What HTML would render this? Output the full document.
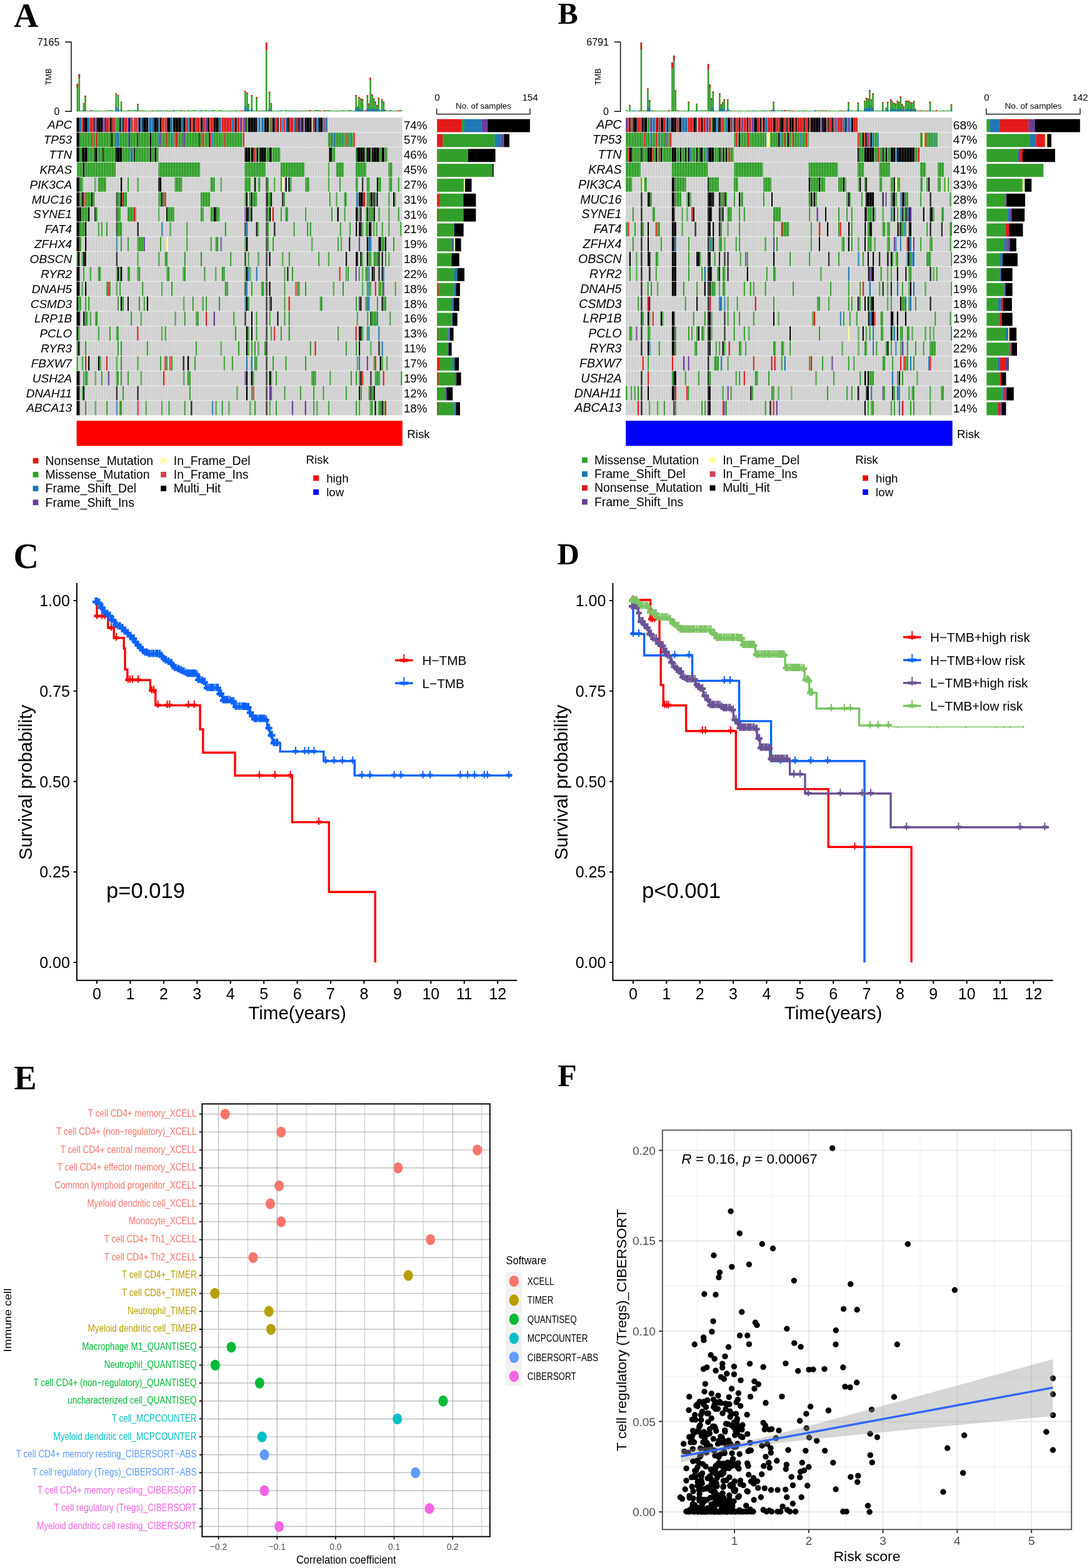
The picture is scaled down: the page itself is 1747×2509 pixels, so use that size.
<!DOCTYPE html>
<html lang="en"><head><meta charset="utf-8"><title>Figure: TMB, survival and immune correlation</title>
<style>
html,body{margin:0;padding:0;background:#fff}
body{width:1747px;height:2509px;overflow:hidden}
svg{display:block;font-family:"Liberation Sans", Arial, Helvetica, sans-serif}
</style></head><body>
<svg width="1747" height="2509" viewBox="0 0 1747 2509">
<rect width="1747" height="2509" fill="#fff"/>
<text x="22" y="43.1" font-size="54.5" font-family='"Liberation Serif", "Times New Roman", serif' font-weight="bold">A</text>
<text x="892.6" y="37.7" font-size="48.2" font-family='"Liberation Serif", "Times New Roman", serif' font-weight="bold">B</text>
<text x="21.6" y="908.8" font-size="56" font-family='"Liberation Serif", "Times New Roman", serif' font-weight="bold">C</text>
<text x="891.6" y="903.3" font-size="48.9" font-family='"Liberation Serif", "Times New Roman", serif' font-weight="bold">D</text>
<text x="22.4" y="1742.8" font-size="54" font-family='"Liberation Serif", "Times New Roman", serif' font-weight="bold">E</text>
<text x="892.2" y="1738.2" font-size="49.8" font-family='"Liberation Serif", "Times New Roman", serif' font-weight="bold">F</text>
<path d="M104 67.3H114V178.2H104" stroke="#000" stroke-width="1.4" fill="none"/>
<text x="95.3" y="73.4" font-size="16" text-anchor="end">7165</text>
<text x="95.3" y="184.1" font-size="16" text-anchor="end">0</text>
<text x="0" y="0" font-size="12.6" text-anchor="middle" transform="translate(82 123) rotate(-90)">TMB</text>
<g shape-rendering="auto">
<rect x="122.6" y="177" width="2.6" height="1.2" fill="#1F78B4"/>
<rect x="125.2" y="176.1" width="2.6" height="2.1" fill="#33A02C"/>
<rect x="127.81" y="176.8" width="2.6" height="1.4" fill="#33A02C"/>
<rect x="130.41" y="176.5" width="2.6" height="1.7" fill="#33A02C"/>
<rect x="133.01" y="176.5" width="2.6" height="1.7" fill="#E31A1C"/>
<rect x="135.62" y="176.1" width="2.6" height="2.1" fill="#33A02C"/>
<rect x="138.22" y="177.2" width="2.6" height="1" fill="#33A02C"/>
<rect x="140.82" y="177.2" width="2.6" height="1" fill="#E31A1C"/>
<rect x="143.43" y="176.5" width="2.6" height="1.7" fill="#1F78B4"/>
<rect x="146.03" y="176.1" width="2.6" height="2.1" fill="#33A02C"/>
<rect x="148.63" y="177.1" width="2.6" height="1.1" fill="#33A02C"/>
<rect x="151.24" y="176.8" width="2.6" height="1.4" fill="#33A02C"/>
<rect x="153.84" y="176.9" width="2.6" height="1.3" fill="#33A02C"/>
<rect x="156.45" y="176.8" width="2.6" height="1.4" fill="#33A02C"/>
<rect x="159.05" y="177.2" width="2.6" height="1" fill="#33A02C"/>
<rect x="161.65" y="177.1" width="2.6" height="1.1" fill="#33A02C"/>
<rect x="164.26" y="177.2" width="2.6" height="1" fill="#E31A1C"/>
<rect x="166.86" y="177.1" width="2.6" height="1.1" fill="#33A02C"/>
<rect x="169.46" y="176.5" width="2.6" height="1.7" fill="#33A02C"/>
<rect x="172.07" y="176.9" width="2.6" height="1.3" fill="#33A02C"/>
<rect x="174.67" y="176.1" width="2.6" height="2.1" fill="#33A02C"/>
<rect x="177.27" y="176.5" width="2.6" height="1.7" fill="#33A02C"/>
<rect x="179.88" y="177" width="2.6" height="1.2" fill="#33A02C"/>
<rect x="182.48" y="177" width="2.6" height="1.2" fill="#33A02C"/>
<rect x="185.08" y="176.1" width="2.6" height="2.1" fill="#33A02C"/>
<rect x="187.69" y="176.8" width="2.6" height="1.4" fill="#33A02C"/>
<rect x="190.29" y="176.5" width="2.6" height="1.7" fill="#33A02C"/>
<rect x="192.89" y="177.1" width="2.6" height="1.1" fill="#33A02C"/>
<rect x="195.5" y="177" width="2.6" height="1.2" fill="#33A02C"/>
<rect x="198.1" y="177.2" width="2.6" height="1" fill="#33A02C"/>
<rect x="200.7" y="177.1" width="2.6" height="1.1" fill="#33A02C"/>
<rect x="203.31" y="176.5" width="2.6" height="1.7" fill="#33A02C"/>
<rect x="205.91" y="176.1" width="2.6" height="2.1" fill="#33A02C"/>
<rect x="208.52" y="176.8" width="2.6" height="1.4" fill="#33A02C"/>
<rect x="211.12" y="176.9" width="2.6" height="1.3" fill="#33A02C"/>
<rect x="213.72" y="176.1" width="2.6" height="2.1" fill="#33A02C"/>
<rect x="216.33" y="176.5" width="2.6" height="1.7" fill="#1F78B4"/>
<rect x="218.93" y="176.1" width="2.6" height="2.1" fill="#33A02C"/>
<rect x="221.53" y="176.5" width="2.6" height="1.7" fill="#33A02C"/>
<rect x="224.14" y="177.1" width="2.6" height="1.1" fill="#E31A1C"/>
<rect x="226.74" y="176.5" width="2.6" height="1.7" fill="#33A02C"/>
<rect x="229.34" y="176.8" width="2.6" height="1.4" fill="#33A02C"/>
<rect x="231.95" y="177.1" width="2.6" height="1.1" fill="#33A02C"/>
<rect x="234.55" y="177.2" width="2.6" height="1" fill="#33A02C"/>
<rect x="237.15" y="177.1" width="2.6" height="1.1" fill="#33A02C"/>
<rect x="239.76" y="177.2" width="2.6" height="1" fill="#33A02C"/>
<rect x="242.36" y="176.9" width="2.6" height="1.3" fill="#E31A1C"/>
<rect x="244.96" y="176.8" width="2.6" height="1.4" fill="#33A02C"/>
<rect x="247.57" y="177.1" width="2.6" height="1.1" fill="#33A02C"/>
<rect x="250.17" y="176.5" width="2.6" height="1.7" fill="#33A02C"/>
<rect x="252.77" y="176.8" width="2.6" height="1.4" fill="#1F78B4"/>
<rect x="255.38" y="176.9" width="2.6" height="1.3" fill="#1F78B4"/>
<rect x="257.98" y="176.5" width="2.6" height="1.7" fill="#33A02C"/>
<rect x="260.59" y="177" width="2.6" height="1.2" fill="#33A02C"/>
<rect x="263.19" y="177" width="2.6" height="1.2" fill="#33A02C"/>
<rect x="265.79" y="176.1" width="2.6" height="2.1" fill="#33A02C"/>
<rect x="268.4" y="176.9" width="2.6" height="1.3" fill="#33A02C"/>
<rect x="271" y="177" width="2.6" height="1.2" fill="#E31A1C"/>
<rect x="273.6" y="176.9" width="2.6" height="1.3" fill="#33A02C"/>
<rect x="276.21" y="176.1" width="2.6" height="2.1" fill="#1F78B4"/>
<rect x="278.81" y="176.8" width="2.6" height="1.4" fill="#33A02C"/>
<rect x="281.41" y="176.8" width="2.6" height="1.4" fill="#33A02C"/>
<rect x="284.02" y="176.9" width="2.6" height="1.3" fill="#33A02C"/>
<rect x="286.62" y="176.5" width="2.6" height="1.7" fill="#33A02C"/>
<rect x="289.22" y="176.1" width="2.6" height="2.1" fill="#33A02C"/>
<rect x="291.83" y="176.9" width="2.6" height="1.3" fill="#33A02C"/>
<rect x="294.43" y="177" width="2.6" height="1.2" fill="#E31A1C"/>
<rect x="297.03" y="177.2" width="2.6" height="1" fill="#33A02C"/>
<rect x="299.64" y="176.1" width="2.6" height="2.1" fill="#33A02C"/>
<rect x="302.24" y="176.9" width="2.6" height="1.3" fill="#33A02C"/>
<rect x="304.84" y="177" width="2.6" height="1.2" fill="#33A02C"/>
<rect x="307.45" y="176.5" width="2.6" height="1.7" fill="#33A02C"/>
<rect x="310.05" y="176.1" width="2.6" height="2.1" fill="#33A02C"/>
<rect x="312.66" y="176.5" width="2.6" height="1.7" fill="#33A02C"/>
<rect x="315.26" y="177.2" width="2.6" height="1" fill="#33A02C"/>
<rect x="317.86" y="176.9" width="2.6" height="1.3" fill="#1F78B4"/>
<rect x="320.47" y="176.1" width="2.6" height="2.1" fill="#1F78B4"/>
<rect x="323.07" y="176.8" width="2.6" height="1.4" fill="#33A02C"/>
<rect x="325.67" y="176.9" width="2.6" height="1.3" fill="#33A02C"/>
<rect x="328.28" y="176.1" width="2.6" height="2.1" fill="#33A02C"/>
<rect x="330.88" y="177.1" width="2.6" height="1.1" fill="#33A02C"/>
<rect x="333.48" y="176.9" width="2.6" height="1.3" fill="#1F78B4"/>
<rect x="336.09" y="177" width="2.6" height="1.2" fill="#33A02C"/>
<rect x="338.69" y="176.1" width="2.6" height="2.1" fill="#33A02C"/>
<rect x="341.29" y="176.1" width="2.6" height="2.1" fill="#33A02C"/>
<rect x="343.9" y="177.2" width="2.6" height="1" fill="#33A02C"/>
<rect x="346.5" y="177.2" width="2.6" height="1" fill="#33A02C"/>
<rect x="349.1" y="176.5" width="2.6" height="1.7" fill="#33A02C"/>
<rect x="351.71" y="176.1" width="2.6" height="2.1" fill="#33A02C"/>
<rect x="354.31" y="177" width="2.6" height="1.2" fill="#33A02C"/>
<rect x="356.91" y="177.2" width="2.6" height="1" fill="#1F78B4"/>
<rect x="359.52" y="177" width="2.6" height="1.2" fill="#33A02C"/>
<rect x="362.12" y="176.8" width="2.6" height="1.4" fill="#33A02C"/>
<rect x="364.73" y="177" width="2.6" height="1.2" fill="#33A02C"/>
<rect x="367.33" y="176.8" width="2.6" height="1.4" fill="#33A02C"/>
<rect x="369.93" y="177" width="2.6" height="1.2" fill="#33A02C"/>
<rect x="372.54" y="177.1" width="2.6" height="1.1" fill="#33A02C"/>
<rect x="375.14" y="176.5" width="2.6" height="1.7" fill="#33A02C"/>
<rect x="377.74" y="176.5" width="2.6" height="1.7" fill="#33A02C"/>
<rect x="380.35" y="177.2" width="2.6" height="1" fill="#33A02C"/>
<rect x="382.95" y="176.8" width="2.6" height="1.4" fill="#E31A1C"/>
<rect x="385.55" y="176.8" width="2.6" height="1.4" fill="#E31A1C"/>
<rect x="388.16" y="176.1" width="2.6" height="2.1" fill="#33A02C"/>
<rect x="390.76" y="176.8" width="2.6" height="1.4" fill="#33A02C"/>
<rect x="393.36" y="176.8" width="2.6" height="1.4" fill="#33A02C"/>
<rect x="395.97" y="177" width="2.6" height="1.2" fill="#1F78B4"/>
<rect x="398.57" y="176.5" width="2.6" height="1.7" fill="#33A02C"/>
<rect x="401.17" y="177" width="2.6" height="1.2" fill="#33A02C"/>
<rect x="403.78" y="176.5" width="2.6" height="1.7" fill="#33A02C"/>
<rect x="406.38" y="177.2" width="2.6" height="1" fill="#33A02C"/>
<rect x="408.98" y="176.5" width="2.6" height="1.7" fill="#33A02C"/>
<rect x="411.59" y="177.1" width="2.6" height="1.1" fill="#E31A1C"/>
<rect x="414.19" y="176.9" width="2.6" height="1.3" fill="#33A02C"/>
<rect x="416.8" y="177.1" width="2.6" height="1.1" fill="#33A02C"/>
<rect x="419.4" y="176.5" width="2.6" height="1.7" fill="#33A02C"/>
<rect x="422" y="176.9" width="2.6" height="1.3" fill="#33A02C"/>
<rect x="424.61" y="176.5" width="2.6" height="1.7" fill="#1F78B4"/>
<rect x="427.21" y="176.1" width="2.6" height="2.1" fill="#33A02C"/>
<rect x="429.81" y="177.1" width="2.6" height="1.1" fill="#E31A1C"/>
<rect x="432.42" y="177.2" width="2.6" height="1" fill="#33A02C"/>
<rect x="435.02" y="177" width="2.6" height="1.2" fill="#33A02C"/>
<rect x="437.62" y="177.2" width="2.6" height="1" fill="#33A02C"/>
<rect x="440.23" y="177.2" width="2.6" height="1" fill="#33A02C"/>
<rect x="442.83" y="176.8" width="2.6" height="1.4" fill="#33A02C"/>
<rect x="445.43" y="177.1" width="2.6" height="1.1" fill="#33A02C"/>
<rect x="448.04" y="176.5" width="2.6" height="1.7" fill="#1F78B4"/>
<rect x="450.64" y="176.8" width="2.6" height="1.4" fill="#33A02C"/>
<rect x="453.24" y="177.2" width="2.6" height="1" fill="#33A02C"/>
<rect x="455.85" y="176.1" width="2.6" height="2.1" fill="#33A02C"/>
<rect x="458.45" y="176.9" width="2.6" height="1.3" fill="#33A02C"/>
<rect x="461.05" y="176.9" width="2.6" height="1.3" fill="#33A02C"/>
<rect x="463.66" y="177" width="2.6" height="1.2" fill="#1F78B4"/>
<rect x="466.26" y="176.9" width="2.6" height="1.3" fill="#33A02C"/>
<rect x="468.87" y="176.5" width="2.6" height="1.7" fill="#33A02C"/>
<rect x="471.47" y="176.8" width="2.6" height="1.4" fill="#33A02C"/>
<rect x="474.07" y="177" width="2.6" height="1.2" fill="#1F78B4"/>
<rect x="476.68" y="177.1" width="2.6" height="1.1" fill="#E31A1C"/>
<rect x="479.28" y="176.9" width="2.6" height="1.3" fill="#33A02C"/>
<rect x="481.88" y="176.5" width="2.6" height="1.7" fill="#33A02C"/>
<rect x="484.49" y="177.1" width="2.6" height="1.1" fill="#E31A1C"/>
<rect x="487.09" y="176.8" width="2.6" height="1.4" fill="#33A02C"/>
<rect x="489.69" y="176.5" width="2.6" height="1.7" fill="#33A02C"/>
<rect x="492.3" y="176.8" width="2.6" height="1.4" fill="#1F78B4"/>
<rect x="494.9" y="176.1" width="2.6" height="2.1" fill="#E31A1C"/>
<rect x="497.5" y="176.8" width="2.6" height="1.4" fill="#33A02C"/>
<rect x="500.11" y="177" width="2.6" height="1.2" fill="#33A02C"/>
<rect x="502.71" y="176.1" width="2.6" height="2.1" fill="#33A02C"/>
<rect x="505.31" y="176.1" width="2.6" height="2.1" fill="#1F78B4"/>
<rect x="507.92" y="176.1" width="2.6" height="2.1" fill="#33A02C"/>
<rect x="510.52" y="176.8" width="2.6" height="1.4" fill="#E31A1C"/>
<rect x="513.12" y="177" width="2.6" height="1.2" fill="#33A02C"/>
<rect x="515.73" y="177.1" width="2.6" height="1.1" fill="#33A02C"/>
<rect x="518.33" y="176.1" width="2.6" height="2.1" fill="#E31A1C"/>
<rect x="520.94" y="176.9" width="2.6" height="1.3" fill="#33A02C"/>
<rect x="523.54" y="176.1" width="2.6" height="2.1" fill="#33A02C"/>
<rect x="526.14" y="176.5" width="2.6" height="1.7" fill="#33A02C"/>
<rect x="528.75" y="177" width="2.6" height="1.2" fill="#33A02C"/>
<rect x="531.35" y="177.1" width="2.6" height="1.1" fill="#33A02C"/>
<rect x="533.95" y="177.2" width="2.6" height="1" fill="#33A02C"/>
<rect x="536.56" y="177" width="2.6" height="1.2" fill="#33A02C"/>
<rect x="539.16" y="176.9" width="2.6" height="1.3" fill="#33A02C"/>
<rect x="541.76" y="176.8" width="2.6" height="1.4" fill="#33A02C"/>
<rect x="544.37" y="176.9" width="2.6" height="1.3" fill="#33A02C"/>
<rect x="546.97" y="176.1" width="2.6" height="2.1" fill="#33A02C"/>
<rect x="549.57" y="176.8" width="2.6" height="1.4" fill="#33A02C"/>
<rect x="552.18" y="176.8" width="2.6" height="1.4" fill="#33A02C"/>
<rect x="554.78" y="176.8" width="2.6" height="1.4" fill="#33A02C"/>
<rect x="557.38" y="176.1" width="2.6" height="2.1" fill="#1F78B4"/>
<rect x="559.99" y="176.1" width="2.6" height="2.1" fill="#33A02C"/>
<rect x="562.59" y="177" width="2.6" height="1.2" fill="#1F78B4"/>
<rect x="565.2" y="176.9" width="2.6" height="1.3" fill="#33A02C"/>
<rect x="567.8" y="176.8" width="2.6" height="1.4" fill="#33A02C"/>
<rect x="570.4" y="176.5" width="2.6" height="1.7" fill="#33A02C"/>
<rect x="573.01" y="176.5" width="2.6" height="1.7" fill="#33A02C"/>
<rect x="575.61" y="176.1" width="2.6" height="2.1" fill="#33A02C"/>
<rect x="578.21" y="176.8" width="2.6" height="1.4" fill="#33A02C"/>
<rect x="580.82" y="176.9" width="2.6" height="1.3" fill="#1F78B4"/>
<rect x="583.42" y="176.1" width="2.6" height="2.1" fill="#E31A1C"/>
<rect x="586.02" y="177.2" width="2.6" height="1" fill="#1F78B4"/>
<rect x="588.63" y="176.9" width="2.6" height="1.3" fill="#33A02C"/>
<rect x="591.23" y="176.9" width="2.6" height="1.3" fill="#33A02C"/>
<rect x="593.83" y="176.8" width="2.6" height="1.4" fill="#33A02C"/>
<rect x="596.44" y="176.8" width="2.6" height="1.4" fill="#1F78B4"/>
<rect x="599.04" y="176.9" width="2.6" height="1.3" fill="#33A02C"/>
<rect x="601.64" y="176.5" width="2.6" height="1.7" fill="#33A02C"/>
<rect x="604.25" y="177.2" width="2.6" height="1" fill="#33A02C"/>
<rect x="606.85" y="176.1" width="2.6" height="2.1" fill="#33A02C"/>
<rect x="609.45" y="177.2" width="2.6" height="1" fill="#1F78B4"/>
<rect x="612.06" y="177.1" width="2.6" height="1.1" fill="#33A02C"/>
<rect x="614.66" y="177.2" width="2.6" height="1" fill="#E31A1C"/>
<rect x="617.27" y="177.2" width="2.6" height="1" fill="#33A02C"/>
<rect x="619.87" y="177" width="2.6" height="1.2" fill="#33A02C"/>
<rect x="622.47" y="176.1" width="2.6" height="2.1" fill="#1F78B4"/>
<rect x="625.08" y="176.5" width="2.6" height="1.7" fill="#33A02C"/>
<rect x="627.68" y="177.2" width="2.6" height="1" fill="#33A02C"/>
<rect x="630.28" y="177" width="2.6" height="1.2" fill="#33A02C"/>
<rect x="632.89" y="177" width="2.6" height="1.2" fill="#33A02C"/>
<rect x="635.49" y="176.5" width="2.6" height="1.7" fill="#E31A1C"/>
<rect x="638.09" y="176.1" width="2.6" height="2.1" fill="#33A02C"/>
<rect x="640.7" y="176.1" width="2.6" height="2.1" fill="#33A02C"/>
<rect x="122.6" y="133.8" width="2.6" height="44.4" fill="#33A02C"/>
<rect x="122.6" y="133.8" width="2.6" height="6" fill="#E31A1C"/>
<rect x="125.5" y="118.8" width="2.6" height="59.4" fill="#33A02C"/>
<rect x="125.5" y="118.8" width="2.6" height="6" fill="#E31A1C"/>
<rect x="132.7" y="165" width="2.6" height="13.2" fill="#33A02C"/>
<rect x="132.7" y="165" width="2.6" height="1" fill="#E31A1C"/>
<rect x="132.7" y="177.2" width="2.6" height="1" fill="#1F78B4"/>
<rect x="135.2" y="153" width="2.6" height="25.2" fill="#33A02C"/>
<rect x="135.2" y="153" width="2.6" height="2" fill="#E31A1C"/>
<rect x="135.2" y="177.2" width="2.6" height="1" fill="#1F78B4"/>
<rect x="184.5" y="149.3" width="2.6" height="28.9" fill="#33A02C"/>
<rect x="184.5" y="149.3" width="2.6" height="2" fill="#E31A1C"/>
<rect x="184.5" y="171.2" width="2.6" height="7" fill="#1F78B4"/>
<rect x="187.7" y="151.8" width="2.6" height="26.4" fill="#33A02C"/>
<rect x="187.7" y="151.8" width="2.6" height="2" fill="#E31A1C"/>
<rect x="187.7" y="173.2" width="2.6" height="5" fill="#1F78B4"/>
<rect x="192.7" y="162.5" width="2.6" height="15.7" fill="#33A02C"/>
<rect x="192.7" y="162.5" width="2.6" height="1" fill="#E31A1C"/>
<rect x="192.7" y="176.2" width="2.6" height="2" fill="#1F78B4"/>
<rect x="219.2" y="166.3" width="2.6" height="11.9" fill="#33A02C"/>
<rect x="219.2" y="166.3" width="2.6" height="2" fill="#E31A1C"/>
<rect x="391" y="145.4" width="2.6" height="32.8" fill="#33A02C"/>
<rect x="391" y="145.4" width="2.6" height="2" fill="#E31A1C"/>
<rect x="391" y="170.2" width="2.6" height="8" fill="#1F78B4"/>
<rect x="394.1" y="148.1" width="2.6" height="30.1" fill="#33A02C"/>
<rect x="394.1" y="148.1" width="2.6" height="2" fill="#E31A1C"/>
<rect x="394.1" y="172.2" width="2.6" height="6" fill="#1F78B4"/>
<rect x="396.2" y="166.4" width="2.6" height="11.8" fill="#33A02C"/>
<rect x="396.2" y="166.4" width="2.6" height="1" fill="#E31A1C"/>
<rect x="396.2" y="175.2" width="2.6" height="3" fill="#1F78B4"/>
<rect x="401.5" y="152.1" width="2.6" height="26.1" fill="#33A02C"/>
<rect x="401.5" y="152.1" width="2.6" height="2" fill="#E31A1C"/>
<rect x="401.5" y="173.2" width="2.6" height="5" fill="#1F78B4"/>
<rect x="409.2" y="155.4" width="2.6" height="22.8" fill="#33A02C"/>
<rect x="409.2" y="155.4" width="2.6" height="2" fill="#E31A1C"/>
<rect x="424.9" y="68" width="2.6" height="110.2" fill="#33A02C"/>
<rect x="424.9" y="68" width="2.6" height="12" fill="#E31A1C"/>
<rect x="429.8" y="146.7" width="2.6" height="31.5" fill="#33A02C"/>
<rect x="429.8" y="146.7" width="2.6" height="2" fill="#E31A1C"/>
<rect x="429.8" y="172.2" width="2.6" height="6" fill="#1F78B4"/>
<rect x="432.6" y="165" width="2.6" height="13.2" fill="#33A02C"/>
<rect x="432.6" y="165" width="2.6" height="1" fill="#E31A1C"/>
<rect x="432.6" y="176.2" width="2.6" height="2" fill="#1F78B4"/>
<rect x="568.3" y="152.1" width="2.6" height="26.1" fill="#33A02C"/>
<rect x="568.3" y="152.1" width="2.6" height="2" fill="#E31A1C"/>
<rect x="568.3" y="173.2" width="2.6" height="5" fill="#1F78B4"/>
<rect x="570.8" y="170" width="2.6" height="8.2" fill="#33A02C"/>
<rect x="570.8" y="175.2" width="2.6" height="3" fill="#1F78B4"/>
<rect x="573.1" y="155" width="2.6" height="23.2" fill="#33A02C"/>
<rect x="573.1" y="155" width="2.6" height="2" fill="#E31A1C"/>
<rect x="573.1" y="173.2" width="2.6" height="5" fill="#1F78B4"/>
<rect x="576.2" y="157.7" width="2.6" height="20.5" fill="#33A02C"/>
<rect x="576.2" y="157.7" width="2.6" height="2" fill="#E31A1C"/>
<rect x="576.2" y="175.2" width="2.6" height="3" fill="#1F78B4"/>
<rect x="578.7" y="158.6" width="2.6" height="19.6" fill="#33A02C"/>
<rect x="578.7" y="158.6" width="2.6" height="2" fill="#E31A1C"/>
<rect x="578.7" y="176.2" width="2.6" height="2" fill="#1F78B4"/>
<rect x="586.5" y="152.4" width="2.6" height="25.8" fill="#33A02C"/>
<rect x="586.5" y="152.4" width="2.6" height="2" fill="#E31A1C"/>
<rect x="586.5" y="173.2" width="2.6" height="5" fill="#1F78B4"/>
<rect x="588.8" y="165.6" width="2.6" height="12.6" fill="#33A02C"/>
<rect x="588.8" y="165.6" width="2.6" height="2" fill="#E31A1C"/>
<rect x="588.8" y="174.2" width="2.6" height="4" fill="#1F78B4"/>
<rect x="591.3" y="124.4" width="2.6" height="53.8" fill="#33A02C"/>
<rect x="591.3" y="124.4" width="2.6" height="4" fill="#E31A1C"/>
<rect x="591.3" y="175.2" width="2.6" height="3" fill="#1F78B4"/>
<rect x="594.2" y="151" width="2.6" height="27.2" fill="#33A02C"/>
<rect x="594.2" y="151" width="2.6" height="2" fill="#E31A1C"/>
<rect x="594.2" y="173.2" width="2.6" height="5" fill="#1F78B4"/>
<rect x="596.7" y="157.2" width="2.6" height="21" fill="#33A02C"/>
<rect x="596.7" y="157.2" width="2.6" height="2" fill="#E31A1C"/>
<rect x="596.7" y="174.2" width="2.6" height="4" fill="#1F78B4"/>
<rect x="599.3" y="162.6" width="2.6" height="15.6" fill="#33A02C"/>
<rect x="599.3" y="162.6" width="2.6" height="2" fill="#E31A1C"/>
<rect x="599.3" y="175.2" width="2.6" height="3" fill="#1F78B4"/>
<rect x="602.1" y="168.2" width="2.6" height="10" fill="#33A02C"/>
<rect x="602.1" y="168.2" width="2.6" height="2" fill="#E31A1C"/>
<rect x="602.1" y="175.2" width="2.6" height="3" fill="#1F78B4"/>
<rect x="604.4" y="156.3" width="2.6" height="21.9" fill="#33A02C"/>
<rect x="604.4" y="156.3" width="2.6" height="2" fill="#E31A1C"/>
<rect x="604.4" y="175.2" width="2.6" height="3" fill="#1F78B4"/>
<rect x="609.8" y="158.6" width="2.6" height="19.6" fill="#33A02C"/>
<rect x="609.8" y="158.6" width="2.6" height="2" fill="#E31A1C"/>
<rect x="609.8" y="174.2" width="2.6" height="4" fill="#1F78B4"/>
<rect x="612.5" y="162.6" width="2.6" height="15.6" fill="#33A02C"/>
<rect x="612.5" y="162.6" width="2.6" height="2" fill="#E31A1C"/>
<rect x="612.5" y="175.2" width="2.6" height="3" fill="#1F78B4"/>
<rect x="615.1" y="175.7" width="2.6" height="2.5" fill="#33A02C"/>
<rect x="615.1" y="175.7" width="2.6" height="1" fill="#E31A1C"/>
</g>
<g>
<rect x="122.6" y="188" width="520.7" height="476.56" fill="#e9e9e9"/>
<rect x="122.6" y="188.35" width="520.7" height="23.1" fill="#d0d0d0"/>
<rect x="122.6" y="212.19" width="520.7" height="23.1" fill="#d0d0d0"/>
<rect x="122.6" y="236.03" width="520.7" height="23.1" fill="#d0d0d0"/>
<rect x="122.6" y="259.87" width="520.7" height="23.1" fill="#d0d0d0"/>
<rect x="122.6" y="283.71" width="520.7" height="23.1" fill="#d0d0d0"/>
<rect x="122.6" y="307.55" width="520.7" height="23.1" fill="#d0d0d0"/>
<rect x="122.6" y="331.39" width="520.7" height="23.1" fill="#d0d0d0"/>
<rect x="122.6" y="355.23" width="520.7" height="23.1" fill="#d0d0d0"/>
<rect x="122.6" y="379.07" width="520.7" height="23.1" fill="#d0d0d0"/>
<rect x="122.6" y="402.91" width="520.7" height="23.1" fill="#d0d0d0"/>
<rect x="122.6" y="426.75" width="520.7" height="23.1" fill="#d0d0d0"/>
<rect x="122.6" y="450.59" width="520.7" height="23.1" fill="#d0d0d0"/>
<rect x="122.6" y="474.43" width="520.7" height="23.1" fill="#d0d0d0"/>
<rect x="122.6" y="498.27" width="520.7" height="23.1" fill="#d0d0d0"/>
<rect x="122.6" y="522.11" width="520.7" height="23.1" fill="#d0d0d0"/>
<rect x="122.6" y="545.95" width="520.7" height="23.1" fill="#d0d0d0"/>
<rect x="122.6" y="569.79" width="520.7" height="23.1" fill="#d0d0d0"/>
<rect x="122.6" y="593.63" width="520.7" height="23.1" fill="#d0d0d0"/>
<rect x="122.6" y="617.47" width="520.7" height="23.1" fill="#d0d0d0"/>
<rect x="122.6" y="641.31" width="520.7" height="23.1" fill="#d0d0d0"/>
<rect x="122.6" y="188.35" width="5" height="23.1" fill="#000000"/>
<rect x="127.6" y="188.35" width="2.53" height="23.1" fill="#1F78B4"/>
<rect x="130.47" y="188.35" width="3.04" height="23.1" fill="#E31A1C"/>
<rect x="133.51" y="188.35" width="6.75" height="23.1" fill="#000000"/>
<rect x="140.26" y="188.35" width="3.38" height="23.1" fill="#1F78B4"/>
<rect x="143.64" y="188.35" width="5.4" height="23.1" fill="#E31A1C"/>
<rect x="149.55" y="188.35" width="1.69" height="23.1" fill="#000000"/>
<rect x="151.24" y="188.35" width="2.87" height="23.1" fill="#6A3D9A"/>
<rect x="154.62" y="188.35" width="9.62" height="23.1" fill="#000000"/>
<rect x="164.24" y="188.35" width="3.38" height="23.1" fill="#6A3D9A"/>
<rect x="168.12" y="188.35" width="1.69" height="23.1" fill="#000000"/>
<rect x="169.81" y="188.35" width="5.4" height="23.1" fill="#E31A1C"/>
<rect x="175.72" y="188.35" width="3.71" height="23.1" fill="#000000"/>
<rect x="179.94" y="188.35" width="4.56" height="23.1" fill="#E31A1C"/>
<rect x="185.01" y="188.35" width="5.91" height="23.1" fill="#33A02C"/>
<rect x="190.92" y="188.35" width="2.03" height="23.1" fill="#000000"/>
<rect x="192.95" y="188.35" width="2.7" height="23.1" fill="#1F78B4"/>
<rect x="195.98" y="188.35" width="1.69" height="23.1" fill="#000000"/>
<rect x="197.67" y="188.35" width="5.4" height="23.1" fill="#E31A1C"/>
<rect x="203.58" y="188.35" width="2.53" height="23.1" fill="#6A3D9A"/>
<rect x="206.12" y="188.35" width="2.53" height="23.1" fill="#000000"/>
<rect x="208.65" y="188.35" width="2.53" height="23.1" fill="#1F78B4"/>
<rect x="211.18" y="188.35" width="2.03" height="23.1" fill="#E31A1C"/>
<rect x="214.56" y="188.35" width="4.56" height="23.1" fill="#E31A1C"/>
<rect x="219.62" y="188.35" width="2.53" height="23.1" fill="#6A3D9A"/>
<rect x="222.16" y="188.35" width="2.53" height="23.1" fill="#000000"/>
<rect x="224.69" y="188.35" width="3.38" height="23.1" fill="#1F78B4"/>
<rect x="228.07" y="188.35" width="8.78" height="23.1" fill="#000000"/>
<rect x="237.35" y="188.35" width="8.44" height="23.1" fill="#1F78B4"/>
<rect x="245.8" y="188.35" width="7.6" height="23.1" fill="#000000"/>
<rect x="253.4" y="188.35" width="2.53" height="23.1" fill="#1F78B4"/>
<rect x="255.93" y="188.35" width="2.53" height="23.1" fill="#000000"/>
<rect x="258.46" y="188.35" width="3.71" height="23.1" fill="#E31A1C"/>
<rect x="262.68" y="188.35" width="3.71" height="23.1" fill="#E31A1C"/>
<rect x="266.9" y="188.35" width="5.91" height="23.1" fill="#000000"/>
<rect x="272.81" y="188.35" width="3.71" height="23.1" fill="#1F78B4"/>
<rect x="277.04" y="188.35" width="13.51" height="23.1" fill="#000000"/>
<rect x="290.54" y="188.35" width="2.53" height="23.1" fill="#1F78B4"/>
<rect x="293.08" y="188.35" width="3.38" height="23.1" fill="#000000"/>
<rect x="296.45" y="188.35" width="3.38" height="23.1" fill="#E31A1C"/>
<rect x="299.83" y="188.35" width="2.87" height="23.1" fill="#1F78B4"/>
<rect x="303.21" y="188.35" width="1.69" height="23.1" fill="#000000"/>
<rect x="304.9" y="188.35" width="3.71" height="23.1" fill="#E31A1C"/>
<rect x="309.12" y="188.35" width="2.87" height="23.1" fill="#000000"/>
<rect x="312.5" y="188.35" width="7.94" height="23.1" fill="#E31A1C"/>
<rect x="320.94" y="188.35" width="3.71" height="23.1" fill="#000000"/>
<rect x="325.16" y="188.35" width="3.38" height="23.1" fill="#E31A1C"/>
<rect x="328.54" y="188.35" width="3.38" height="23.1" fill="#6A3D9A"/>
<rect x="331.91" y="188.35" width="2.87" height="23.1" fill="#000000"/>
<rect x="335.29" y="188.35" width="6.75" height="23.1" fill="#E31A1C"/>
<rect x="342.05" y="188.35" width="8.44" height="23.1" fill="#000000"/>
<rect x="350.49" y="188.35" width="3.71" height="23.1" fill="#1F78B4"/>
<rect x="354.71" y="188.35" width="15.2" height="23.1" fill="#E31A1C"/>
<rect x="369.91" y="188.35" width="3.38" height="23.1" fill="#1F78B4"/>
<rect x="373.28" y="188.35" width="2.53" height="23.1" fill="#E31A1C"/>
<rect x="375.82" y="188.35" width="2.87" height="23.1" fill="#000000"/>
<rect x="379.19" y="188.35" width="3.71" height="23.1" fill="#E31A1C"/>
<rect x="383.41" y="188.35" width="2.53" height="23.1" fill="#6A3D9A"/>
<rect x="385.95" y="188.35" width="1.52" height="23.1" fill="#E31A1C"/>
<rect x="387.53" y="188.35" width="0.84" height="23.1" fill="#E31A1C"/>
<rect x="389.22" y="188.35" width="2.87" height="23.1" fill="#6A3D9A"/>
<rect x="392.6" y="188.35" width="1.69" height="23.1" fill="#000000"/>
<rect x="394.29" y="188.35" width="2.53" height="23.1" fill="#33A02C"/>
<rect x="396.82" y="188.35" width="14.69" height="23.1" fill="#000000"/>
<rect x="412.86" y="188.35" width="3.71" height="23.1" fill="#1F78B4"/>
<rect x="417.93" y="188.35" width="4.56" height="23.1" fill="#1F78B4"/>
<rect x="422.99" y="188.35" width="7.09" height="23.1" fill="#000000"/>
<rect x="430.59" y="188.35" width="2.2" height="23.1" fill="#33A02C"/>
<rect x="433.12" y="188.35" width="2.2" height="23.1" fill="#E31A1C"/>
<rect x="435.66" y="188.35" width="4.56" height="23.1" fill="#000000"/>
<rect x="440.72" y="188.35" width="3.38" height="23.1" fill="#E31A1C"/>
<rect x="444.1" y="188.35" width="1.69" height="23.1" fill="#000000"/>
<rect x="447.48" y="188.35" width="2.87" height="23.1" fill="#E31A1C"/>
<rect x="450.85" y="188.35" width="2.87" height="23.1" fill="#1F78B4"/>
<rect x="454.23" y="188.35" width="2.03" height="23.1" fill="#E31A1C"/>
<rect x="456.76" y="188.35" width="2.53" height="23.1" fill="#1F78B4"/>
<rect x="459.3" y="188.35" width="3.38" height="23.1" fill="#000000"/>
<rect x="462.67" y="188.35" width="7.09" height="23.1" fill="#E31A1C"/>
<rect x="470.27" y="188.35" width="2.53" height="23.1" fill="#1F78B4"/>
<rect x="472.8" y="188.35" width="1.69" height="23.1" fill="#000000"/>
<rect x="474.49" y="188.35" width="2.53" height="23.1" fill="#E31A1C"/>
<rect x="477.03" y="188.35" width="2.53" height="23.1" fill="#000000"/>
<rect x="479.56" y="188.35" width="2.53" height="23.1" fill="#6A3D9A"/>
<rect x="482.09" y="188.35" width="2.53" height="23.1" fill="#000000"/>
<rect x="484.62" y="188.35" width="2.87" height="23.1" fill="#6A3D9A"/>
<rect x="488" y="188.35" width="10.47" height="23.1" fill="#000000"/>
<rect x="500.67" y="188.35" width="2.53" height="23.1" fill="#E31A1C"/>
<rect x="503.2" y="188.35" width="2.53" height="23.1" fill="#000000"/>
<rect x="505.73" y="188.35" width="4.22" height="23.1" fill="#1F78B4"/>
<rect x="509.95" y="188.35" width="6.25" height="23.1" fill="#000000"/>
<rect x="516.37" y="188.35" width="2.36" height="23.1" fill="#1F78B4"/>
<rect x="519.24" y="188.35" width="2.2" height="23.1" fill="#E31A1C"/>
<rect x="521.44" y="188.35" width="2.36" height="23.1" fill="#1F78B4"/>
<rect x="122.6" y="212.19" width="5" height="23.1" fill="#000000"/>
<rect x="127.6" y="212.19" width="18.57" height="23.1" fill="#33A02C"/>
<rect x="146.17" y="212.19" width="2.53" height="23.1" fill="#E31A1C"/>
<rect x="148.71" y="212.19" width="5.07" height="23.1" fill="#33A02C"/>
<rect x="153.77" y="212.19" width="2.53" height="23.1" fill="#E31A1C"/>
<rect x="156.3" y="212.19" width="21.11" height="23.1" fill="#33A02C"/>
<rect x="177.41" y="212.19" width="2.53" height="23.1" fill="#000000"/>
<rect x="179.94" y="212.19" width="5.07" height="23.1" fill="#33A02C"/>
<rect x="185.01" y="212.19" width="5.07" height="23.1" fill="#1F78B4"/>
<rect x="190.08" y="212.19" width="15.2" height="23.1" fill="#33A02C"/>
<rect x="205.27" y="212.19" width="1.18" height="23.1" fill="#1F78B4"/>
<rect x="206.45" y="212.19" width="1.35" height="23.1" fill="#000000"/>
<rect x="207.8" y="212.19" width="11.82" height="23.1" fill="#33A02C"/>
<rect x="219.62" y="212.19" width="1.69" height="23.1" fill="#000000"/>
<rect x="221.31" y="212.19" width="18.57" height="23.1" fill="#33A02C"/>
<rect x="239.89" y="212.19" width="2.53" height="23.1" fill="#000000"/>
<rect x="242.42" y="212.19" width="10.98" height="23.1" fill="#33A02C"/>
<rect x="253.4" y="212.19" width="1.69" height="23.1" fill="#1F78B4"/>
<rect x="255.08" y="212.19" width="2.53" height="23.1" fill="#6A3D9A"/>
<rect x="257.62" y="212.19" width="8.44" height="23.1" fill="#33A02C"/>
<rect x="266.06" y="212.19" width="2.53" height="23.1" fill="#E31A1C"/>
<rect x="268.59" y="212.19" width="5.07" height="23.1" fill="#33A02C"/>
<rect x="273.66" y="212.19" width="2.53" height="23.1" fill="#1F78B4"/>
<rect x="276.19" y="212.19" width="2.87" height="23.1" fill="#33A02C"/>
<rect x="279.57" y="212.19" width="5.07" height="23.1" fill="#E31A1C"/>
<rect x="284.63" y="212.19" width="7.6" height="23.1" fill="#33A02C"/>
<rect x="292.23" y="212.19" width="4.22" height="23.1" fill="#6A3D9A"/>
<rect x="296.45" y="212.19" width="21.95" height="23.1" fill="#33A02C"/>
<rect x="318.41" y="212.19" width="1.69" height="23.1" fill="#000000"/>
<rect x="320.09" y="212.19" width="3.38" height="23.1" fill="#33A02C"/>
<rect x="323.47" y="212.19" width="2.87" height="23.1" fill="#E31A1C"/>
<rect x="326.85" y="212.19" width="7.26" height="23.1" fill="#33A02C"/>
<rect x="334.45" y="212.19" width="1.69" height="23.1" fill="#000000"/>
<rect x="336.14" y="212.19" width="2.03" height="23.1" fill="#E31A1C"/>
<rect x="338.67" y="212.19" width="2.53" height="23.1" fill="#1F78B4"/>
<rect x="341.2" y="212.19" width="15.53" height="23.1" fill="#33A02C"/>
<rect x="357.24" y="212.19" width="2.53" height="23.1" fill="#E31A1C"/>
<rect x="359.77" y="212.19" width="27.69" height="23.1" fill="#33A02C"/>
<rect x="387.53" y="212.19" width="0.51" height="23.1" fill="#33A02C"/>
<rect x="388.71" y="212.19" width="2.2" height="23.1" fill="#E31A1C"/>
<rect x="524.81" y="212.19" width="4.56" height="23.1" fill="#33A02C"/>
<rect x="529.37" y="212.19" width="2.2" height="23.1" fill="#6A3D9A"/>
<rect x="531.57" y="212.19" width="2.03" height="23.1" fill="#33A02C"/>
<rect x="533.59" y="212.19" width="2.53" height="23.1" fill="#1F78B4"/>
<rect x="536.13" y="212.19" width="11.82" height="23.1" fill="#33A02C"/>
<rect x="547.95" y="212.19" width="1.69" height="23.1" fill="#1F78B4"/>
<rect x="549.63" y="212.19" width="2.53" height="23.1" fill="#33A02C"/>
<rect x="552.67" y="212.19" width="2.03" height="23.1" fill="#E31A1C"/>
<rect x="554.7" y="212.19" width="5.91" height="23.1" fill="#33A02C"/>
<rect x="560.61" y="212.19" width="2.53" height="23.1" fill="#1F78B4"/>
<rect x="563.14" y="212.19" width="2.2" height="23.1" fill="#33A02C"/>
<rect x="565.68" y="212.19" width="2.2" height="23.1" fill="#E31A1C"/>
<rect x="122.6" y="236.03" width="5" height="23.1" fill="#000000"/>
<rect x="127.6" y="236.03" width="3.38" height="23.1" fill="#33A02C"/>
<rect x="130.98" y="236.03" width="9.29" height="23.1" fill="#000000"/>
<rect x="140.26" y="236.03" width="10.98" height="23.1" fill="#33A02C"/>
<rect x="151.24" y="236.03" width="4.22" height="23.1" fill="#000000"/>
<rect x="155.46" y="236.03" width="8.78" height="23.1" fill="#33A02C"/>
<rect x="164.24" y="236.03" width="2.2" height="23.1" fill="#000000"/>
<rect x="166.44" y="236.03" width="18.57" height="23.1" fill="#33A02C"/>
<rect x="185.01" y="236.03" width="10.13" height="23.1" fill="#000000"/>
<rect x="195.14" y="236.03" width="13.51" height="23.1" fill="#33A02C"/>
<rect x="208.65" y="236.03" width="3.38" height="23.1" fill="#1F78B4"/>
<rect x="212.03" y="236.03" width="2.53" height="23.1" fill="#33A02C"/>
<rect x="214.56" y="236.03" width="1.69" height="23.1" fill="#000000"/>
<rect x="216.25" y="236.03" width="23.64" height="23.1" fill="#33A02C"/>
<rect x="239.89" y="236.03" width="2.53" height="23.1" fill="#000000"/>
<rect x="242.42" y="236.03" width="5.07" height="23.1" fill="#33A02C"/>
<rect x="247.49" y="236.03" width="2.53" height="23.1" fill="#000000"/>
<rect x="250.02" y="236.03" width="3.38" height="23.1" fill="#33A02C"/>
<rect x="391.42" y="236.03" width="8.78" height="23.1" fill="#000000"/>
<rect x="400.2" y="236.03" width="1.69" height="23.1" fill="#33A02C"/>
<rect x="401.89" y="236.03" width="4.22" height="23.1" fill="#000000"/>
<rect x="406.61" y="236.03" width="2.87" height="23.1" fill="#E31A1C"/>
<rect x="410.33" y="236.03" width="2.53" height="23.1" fill="#000000"/>
<rect x="412.86" y="236.03" width="2.53" height="23.1" fill="#33A02C"/>
<rect x="415.39" y="236.03" width="10.13" height="23.1" fill="#000000"/>
<rect x="425.53" y="236.03" width="5.07" height="23.1" fill="#33A02C"/>
<rect x="430.59" y="236.03" width="4.22" height="23.1" fill="#000000"/>
<rect x="435.66" y="236.03" width="12.66" height="23.1" fill="#33A02C"/>
<rect x="526.5" y="236.03" width="4.56" height="23.1" fill="#000000"/>
<rect x="531.57" y="236.03" width="4.56" height="23.1" fill="#33A02C"/>
<rect x="569.05" y="236.03" width="1.69" height="23.1" fill="#33A02C"/>
<rect x="570.74" y="236.03" width="12.66" height="23.1" fill="#000000"/>
<rect x="584.25" y="236.03" width="2.53" height="23.1" fill="#33A02C"/>
<rect x="586.78" y="236.03" width="5.91" height="23.1" fill="#000000"/>
<rect x="593.03" y="236.03" width="2.2" height="23.1" fill="#33A02C"/>
<rect x="595.23" y="236.03" width="11.82" height="23.1" fill="#000000"/>
<rect x="607.55" y="236.03" width="2.87" height="23.1" fill="#33A02C"/>
<rect x="610.42" y="236.03" width="4.56" height="23.1" fill="#000000"/>
<rect x="615.49" y="236.03" width="4.22" height="23.1" fill="#33A02C"/>
<rect x="123.38" y="259.87" width="9.29" height="23.1" fill="#33A02C"/>
<rect x="132.66" y="259.87" width="2.53" height="23.1" fill="#000000"/>
<rect x="135.2" y="259.87" width="49.81" height="23.1" fill="#33A02C"/>
<rect x="253.4" y="259.87" width="66.7" height="23.1" fill="#33A02C"/>
<rect x="391.42" y="259.87" width="33.26" height="23.1" fill="#33A02C"/>
<rect x="448.83" y="259.87" width="38.33" height="23.1" fill="#33A02C"/>
<rect x="524.81" y="259.87" width="2.03" height="23.1" fill="#33A02C"/>
<rect x="537.81" y="259.87" width="11.82" height="23.1" fill="#33A02C"/>
<rect x="569.05" y="259.87" width="16.89" height="23.1" fill="#33A02C"/>
<rect x="621.4" y="259.87" width="6.25" height="23.1" fill="#33A02C"/>
<rect x="122.6" y="283.71" width="5" height="23.1" fill="#000000"/>
<rect x="127.6" y="283.71" width="5.07" height="23.1" fill="#33A02C"/>
<rect x="151.24" y="283.71" width="2.2" height="23.1" fill="#33A02C"/>
<rect x="156.81" y="283.71" width="13" height="23.1" fill="#33A02C"/>
<rect x="192.95" y="283.71" width="2.53" height="23.1" fill="#000000"/>
<rect x="203.92" y="283.71" width="2.2" height="23.1" fill="#33A02C"/>
<rect x="219.62" y="283.71" width="2.2" height="23.1" fill="#33A02C"/>
<rect x="253.4" y="283.71" width="4.73" height="23.1" fill="#000000"/>
<rect x="279.57" y="283.71" width="11.82" height="23.1" fill="#33A02C"/>
<rect x="336.64" y="283.71" width="7.09" height="23.1" fill="#33A02C"/>
<rect x="352.68" y="283.71" width="2.03" height="23.1" fill="#33A02C"/>
<rect x="391.42" y="283.71" width="9.62" height="23.1" fill="#33A02C"/>
<rect x="406.11" y="283.71" width="1.18" height="23.1" fill="#33A02C"/>
<rect x="407.29" y="283.71" width="2.2" height="23.1" fill="#000000"/>
<rect x="412.86" y="283.71" width="3.38" height="23.1" fill="#33A02C"/>
<rect x="425.53" y="283.71" width="2.03" height="23.1" fill="#000000"/>
<rect x="427.55" y="283.71" width="2.2" height="23.1" fill="#33A02C"/>
<rect x="438.19" y="283.71" width="2.03" height="23.1" fill="#33A02C"/>
<rect x="448.83" y="283.71" width="2.36" height="23.1" fill="#33A02C"/>
<rect x="451.19" y="283.71" width="2.7" height="23.1" fill="#FFFF99"/>
<rect x="456.26" y="283.71" width="2.53" height="23.1" fill="#000000"/>
<rect x="461.32" y="283.71" width="2.2" height="23.1" fill="#000000"/>
<rect x="463.52" y="283.71" width="2.87" height="23.1" fill="#33A02C"/>
<rect x="488.34" y="283.71" width="6.42" height="23.1" fill="#33A02C"/>
<rect x="524.81" y="283.71" width="2.03" height="23.1" fill="#33A02C"/>
<rect x="542.88" y="283.71" width="2.03" height="23.1" fill="#33A02C"/>
<rect x="569.05" y="283.71" width="3.71" height="23.1" fill="#33A02C"/>
<rect x="579.18" y="283.71" width="2.03" height="23.1" fill="#000000"/>
<rect x="586.78" y="283.71" width="4.56" height="23.1" fill="#33A02C"/>
<rect x="602.82" y="283.71" width="2.03" height="23.1" fill="#000000"/>
<rect x="604.85" y="283.71" width="4.73" height="23.1" fill="#33A02C"/>
<rect x="622.24" y="283.71" width="5.07" height="23.1" fill="#33A02C"/>
<rect x="636.59" y="283.71" width="2.03" height="23.1" fill="#33A02C"/>
<rect x="122.6" y="307.55" width="5" height="23.1" fill="#000000"/>
<rect x="128.44" y="307.55" width="2.53" height="23.1" fill="#33A02C"/>
<rect x="130.98" y="307.55" width="2.2" height="23.1" fill="#000000"/>
<rect x="133.17" y="307.55" width="2.36" height="23.1" fill="#E31A1C"/>
<rect x="136.04" y="307.55" width="10.13" height="23.1" fill="#33A02C"/>
<rect x="146.17" y="307.55" width="2.2" height="23.1" fill="#000000"/>
<rect x="148.37" y="307.55" width="2.87" height="23.1" fill="#33A02C"/>
<rect x="185.85" y="307.55" width="1.69" height="23.1" fill="#000000"/>
<rect x="187.54" y="307.55" width="5.4" height="23.1" fill="#33A02C"/>
<rect x="192.95" y="307.55" width="2.53" height="23.1" fill="#000000"/>
<rect x="195.48" y="307.55" width="2.53" height="23.1" fill="#E31A1C"/>
<rect x="198.01" y="307.55" width="5.07" height="23.1" fill="#33A02C"/>
<rect x="253.4" y="307.55" width="4.73" height="23.1" fill="#33A02C"/>
<rect x="258.12" y="307.55" width="2.36" height="23.1" fill="#000000"/>
<rect x="260.99" y="307.55" width="2.2" height="23.1" fill="#33A02C"/>
<rect x="263.19" y="307.55" width="2.53" height="23.1" fill="#E31A1C"/>
<rect x="320.94" y="307.55" width="15.2" height="23.1" fill="#33A02C"/>
<rect x="391.42" y="307.55" width="2.36" height="23.1" fill="#33A02C"/>
<rect x="393.78" y="307.55" width="2.2" height="23.1" fill="#000000"/>
<rect x="398.51" y="307.55" width="2.87" height="23.1" fill="#33A02C"/>
<rect x="401.38" y="307.55" width="2.2" height="23.1" fill="#000000"/>
<rect x="403.91" y="307.55" width="7.26" height="23.1" fill="#33A02C"/>
<rect x="425.53" y="307.55" width="2.53" height="23.1" fill="#000000"/>
<rect x="428.06" y="307.55" width="5.07" height="23.1" fill="#33A02C"/>
<rect x="433.12" y="307.55" width="2.03" height="23.1" fill="#000000"/>
<rect x="451.19" y="307.55" width="2.2" height="23.1" fill="#000000"/>
<rect x="453.39" y="307.55" width="2.53" height="23.1" fill="#33A02C"/>
<rect x="526.84" y="307.55" width="2.03" height="23.1" fill="#33A02C"/>
<rect x="537.48" y="307.55" width="2.03" height="23.1" fill="#33A02C"/>
<rect x="550.48" y="307.55" width="4.22" height="23.1" fill="#33A02C"/>
<rect x="569.9" y="307.55" width="3.38" height="23.1" fill="#1F78B4"/>
<rect x="574.12" y="307.55" width="6.75" height="23.1" fill="#000000"/>
<rect x="580.87" y="307.55" width="3.38" height="23.1" fill="#E31A1C"/>
<rect x="586.78" y="307.55" width="5.07" height="23.1" fill="#33A02C"/>
<rect x="592.35" y="307.55" width="3.71" height="23.1" fill="#000000"/>
<rect x="596.91" y="307.55" width="2.53" height="23.1" fill="#000000"/>
<rect x="599.45" y="307.55" width="2.53" height="23.1" fill="#33A02C"/>
<rect x="602.49" y="307.55" width="2.03" height="23.1" fill="#000000"/>
<rect x="621.4" y="307.55" width="2.03" height="23.1" fill="#33A02C"/>
<rect x="629" y="307.55" width="2.2" height="23.1" fill="#000000"/>
<rect x="631.19" y="307.55" width="2.03" height="23.1" fill="#33A02C"/>
<rect x="122.6" y="331.39" width="7.19" height="23.1" fill="#000000"/>
<rect x="129.79" y="331.39" width="11.31" height="23.1" fill="#33A02C"/>
<rect x="141.11" y="331.39" width="2.2" height="23.1" fill="#000000"/>
<rect x="151.24" y="331.39" width="2.2" height="23.1" fill="#000000"/>
<rect x="153.43" y="331.39" width="2.36" height="23.1" fill="#33A02C"/>
<rect x="185.85" y="331.39" width="1.69" height="23.1" fill="#000000"/>
<rect x="187.54" y="331.39" width="5.4" height="23.1" fill="#33A02C"/>
<rect x="203.92" y="331.39" width="9.79" height="23.1" fill="#33A02C"/>
<rect x="213.71" y="331.39" width="2.53" height="23.1" fill="#E31A1C"/>
<rect x="216.25" y="331.39" width="1.69" height="23.1" fill="#33A02C"/>
<rect x="253.4" y="331.39" width="1.69" height="23.1" fill="#33A02C"/>
<rect x="266.06" y="331.39" width="2.2" height="23.1" fill="#000000"/>
<rect x="268.26" y="331.39" width="10.47" height="23.1" fill="#33A02C"/>
<rect x="320.94" y="331.39" width="4.73" height="23.1" fill="#33A02C"/>
<rect x="336.64" y="331.39" width="5.4" height="23.1" fill="#33A02C"/>
<rect x="342.05" y="331.39" width="4.22" height="23.1" fill="#000000"/>
<rect x="346.27" y="331.39" width="5.07" height="23.1" fill="#33A02C"/>
<rect x="391.42" y="331.39" width="2.03" height="23.1" fill="#6A3D9A"/>
<rect x="393.78" y="331.39" width="4.39" height="23.1" fill="#000000"/>
<rect x="398.85" y="331.39" width="2.53" height="23.1" fill="#33A02C"/>
<rect x="401.38" y="331.39" width="2.2" height="23.1" fill="#000000"/>
<rect x="425.53" y="331.39" width="2.03" height="23.1" fill="#000000"/>
<rect x="428.06" y="331.39" width="2.53" height="23.1" fill="#33A02C"/>
<rect x="430.93" y="331.39" width="2.2" height="23.1" fill="#000000"/>
<rect x="435.66" y="331.39" width="2.53" height="23.1" fill="#E31A1C"/>
<rect x="448.83" y="331.39" width="2.03" height="23.1" fill="#33A02C"/>
<rect x="456.26" y="331.39" width="4.73" height="23.1" fill="#33A02C"/>
<rect x="488.34" y="331.39" width="1.69" height="23.1" fill="#33A02C"/>
<rect x="529.88" y="331.39" width="2.03" height="23.1" fill="#33A02C"/>
<rect x="539.5" y="331.39" width="2.53" height="23.1" fill="#000000"/>
<rect x="550.48" y="331.39" width="2.03" height="23.1" fill="#33A02C"/>
<rect x="569.05" y="331.39" width="3.71" height="23.1" fill="#000000"/>
<rect x="573.78" y="331.39" width="2.03" height="23.1" fill="#33A02C"/>
<rect x="576.14" y="331.39" width="2.2" height="23.1" fill="#000000"/>
<rect x="585.09" y="331.39" width="2.2" height="23.1" fill="#33A02C"/>
<rect x="587.29" y="331.39" width="2.03" height="23.1" fill="#000000"/>
<rect x="590.16" y="331.39" width="6.75" height="23.1" fill="#33A02C"/>
<rect x="597.42" y="331.39" width="2.36" height="23.1" fill="#000000"/>
<rect x="605.36" y="331.39" width="2.2" height="23.1" fill="#33A02C"/>
<rect x="621.4" y="331.39" width="2.03" height="23.1" fill="#33A02C"/>
<rect x="636.59" y="331.39" width="2.03" height="23.1" fill="#33A02C"/>
<rect x="122.6" y="355.23" width="5" height="23.1" fill="#000000"/>
<rect x="127.6" y="355.23" width="8.44" height="23.1" fill="#33A02C"/>
<rect x="136.04" y="355.23" width="2.2" height="23.1" fill="#000000"/>
<rect x="156.81" y="355.23" width="2.03" height="23.1" fill="#33A02C"/>
<rect x="161.88" y="355.23" width="2.03" height="23.1" fill="#33A02C"/>
<rect x="169.81" y="355.23" width="2.2" height="23.1" fill="#33A02C"/>
<rect x="185.85" y="355.23" width="1.69" height="23.1" fill="#000000"/>
<rect x="187.54" y="355.23" width="7.6" height="23.1" fill="#33A02C"/>
<rect x="219.62" y="355.23" width="2.2" height="23.1" fill="#000000"/>
<rect x="258.12" y="355.23" width="2.36" height="23.1" fill="#1F78B4"/>
<rect x="271.46" y="355.23" width="2.2" height="23.1" fill="#33A02C"/>
<rect x="298.14" y="355.23" width="2.03" height="23.1" fill="#33A02C"/>
<rect x="359.77" y="355.23" width="2.2" height="23.1" fill="#33A02C"/>
<rect x="391.42" y="355.23" width="1.69" height="23.1" fill="#000000"/>
<rect x="393.44" y="355.23" width="3.04" height="23.1" fill="#1F78B4"/>
<rect x="409.48" y="355.23" width="2.03" height="23.1" fill="#000000"/>
<rect x="412.02" y="355.23" width="2.03" height="23.1" fill="#33A02C"/>
<rect x="425.53" y="355.23" width="2.03" height="23.1" fill="#000000"/>
<rect x="428.06" y="355.23" width="2.03" height="23.1" fill="#33A02C"/>
<rect x="438.19" y="355.23" width="2.2" height="23.1" fill="#000000"/>
<rect x="469.43" y="355.23" width="2.03" height="23.1" fill="#33A02C"/>
<rect x="491.04" y="355.23" width="2.03" height="23.1" fill="#33A02C"/>
<rect x="495.6" y="355.23" width="2.2" height="23.1" fill="#33A02C"/>
<rect x="543.72" y="355.23" width="2.03" height="23.1" fill="#33A02C"/>
<rect x="558.92" y="355.23" width="2.03" height="23.1" fill="#33A02C"/>
<rect x="569.05" y="355.23" width="2.2" height="23.1" fill="#000000"/>
<rect x="574.12" y="355.23" width="4.22" height="23.1" fill="#000000"/>
<rect x="579.18" y="355.23" width="2.03" height="23.1" fill="#33A02C"/>
<rect x="585.09" y="355.23" width="4.22" height="23.1" fill="#33A02C"/>
<rect x="590.16" y="355.23" width="4.22" height="23.1" fill="#000000"/>
<rect x="596.91" y="355.23" width="2.2" height="23.1" fill="#33A02C"/>
<rect x="601.47" y="355.23" width="2.2" height="23.1" fill="#33A02C"/>
<rect x="610.42" y="355.23" width="2.2" height="23.1" fill="#33A02C"/>
<rect x="621.4" y="355.23" width="2.03" height="23.1" fill="#33A02C"/>
<rect x="639.97" y="355.23" width="2.03" height="23.1" fill="#33A02C"/>
<rect x="122.6" y="379.07" width="5" height="23.1" fill="#000000"/>
<rect x="127.6" y="379.07" width="2.53" height="23.1" fill="#33A02C"/>
<rect x="136.04" y="379.07" width="2.2" height="23.1" fill="#000000"/>
<rect x="185.85" y="379.07" width="2.03" height="23.1" fill="#1F78B4"/>
<rect x="192.95" y="379.07" width="2.2" height="23.1" fill="#33A02C"/>
<rect x="203.92" y="379.07" width="2.03" height="23.1" fill="#33A02C"/>
<rect x="219.62" y="379.07" width="10.13" height="23.1" fill="#33A02C"/>
<rect x="229.76" y="379.07" width="2.03" height="23.1" fill="#6A3D9A"/>
<rect x="255.93" y="379.07" width="2.03" height="23.1" fill="#33A02C"/>
<rect x="266.06" y="379.07" width="2.53" height="23.1" fill="#FFFF99"/>
<rect x="298.14" y="379.07" width="2.03" height="23.1" fill="#33A02C"/>
<rect x="336.64" y="379.07" width="2.03" height="23.1" fill="#33A02C"/>
<rect x="344.58" y="379.07" width="4.73" height="23.1" fill="#33A02C"/>
<rect x="352.68" y="379.07" width="2.03" height="23.1" fill="#6A3D9A"/>
<rect x="391.42" y="379.07" width="2.36" height="23.1" fill="#33A02C"/>
<rect x="393.78" y="379.07" width="2.7" height="23.1" fill="#000000"/>
<rect x="425.53" y="379.07" width="2.03" height="23.1" fill="#000000"/>
<rect x="427.55" y="379.07" width="2.53" height="23.1" fill="#33A02C"/>
<rect x="435.99" y="379.07" width="2.03" height="23.1" fill="#33A02C"/>
<rect x="498.13" y="379.07" width="2.2" height="23.1" fill="#33A02C"/>
<rect x="540.01" y="379.07" width="2.03" height="23.1" fill="#33A02C"/>
<rect x="545.08" y="379.07" width="2.03" height="23.1" fill="#33A02C"/>
<rect x="558.08" y="379.07" width="2.2" height="23.1" fill="#000000"/>
<rect x="573.78" y="379.07" width="2.36" height="23.1" fill="#6A3D9A"/>
<rect x="586.78" y="379.07" width="2.53" height="23.1" fill="#000000"/>
<rect x="589.32" y="379.07" width="5.07" height="23.1" fill="#1F78B4"/>
<rect x="605.36" y="379.07" width="4.22" height="23.1" fill="#000000"/>
<rect x="609.92" y="379.07" width="5.57" height="23.1" fill="#33A02C"/>
<rect x="615.83" y="379.07" width="2.2" height="23.1" fill="#000000"/>
<rect x="629" y="379.07" width="2.03" height="23.1" fill="#33A02C"/>
<rect x="122.6" y="402.91" width="1.62" height="23.1" fill="#33A02C"/>
<rect x="124.22" y="402.91" width="3.38" height="23.1" fill="#000000"/>
<rect x="130.47" y="402.91" width="2.2" height="23.1" fill="#33A02C"/>
<rect x="133.17" y="402.91" width="4.56" height="23.1" fill="#000000"/>
<rect x="185.85" y="402.91" width="2.03" height="23.1" fill="#000000"/>
<rect x="219.62" y="402.91" width="2.03" height="23.1" fill="#33A02C"/>
<rect x="253.4" y="402.91" width="2.03" height="23.1" fill="#33A02C"/>
<rect x="263.53" y="402.91" width="4.73" height="23.1" fill="#33A02C"/>
<rect x="294.77" y="402.91" width="2.2" height="23.1" fill="#33A02C"/>
<rect x="320.94" y="402.91" width="2.2" height="23.1" fill="#33A02C"/>
<rect x="368.22" y="402.91" width="2.03" height="23.1" fill="#33A02C"/>
<rect x="391.42" y="402.91" width="2.03" height="23.1" fill="#000000"/>
<rect x="396.48" y="402.91" width="2.03" height="23.1" fill="#33A02C"/>
<rect x="412.35" y="402.91" width="2.2" height="23.1" fill="#33A02C"/>
<rect x="425.53" y="402.91" width="2.03" height="23.1" fill="#000000"/>
<rect x="430.25" y="402.91" width="2.36" height="23.1" fill="#000000"/>
<rect x="451.19" y="402.91" width="2.03" height="23.1" fill="#33A02C"/>
<rect x="461.83" y="402.91" width="2.03" height="23.1" fill="#33A02C"/>
<rect x="509.11" y="402.91" width="2.03" height="23.1" fill="#33A02C"/>
<rect x="524.81" y="402.91" width="2.03" height="23.1" fill="#33A02C"/>
<rect x="553.01" y="402.91" width="2.2" height="23.1" fill="#000000"/>
<rect x="569.05" y="402.91" width="3.71" height="23.1" fill="#000000"/>
<rect x="576.14" y="402.91" width="2.2" height="23.1" fill="#000000"/>
<rect x="578.85" y="402.91" width="2.03" height="23.1" fill="#33A02C"/>
<rect x="586.78" y="402.91" width="2.53" height="23.1" fill="#000000"/>
<rect x="589.65" y="402.91" width="4.73" height="23.1" fill="#33A02C"/>
<rect x="597.42" y="402.91" width="7.94" height="23.1" fill="#33A02C"/>
<rect x="605.36" y="402.91" width="2.2" height="23.1" fill="#000000"/>
<rect x="610.42" y="402.91" width="2.2" height="23.1" fill="#000000"/>
<rect x="615.99" y="402.91" width="2.03" height="23.1" fill="#33A02C"/>
<rect x="621.4" y="402.91" width="2.03" height="23.1" fill="#33A02C"/>
<rect x="122.6" y="426.75" width="5" height="23.1" fill="#000000"/>
<rect x="133.17" y="426.75" width="2.03" height="23.1" fill="#33A02C"/>
<rect x="143.64" y="426.75" width="2.2" height="23.1" fill="#33A02C"/>
<rect x="156.81" y="426.75" width="4.56" height="23.1" fill="#33A02C"/>
<rect x="185.85" y="426.75" width="1.69" height="23.1" fill="#33A02C"/>
<rect x="187.88" y="426.75" width="2.2" height="23.1" fill="#000000"/>
<rect x="190.58" y="426.75" width="2.03" height="23.1" fill="#33A02C"/>
<rect x="192.95" y="426.75" width="2.53" height="23.1" fill="#000000"/>
<rect x="203.92" y="426.75" width="4.22" height="23.1" fill="#33A02C"/>
<rect x="219.62" y="426.75" width="4.56" height="23.1" fill="#33A02C"/>
<rect x="266.57" y="426.75" width="4.56" height="23.1" fill="#33A02C"/>
<rect x="292.57" y="426.75" width="4.39" height="23.1" fill="#33A02C"/>
<rect x="326.34" y="426.75" width="2.2" height="23.1" fill="#33A02C"/>
<rect x="344.24" y="426.75" width="2.03" height="23.1" fill="#33A02C"/>
<rect x="354.71" y="426.75" width="5.07" height="23.1" fill="#33A02C"/>
<rect x="391.42" y="426.75" width="2.36" height="23.1" fill="#33A02C"/>
<rect x="393.78" y="426.75" width="2.2" height="23.1" fill="#000000"/>
<rect x="395.98" y="426.75" width="2.53" height="23.1" fill="#1F78B4"/>
<rect x="399.35" y="426.75" width="2.03" height="23.1" fill="#33A02C"/>
<rect x="409.48" y="426.75" width="2.2" height="23.1" fill="#1F78B4"/>
<rect x="425.53" y="426.75" width="2.03" height="23.1" fill="#000000"/>
<rect x="454.57" y="426.75" width="2.03" height="23.1" fill="#33A02C"/>
<rect x="459.3" y="426.75" width="2.2" height="23.1" fill="#000000"/>
<rect x="466.89" y="426.75" width="2.2" height="23.1" fill="#33A02C"/>
<rect x="542.54" y="426.75" width="2.03" height="23.1" fill="#E31A1C"/>
<rect x="553.01" y="426.75" width="2.03" height="23.1" fill="#33A02C"/>
<rect x="555.88" y="426.75" width="2.2" height="23.1" fill="#33A02C"/>
<rect x="568.55" y="426.75" width="2.2" height="23.1" fill="#6A3D9A"/>
<rect x="573.78" y="426.75" width="2.03" height="23.1" fill="#33A02C"/>
<rect x="579.18" y="426.75" width="2.03" height="23.1" fill="#33A02C"/>
<rect x="584.25" y="426.75" width="5.07" height="23.1" fill="#33A02C"/>
<rect x="589.32" y="426.75" width="2.03" height="23.1" fill="#1F78B4"/>
<rect x="594.72" y="426.75" width="2.2" height="23.1" fill="#000000"/>
<rect x="597.42" y="426.75" width="2.03" height="23.1" fill="#000000"/>
<rect x="605.36" y="426.75" width="2.2" height="23.1" fill="#000000"/>
<rect x="610.42" y="426.75" width="2.2" height="23.1" fill="#000000"/>
<rect x="612.62" y="426.75" width="2.36" height="23.1" fill="#1F78B4"/>
<rect x="122.6" y="450.59" width="5" height="23.1" fill="#000000"/>
<rect x="130.47" y="450.59" width="2.2" height="23.1" fill="#33A02C"/>
<rect x="136.04" y="450.59" width="2.2" height="23.1" fill="#000000"/>
<rect x="170.15" y="450.59" width="2.2" height="23.1" fill="#33A02C"/>
<rect x="172.35" y="450.59" width="2.53" height="23.1" fill="#E31A1C"/>
<rect x="174.88" y="450.59" width="2.03" height="23.1" fill="#33A02C"/>
<rect x="185.85" y="450.59" width="2.03" height="23.1" fill="#33A02C"/>
<rect x="190.92" y="450.59" width="2.2" height="23.1" fill="#33A02C"/>
<rect x="227.22" y="450.59" width="2.2" height="23.1" fill="#33A02C"/>
<rect x="258.12" y="450.59" width="2.03" height="23.1" fill="#33A02C"/>
<rect x="274" y="450.59" width="2.2" height="23.1" fill="#33A02C"/>
<rect x="359.77" y="450.59" width="5.07" height="23.1" fill="#33A02C"/>
<rect x="391.42" y="450.59" width="1.69" height="23.1" fill="#000000"/>
<rect x="393.44" y="450.59" width="2.53" height="23.1" fill="#1F78B4"/>
<rect x="401.89" y="450.59" width="2.03" height="23.1" fill="#33A02C"/>
<rect x="417.93" y="450.59" width="4.56" height="23.1" fill="#33A02C"/>
<rect x="425.53" y="450.59" width="2.03" height="23.1" fill="#000000"/>
<rect x="430.25" y="450.59" width="2.36" height="23.1" fill="#000000"/>
<rect x="454.57" y="450.59" width="2.03" height="23.1" fill="#33A02C"/>
<rect x="472.47" y="450.59" width="2.03" height="23.1" fill="#E31A1C"/>
<rect x="475.34" y="450.59" width="4.22" height="23.1" fill="#33A02C"/>
<rect x="488" y="450.59" width="2.03" height="23.1" fill="#33A02C"/>
<rect x="532.75" y="450.59" width="2.03" height="23.1" fill="#33A02C"/>
<rect x="547.95" y="450.59" width="2.03" height="23.1" fill="#33A02C"/>
<rect x="579.18" y="450.59" width="2.03" height="23.1" fill="#33A02C"/>
<rect x="586.78" y="450.59" width="2.53" height="23.1" fill="#33A02C"/>
<rect x="589.32" y="450.59" width="2.03" height="23.1" fill="#1F78B4"/>
<rect x="591.85" y="450.59" width="2.2" height="23.1" fill="#33A02C"/>
<rect x="599.78" y="450.59" width="2.2" height="23.1" fill="#E31A1C"/>
<rect x="605.36" y="450.59" width="4.22" height="23.1" fill="#33A02C"/>
<rect x="610.42" y="450.59" width="2.2" height="23.1" fill="#33A02C"/>
<rect x="612.62" y="450.59" width="2.36" height="23.1" fill="#6A3D9A"/>
<rect x="631.53" y="450.59" width="2.03" height="23.1" fill="#33A02C"/>
<rect x="122.6" y="474.43" width="2.47" height="23.1" fill="#000000"/>
<rect x="125.07" y="474.43" width="4.73" height="23.1" fill="#33A02C"/>
<rect x="136.04" y="474.43" width="2.2" height="23.1" fill="#33A02C"/>
<rect x="141.11" y="474.43" width="2.2" height="23.1" fill="#33A02C"/>
<rect x="187.88" y="474.43" width="2.03" height="23.1" fill="#33A02C"/>
<rect x="192.95" y="474.43" width="2.53" height="23.1" fill="#000000"/>
<rect x="195.48" y="474.43" width="2.53" height="23.1" fill="#33A02C"/>
<rect x="203.92" y="474.43" width="2.03" height="23.1" fill="#000000"/>
<rect x="221.82" y="474.43" width="2.2" height="23.1" fill="#33A02C"/>
<rect x="229.76" y="474.43" width="2.03" height="23.1" fill="#33A02C"/>
<rect x="234.82" y="474.43" width="2.2" height="23.1" fill="#000000"/>
<rect x="293.08" y="474.43" width="2.03" height="23.1" fill="#33A02C"/>
<rect x="307.77" y="474.43" width="2.03" height="23.1" fill="#33A02C"/>
<rect x="323.47" y="474.43" width="2.2" height="23.1" fill="#33A02C"/>
<rect x="329.04" y="474.43" width="2.03" height="23.1" fill="#33A02C"/>
<rect x="349.98" y="474.43" width="2.03" height="23.1" fill="#33A02C"/>
<rect x="391.42" y="474.43" width="2.36" height="23.1" fill="#1F78B4"/>
<rect x="393.78" y="474.43" width="2.7" height="23.1" fill="#000000"/>
<rect x="396.48" y="474.43" width="2.36" height="23.1" fill="#33A02C"/>
<rect x="425.53" y="474.43" width="2.03" height="23.1" fill="#000000"/>
<rect x="430.25" y="474.43" width="2.03" height="23.1" fill="#33A02C"/>
<rect x="432.62" y="474.43" width="2.2" height="23.1" fill="#000000"/>
<rect x="454.57" y="474.43" width="2.03" height="23.1" fill="#33A02C"/>
<rect x="461.49" y="474.43" width="2.36" height="23.1" fill="#E31A1C"/>
<rect x="511.64" y="474.43" width="4.22" height="23.1" fill="#33A02C"/>
<rect x="569.05" y="474.43" width="2.03" height="23.1" fill="#33A02C"/>
<rect x="573.78" y="474.43" width="2.36" height="23.1" fill="#6A3D9A"/>
<rect x="576.14" y="474.43" width="2.2" height="23.1" fill="#000000"/>
<rect x="584.25" y="474.43" width="2.2" height="23.1" fill="#33A02C"/>
<rect x="586.78" y="474.43" width="4.56" height="23.1" fill="#1F78B4"/>
<rect x="602.82" y="474.43" width="2.03" height="23.1" fill="#33A02C"/>
<rect x="610.42" y="474.43" width="2.2" height="23.1" fill="#000000"/>
<rect x="612.62" y="474.43" width="5.4" height="23.1" fill="#33A02C"/>
<rect x="122.6" y="498.27" width="5.51" height="23.1" fill="#000000"/>
<rect x="133.17" y="498.27" width="2.36" height="23.1" fill="#000000"/>
<rect x="136.04" y="498.27" width="4.56" height="23.1" fill="#33A02C"/>
<rect x="143.64" y="498.27" width="2.2" height="23.1" fill="#33A02C"/>
<rect x="152.08" y="498.27" width="4.22" height="23.1" fill="#33A02C"/>
<rect x="209.16" y="498.27" width="2.03" height="23.1" fill="#33A02C"/>
<rect x="224.69" y="498.27" width="2.03" height="23.1" fill="#33A02C"/>
<rect x="279.57" y="498.27" width="2.03" height="23.1" fill="#33A02C"/>
<rect x="294.77" y="498.27" width="2.03" height="23.1" fill="#33A02C"/>
<rect x="313.34" y="498.27" width="4.56" height="23.1" fill="#33A02C"/>
<rect x="329.04" y="498.27" width="2.03" height="23.1" fill="#E31A1C"/>
<rect x="341.54" y="498.27" width="2.36" height="23.1" fill="#6A3D9A"/>
<rect x="373.28" y="498.27" width="2.03" height="23.1" fill="#33A02C"/>
<rect x="391.42" y="498.27" width="2.03" height="23.1" fill="#000000"/>
<rect x="401.89" y="498.27" width="2.03" height="23.1" fill="#000000"/>
<rect x="409.48" y="498.27" width="2.03" height="23.1" fill="#33A02C"/>
<rect x="425.53" y="498.27" width="2.03" height="23.1" fill="#000000"/>
<rect x="430.59" y="498.27" width="2.03" height="23.1" fill="#33A02C"/>
<rect x="443.26" y="498.27" width="2.2" height="23.1" fill="#000000"/>
<rect x="454.57" y="498.27" width="2.03" height="23.1" fill="#33A02C"/>
<rect x="461.49" y="498.27" width="2.36" height="23.1" fill="#33A02C"/>
<rect x="570.74" y="498.27" width="2.03" height="23.1" fill="#33A02C"/>
<rect x="587.29" y="498.27" width="2.03" height="23.1" fill="#33A02C"/>
<rect x="592.35" y="498.27" width="2.03" height="23.1" fill="#000000"/>
<rect x="594.72" y="498.27" width="8.11" height="23.1" fill="#33A02C"/>
<rect x="602.82" y="498.27" width="2.03" height="23.1" fill="#1F78B4"/>
<rect x="623.09" y="498.27" width="2.03" height="23.1" fill="#33A02C"/>
<rect x="122.6" y="522.11" width="2.13" height="23.1" fill="#000000"/>
<rect x="124.73" y="522.11" width="2.87" height="23.1" fill="#33A02C"/>
<rect x="156.81" y="522.11" width="2.03" height="23.1" fill="#33A02C"/>
<rect x="174.88" y="522.11" width="2.03" height="23.1" fill="#33A02C"/>
<rect x="185.85" y="522.11" width="4.05" height="23.1" fill="#33A02C"/>
<rect x="219.29" y="522.11" width="2.36" height="23.1" fill="#E31A1C"/>
<rect x="258.12" y="522.11" width="2.03" height="23.1" fill="#33A02C"/>
<rect x="263.53" y="522.11" width="2.2" height="23.1" fill="#33A02C"/>
<rect x="375.82" y="522.11" width="2.2" height="23.1" fill="#33A02C"/>
<rect x="393.78" y="522.11" width="2.7" height="23.1" fill="#000000"/>
<rect x="396.48" y="522.11" width="2.03" height="23.1" fill="#33A02C"/>
<rect x="401.89" y="522.11" width="2.03" height="23.1" fill="#000000"/>
<rect x="409.48" y="522.11" width="2.03" height="23.1" fill="#33A02C"/>
<rect x="425.53" y="522.11" width="2.03" height="23.1" fill="#000000"/>
<rect x="433.12" y="522.11" width="2.03" height="23.1" fill="#33A02C"/>
<rect x="438.02" y="522.11" width="2.2" height="23.1" fill="#E31A1C"/>
<rect x="448.83" y="522.11" width="2.03" height="23.1" fill="#33A02C"/>
<rect x="461.49" y="522.11" width="2.36" height="23.1" fill="#33A02C"/>
<rect x="540.01" y="522.11" width="2.03" height="23.1" fill="#33A02C"/>
<rect x="568.55" y="522.11" width="2.2" height="23.1" fill="#E31A1C"/>
<rect x="574.12" y="522.11" width="4.22" height="23.1" fill="#000000"/>
<rect x="578.85" y="522.11" width="2.36" height="23.1" fill="#33A02C"/>
<rect x="586.78" y="522.11" width="2.53" height="23.1" fill="#33A02C"/>
<rect x="589.32" y="522.11" width="2.03" height="23.1" fill="#1F78B4"/>
<rect x="605.02" y="522.11" width="2.36" height="23.1" fill="#1F78B4"/>
<rect x="122.6" y="545.95" width="2.13" height="23.1" fill="#33A02C"/>
<rect x="124.73" y="545.95" width="2.87" height="23.1" fill="#000000"/>
<rect x="136.04" y="545.95" width="2.03" height="23.1" fill="#33A02C"/>
<rect x="187.88" y="545.95" width="2.03" height="23.1" fill="#33A02C"/>
<rect x="192.95" y="545.95" width="2.2" height="23.1" fill="#33A02C"/>
<rect x="234.82" y="545.95" width="2.03" height="23.1" fill="#33A02C"/>
<rect x="313" y="545.95" width="2.03" height="23.1" fill="#33A02C"/>
<rect x="352.68" y="545.95" width="2.03" height="23.1" fill="#33A02C"/>
<rect x="380.88" y="545.95" width="2.2" height="23.1" fill="#33A02C"/>
<rect x="393.78" y="545.95" width="2.2" height="23.1" fill="#000000"/>
<rect x="396.48" y="545.95" width="2.03" height="23.1" fill="#33A02C"/>
<rect x="401.89" y="545.95" width="2.03" height="23.1" fill="#33A02C"/>
<rect x="406.95" y="545.95" width="2.2" height="23.1" fill="#33A02C"/>
<rect x="412.35" y="545.95" width="2.2" height="23.1" fill="#33A02C"/>
<rect x="422.99" y="545.95" width="2.53" height="23.1" fill="#33A02C"/>
<rect x="425.53" y="545.95" width="2.03" height="23.1" fill="#000000"/>
<rect x="495.6" y="545.95" width="2.2" height="23.1" fill="#33A02C"/>
<rect x="503.2" y="545.95" width="2.36" height="23.1" fill="#E31A1C"/>
<rect x="553.01" y="545.95" width="2.03" height="23.1" fill="#33A02C"/>
<rect x="569.05" y="545.95" width="2.03" height="23.1" fill="#33A02C"/>
<rect x="574.12" y="545.95" width="2.03" height="23.1" fill="#000000"/>
<rect x="592.35" y="545.95" width="2.03" height="23.1" fill="#33A02C"/>
<rect x="605.36" y="545.95" width="2.2" height="23.1" fill="#000000"/>
<rect x="610.42" y="545.95" width="2.2" height="23.1" fill="#1F78B4"/>
<rect x="122.6" y="569.79" width="2.13" height="23.1" fill="#33A02C"/>
<rect x="130.98" y="569.79" width="2.03" height="23.1" fill="#33A02C"/>
<rect x="136.04" y="569.79" width="2.2" height="23.1" fill="#E31A1C"/>
<rect x="141.11" y="569.79" width="2.2" height="23.1" fill="#000000"/>
<rect x="156.81" y="569.79" width="2.36" height="23.1" fill="#000000"/>
<rect x="159.68" y="569.79" width="2.2" height="23.1" fill="#33A02C"/>
<rect x="169.81" y="569.79" width="2.2" height="23.1" fill="#E31A1C"/>
<rect x="185.85" y="569.79" width="2.03" height="23.1" fill="#33A02C"/>
<rect x="192.95" y="569.79" width="2.2" height="23.1" fill="#33A02C"/>
<rect x="219.62" y="569.79" width="2.03" height="23.1" fill="#33A02C"/>
<rect x="255.93" y="569.79" width="2.03" height="23.1" fill="#33A02C"/>
<rect x="263.19" y="569.79" width="2.36" height="23.1" fill="#E31A1C"/>
<rect x="266.06" y="569.79" width="2.03" height="23.1" fill="#33A02C"/>
<rect x="271.13" y="569.79" width="2.2" height="23.1" fill="#E31A1C"/>
<rect x="274" y="569.79" width="2.2" height="23.1" fill="#33A02C"/>
<rect x="292.57" y="569.79" width="2.2" height="23.1" fill="#000000"/>
<rect x="299.83" y="569.79" width="2.53" height="23.1" fill="#000000"/>
<rect x="310.81" y="569.79" width="2.2" height="23.1" fill="#33A02C"/>
<rect x="357.75" y="569.79" width="2.03" height="23.1" fill="#33A02C"/>
<rect x="370.75" y="569.79" width="2.2" height="23.1" fill="#33A02C"/>
<rect x="393.78" y="569.79" width="2.36" height="23.1" fill="#1F78B4"/>
<rect x="401.55" y="569.79" width="2.36" height="23.1" fill="#1F78B4"/>
<rect x="406.95" y="569.79" width="4.56" height="23.1" fill="#33A02C"/>
<rect x="425.53" y="569.79" width="2.03" height="23.1" fill="#000000"/>
<rect x="435.99" y="569.79" width="2.03" height="23.1" fill="#33A02C"/>
<rect x="456.26" y="569.79" width="2.2" height="23.1" fill="#33A02C"/>
<rect x="488" y="569.79" width="2.03" height="23.1" fill="#33A02C"/>
<rect x="570.74" y="569.79" width="2.03" height="23.1" fill="#33A02C"/>
<rect x="573.78" y="569.79" width="2.36" height="23.1" fill="#1F78B4"/>
<rect x="586.78" y="569.79" width="2.2" height="23.1" fill="#6A3D9A"/>
<rect x="597.42" y="569.79" width="2.03" height="23.1" fill="#33A02C"/>
<rect x="599.78" y="569.79" width="2.2" height="23.1" fill="#E31A1C"/>
<rect x="607.55" y="569.79" width="2.36" height="23.1" fill="#000000"/>
<rect x="610.42" y="569.79" width="2.2" height="23.1" fill="#33A02C"/>
<rect x="618.02" y="569.79" width="2.03" height="23.1" fill="#33A02C"/>
<rect x="122.6" y="593.63" width="5" height="23.1" fill="#000000"/>
<rect x="133.17" y="593.63" width="2.03" height="23.1" fill="#33A02C"/>
<rect x="136.04" y="593.63" width="4.56" height="23.1" fill="#33A02C"/>
<rect x="151.74" y="593.63" width="2.03" height="23.1" fill="#33A02C"/>
<rect x="161.88" y="593.63" width="2.03" height="23.1" fill="#33A02C"/>
<rect x="172.68" y="593.63" width="2.36" height="23.1" fill="#6A3D9A"/>
<rect x="185.85" y="593.63" width="4.05" height="23.1" fill="#33A02C"/>
<rect x="192.95" y="593.63" width="2.2" height="23.1" fill="#33A02C"/>
<rect x="203.92" y="593.63" width="2.03" height="23.1" fill="#33A02C"/>
<rect x="224.69" y="593.63" width="2.03" height="23.1" fill="#33A02C"/>
<rect x="260.99" y="593.63" width="2.2" height="23.1" fill="#E31A1C"/>
<rect x="293.08" y="593.63" width="2.03" height="23.1" fill="#33A02C"/>
<rect x="299.83" y="593.63" width="5.07" height="23.1" fill="#33A02C"/>
<rect x="391.42" y="593.63" width="2.03" height="23.1" fill="#6A3D9A"/>
<rect x="393.78" y="593.63" width="2.36" height="23.1" fill="#000000"/>
<rect x="401.55" y="593.63" width="2.36" height="23.1" fill="#000000"/>
<rect x="403.91" y="593.63" width="2.53" height="23.1" fill="#33A02C"/>
<rect x="425.53" y="593.63" width="2.03" height="23.1" fill="#000000"/>
<rect x="430.59" y="593.63" width="2.53" height="23.1" fill="#000000"/>
<rect x="433.12" y="593.63" width="2.03" height="23.1" fill="#33A02C"/>
<rect x="441.06" y="593.63" width="2.03" height="23.1" fill="#33A02C"/>
<rect x="498.13" y="593.63" width="7.43" height="23.1" fill="#33A02C"/>
<rect x="527.35" y="593.63" width="2.03" height="23.1" fill="#33A02C"/>
<rect x="560.95" y="593.63" width="2.03" height="23.1" fill="#33A02C"/>
<rect x="569.05" y="593.63" width="2.03" height="23.1" fill="#33A02C"/>
<rect x="574.12" y="593.63" width="2.03" height="23.1" fill="#33A02C"/>
<rect x="576.14" y="593.63" width="2.2" height="23.1" fill="#000000"/>
<rect x="578.85" y="593.63" width="2.36" height="23.1" fill="#E31A1C"/>
<rect x="592.35" y="593.63" width="2.03" height="23.1" fill="#000000"/>
<rect x="599.78" y="593.63" width="8.11" height="23.1" fill="#33A02C"/>
<rect x="612.62" y="593.63" width="2.36" height="23.1" fill="#E31A1C"/>
<rect x="641.32" y="593.63" width="1.98" height="23.1" fill="#33A02C"/>
<rect x="122.6" y="617.47" width="5" height="23.1" fill="#000000"/>
<rect x="130.98" y="617.47" width="2.2" height="23.1" fill="#33A02C"/>
<rect x="133.17" y="617.47" width="2.03" height="23.1" fill="#000000"/>
<rect x="185.85" y="617.47" width="2.03" height="23.1" fill="#000000"/>
<rect x="195.98" y="617.47" width="2.03" height="23.1" fill="#33A02C"/>
<rect x="219.62" y="617.47" width="2.03" height="23.1" fill="#000000"/>
<rect x="302.87" y="617.47" width="2.03" height="23.1" fill="#33A02C"/>
<rect x="378.35" y="617.47" width="2.03" height="23.1" fill="#33A02C"/>
<rect x="393.78" y="617.47" width="2.36" height="23.1" fill="#000000"/>
<rect x="401.89" y="617.47" width="2.03" height="23.1" fill="#33A02C"/>
<rect x="404.42" y="617.47" width="2.2" height="23.1" fill="#E31A1C"/>
<rect x="425.53" y="617.47" width="2.03" height="23.1" fill="#000000"/>
<rect x="430.59" y="617.47" width="4.56" height="23.1" fill="#6A3D9A"/>
<rect x="454.57" y="617.47" width="2.03" height="23.1" fill="#33A02C"/>
<rect x="479.9" y="617.47" width="2.03" height="23.1" fill="#33A02C"/>
<rect x="501.17" y="617.47" width="2.03" height="23.1" fill="#33A02C"/>
<rect x="516.37" y="617.47" width="2.03" height="23.1" fill="#33A02C"/>
<rect x="553.01" y="617.47" width="2.03" height="23.1" fill="#33A02C"/>
<rect x="574.12" y="617.47" width="2.03" height="23.1" fill="#000000"/>
<rect x="576.65" y="617.47" width="2.2" height="23.1" fill="#33A02C"/>
<rect x="589.65" y="617.47" width="2.2" height="23.1" fill="#33A02C"/>
<rect x="592.35" y="617.47" width="2.03" height="23.1" fill="#000000"/>
<rect x="594.72" y="617.47" width="2.2" height="23.1" fill="#33A02C"/>
<rect x="597.42" y="617.47" width="2.36" height="23.1" fill="#000000"/>
<rect x="122.6" y="641.31" width="5" height="23.1" fill="#000000"/>
<rect x="136.04" y="641.31" width="2.03" height="23.1" fill="#33A02C"/>
<rect x="151.74" y="641.31" width="2.03" height="23.1" fill="#33A02C"/>
<rect x="170.15" y="641.31" width="2.03" height="23.1" fill="#33A02C"/>
<rect x="185.85" y="641.31" width="2.03" height="23.1" fill="#1F78B4"/>
<rect x="190.92" y="641.31" width="4.22" height="23.1" fill="#33A02C"/>
<rect x="219.62" y="641.31" width="2.2" height="23.1" fill="#E31A1C"/>
<rect x="232.8" y="641.31" width="2.03" height="23.1" fill="#33A02C"/>
<rect x="258.12" y="641.31" width="2.03" height="23.1" fill="#33A02C"/>
<rect x="269.44" y="641.31" width="2.03" height="23.1" fill="#33A02C"/>
<rect x="294.77" y="641.31" width="2.03" height="23.1" fill="#33A02C"/>
<rect x="305.23" y="641.31" width="2.2" height="23.1" fill="#000000"/>
<rect x="339.17" y="641.31" width="2.03" height="23.1" fill="#1F78B4"/>
<rect x="344.58" y="641.31" width="2.03" height="23.1" fill="#33A02C"/>
<rect x="354.71" y="641.31" width="2.03" height="23.1" fill="#33A02C"/>
<rect x="365.35" y="641.31" width="2.03" height="23.1" fill="#33A02C"/>
<rect x="399.35" y="641.31" width="2.03" height="23.1" fill="#33A02C"/>
<rect x="406.95" y="641.31" width="2.2" height="23.1" fill="#33A02C"/>
<rect x="425.53" y="641.31" width="2.03" height="23.1" fill="#000000"/>
<rect x="430.59" y="641.31" width="2.03" height="23.1" fill="#33A02C"/>
<rect x="441.06" y="641.31" width="2.03" height="23.1" fill="#33A02C"/>
<rect x="466.89" y="641.31" width="2.2" height="23.1" fill="#6A3D9A"/>
<rect x="487.66" y="641.31" width="2.2" height="23.1" fill="#6A3D9A"/>
<rect x="501.17" y="641.31" width="2.03" height="23.1" fill="#33A02C"/>
<rect x="506.24" y="641.31" width="2.03" height="23.1" fill="#33A02C"/>
<rect x="524.81" y="641.31" width="2.03" height="23.1" fill="#33A02C"/>
<rect x="569.05" y="641.31" width="2.03" height="23.1" fill="#33A02C"/>
<rect x="574.12" y="641.31" width="2.03" height="23.1" fill="#33A02C"/>
<rect x="591.85" y="641.31" width="4.56" height="23.1" fill="#33A02C"/>
<rect x="599.45" y="641.31" width="2.2" height="23.1" fill="#000000"/>
<rect x="605.02" y="641.31" width="5.4" height="23.1" fill="#33A02C"/>
<rect x="610.42" y="641.31" width="2.2" height="23.1" fill="#000000"/>
<rect x="612.95" y="641.31" width="2.53" height="23.1" fill="#33A02C"/>
<rect x="615.83" y="641.31" width="2.2" height="23.1" fill="#E31A1C"/>
<path d="M126.88 188V664.56M131.16 188V664.56M135.44 188V664.56M139.72 188V664.56M144 188V664.56M148.28 188V664.56M152.56 188V664.56M156.84 188V664.56M161.12 188V664.56M165.4 188V664.56M169.68 188V664.56M173.96 188V664.56M178.24 188V664.56M182.52 188V664.56M186.8 188V664.56M191.08 188V664.56M195.36 188V664.56M199.64 188V664.56M203.92 188V664.56M208.2 188V664.56M212.48 188V664.56M216.76 188V664.56M221.04 188V664.56M225.32 188V664.56M229.6 188V664.56M233.88 188V664.56M238.16 188V664.56M242.44 188V664.56M246.72 188V664.56M251 188V664.56M255.28 188V664.56M259.56 188V664.56M263.84 188V664.56M268.12 188V664.56M272.4 188V664.56M276.68 188V664.56M280.96 188V664.56M285.24 188V664.56M289.52 188V664.56M293.8 188V664.56M298.08 188V664.56M302.36 188V664.56M306.64 188V664.56M310.92 188V664.56M315.2 188V664.56M319.48 188V664.56M323.76 188V664.56M328.04 188V664.56M332.32 188V664.56M336.6 188V664.56M340.88 188V664.56M345.16 188V664.56M349.44 188V664.56M353.72 188V664.56M358 188V664.56M362.28 188V664.56M366.56 188V664.56M370.84 188V664.56M375.12 188V664.56M379.4 188V664.56M383.68 188V664.56M387.96 188V664.56M392.24 188V664.56M396.52 188V664.56M400.8 188V664.56M405.08 188V664.56M409.36 188V664.56M413.64 188V664.56M417.92 188V664.56M422.2 188V664.56M426.48 188V664.56M430.76 188V664.56M435.04 188V664.56M439.32 188V664.56M443.6 188V664.56M447.88 188V664.56M452.16 188V664.56M456.44 188V664.56M460.72 188V664.56M465 188V664.56M469.28 188V664.56M473.56 188V664.56M477.84 188V664.56M482.12 188V664.56M486.4 188V664.56M490.68 188V664.56M494.96 188V664.56M499.24 188V664.56M503.52 188V664.56M507.8 188V664.56M512.08 188V664.56M516.36 188V664.56M520.64 188V664.56M524.92 188V664.56M529.2 188V664.56M533.48 188V664.56M537.76 188V664.56M542.04 188V664.56M546.32 188V664.56M550.6 188V664.56M554.88 188V664.56M559.16 188V664.56M563.44 188V664.56M567.72 188V664.56M572 188V664.56M576.28 188V664.56M580.56 188V664.56M584.84 188V664.56M589.12 188V664.56M593.4 188V664.56M597.68 188V664.56M601.96 188V664.56M606.24 188V664.56M610.52 188V664.56M614.8 188V664.56M619.08 188V664.56M623.36 188V664.56M627.64 188V664.56M631.92 188V664.56M636.2 188V664.56M640.48 188V664.56" stroke="#fff" stroke-width="0.9" fill="none" opacity="0.32"/>
<path d="M122.6 211.89H643.3M122.6 235.73H643.3M122.6 259.57H643.3M122.6 283.41H643.3M122.6 307.25H643.3M122.6 331.09H643.3M122.6 354.93H643.3M122.6 378.77H643.3M122.6 402.61H643.3M122.6 426.45H643.3M122.6 450.29H643.3M122.6 474.13H643.3M122.6 497.97H643.3M122.6 521.81H643.3M122.6 545.65H643.3M122.6 569.49H643.3M122.6 593.33H643.3M122.6 617.17H643.3M122.6 641.01H643.3" stroke="#fff" stroke-width="0.7" fill="none" opacity="0.55"/>
</g>
<text x="115.2" y="206.45" font-size="19" font-style="italic" text-anchor="end">APC</text>
<text x="645.9" y="206.55" font-size="18.7">74%</text>
<text x="115.2" y="230.29" font-size="19" font-style="italic" text-anchor="end">TP53</text>
<text x="645.9" y="230.39" font-size="18.7">57%</text>
<text x="115.2" y="254.13" font-size="19" font-style="italic" text-anchor="end">TTN</text>
<text x="645.9" y="254.23" font-size="18.7">46%</text>
<text x="115.2" y="277.97" font-size="19" font-style="italic" text-anchor="end">KRAS</text>
<text x="645.9" y="278.07" font-size="18.7">45%</text>
<text x="115.2" y="301.81" font-size="19" font-style="italic" text-anchor="end">PIK3CA</text>
<text x="645.9" y="301.91" font-size="18.7">27%</text>
<text x="115.2" y="325.65" font-size="19" font-style="italic" text-anchor="end">MUC16</text>
<text x="645.9" y="325.75" font-size="18.7">31%</text>
<text x="115.2" y="349.49" font-size="19" font-style="italic" text-anchor="end">SYNE1</text>
<text x="645.9" y="349.59" font-size="18.7">31%</text>
<text x="115.2" y="373.33" font-size="19" font-style="italic" text-anchor="end">FAT4</text>
<text x="645.9" y="373.43" font-size="18.7">21%</text>
<text x="115.2" y="397.17" font-size="19" font-style="italic" text-anchor="end">ZFHX4</text>
<text x="645.9" y="397.27" font-size="18.7">19%</text>
<text x="115.2" y="421.01" font-size="19" font-style="italic" text-anchor="end">OBSCN</text>
<text x="645.9" y="421.11" font-size="18.7">18%</text>
<text x="115.2" y="444.85" font-size="19" font-style="italic" text-anchor="end">RYR2</text>
<text x="645.9" y="444.95" font-size="18.7">22%</text>
<text x="115.2" y="468.69" font-size="19" font-style="italic" text-anchor="end">DNAH5</text>
<text x="645.9" y="468.79" font-size="18.7">18%</text>
<text x="115.2" y="492.53" font-size="19" font-style="italic" text-anchor="end">CSMD3</text>
<text x="645.9" y="492.63" font-size="18.7">18%</text>
<text x="115.2" y="516.37" font-size="19" font-style="italic" text-anchor="end">LRP1B</text>
<text x="645.9" y="516.47" font-size="18.7">16%</text>
<text x="115.2" y="540.21" font-size="19" font-style="italic" text-anchor="end">PCLO</text>
<text x="645.9" y="540.31" font-size="18.7">13%</text>
<text x="115.2" y="564.05" font-size="19" font-style="italic" text-anchor="end">RYR3</text>
<text x="645.9" y="564.15" font-size="18.7">11%</text>
<text x="115.2" y="587.89" font-size="19" font-style="italic" text-anchor="end">FBXW7</text>
<text x="645.9" y="587.99" font-size="18.7">17%</text>
<text x="115.2" y="611.73" font-size="19" font-style="italic" text-anchor="end">USH2A</text>
<text x="645.9" y="611.83" font-size="18.7">19%</text>
<text x="115.2" y="635.57" font-size="19" font-style="italic" text-anchor="end">DNAH11</text>
<text x="645.9" y="635.67" font-size="18.7">12%</text>
<text x="115.2" y="659.41" font-size="19" font-style="italic" text-anchor="end">ABCA13</text>
<text x="645.9" y="659.51" font-size="18.7">18%</text>
<rect x="122.6" y="673.3" width="521.3" height="40.2" fill="#FF0000"/>
<text x="651.3" y="700.6" font-size="18.7">Risk</text>
<rect x="699.2" y="190.6" width="39.67" height="20.9" fill="#E31A1C"/>
<rect x="738.72" y="190.6" width="4.22" height="20.9" fill="#33A02C"/>
<rect x="742.79" y="190.6" width="27.8" height="20.9" fill="#1F78B4"/>
<rect x="770.44" y="190.6" width="9.91" height="20.9" fill="#6A3D9A"/>
<rect x="780.2" y="190.6" width="67.65" height="20.9" fill="#000000"/>
<rect x="699.2" y="214.44" width="9.26" height="20.9" fill="#E31A1C"/>
<rect x="708.31" y="214.44" width="83.43" height="20.9" fill="#33A02C"/>
<rect x="791.59" y="214.44" width="9.91" height="20.9" fill="#1F78B4"/>
<rect x="801.34" y="214.44" width="3.89" height="20.9" fill="#6A3D9A"/>
<rect x="805.09" y="214.44" width="1.29" height="20.9" fill="#D53E4F"/>
<rect x="806.22" y="214.44" width="8.77" height="20.9" fill="#000000"/>
<rect x="699.2" y="238.28" width="1.45" height="20.9" fill="#E31A1C"/>
<rect x="700.5" y="238.28" width="48.62" height="20.9" fill="#33A02C"/>
<rect x="748.97" y="238.28" width="43.58" height="20.9" fill="#000000"/>
<rect x="699.2" y="262.12" width="88.96" height="20.9" fill="#33A02C"/>
<rect x="788.01" y="262.12" width="1.61" height="20.9" fill="#000000"/>
<rect x="699.2" y="285.96" width="42.93" height="20.9" fill="#33A02C"/>
<rect x="741.98" y="285.96" width="2.1" height="20.9" fill="#FFFF99"/>
<rect x="743.93" y="285.96" width="10.56" height="20.9" fill="#000000"/>
<rect x="699.2" y="309.8" width="3.89" height="20.9" fill="#E31A1C"/>
<rect x="702.94" y="309.8" width="37.88" height="20.9" fill="#33A02C"/>
<rect x="740.68" y="309.8" width="0.8" height="20.9" fill="#1F78B4"/>
<rect x="741.33" y="309.8" width="19.99" height="20.9" fill="#000000"/>
<rect x="699.2" y="333.64" width="1.94" height="20.9" fill="#E31A1C"/>
<rect x="700.99" y="333.64" width="40.32" height="20.9" fill="#33A02C"/>
<rect x="741.16" y="333.64" width="0.64" height="20.9" fill="#1F78B4"/>
<rect x="741.65" y="333.64" width="19.67" height="20.9" fill="#000000"/>
<rect x="699.2" y="357.48" width="26.66" height="20.9" fill="#33A02C"/>
<rect x="725.71" y="357.48" width="1.45" height="20.9" fill="#1F78B4"/>
<rect x="727.01" y="357.48" width="14.63" height="20.9" fill="#000000"/>
<rect x="699.2" y="381.32" width="22.6" height="20.9" fill="#33A02C"/>
<rect x="721.65" y="381.32" width="2.59" height="20.9" fill="#1F78B4"/>
<rect x="724.09" y="381.32" width="2.1" height="20.9" fill="#6A3D9A"/>
<rect x="726.04" y="381.32" width="2.26" height="20.9" fill="#FFFF99"/>
<rect x="728.15" y="381.32" width="9.42" height="20.9" fill="#000000"/>
<rect x="699.2" y="405.16" width="23.41" height="20.9" fill="#33A02C"/>
<rect x="722.46" y="405.16" width="12.35" height="20.9" fill="#000000"/>
<rect x="699.2" y="429" width="1.45" height="20.9" fill="#E31A1C"/>
<rect x="700.5" y="429" width="26.5" height="20.9" fill="#33A02C"/>
<rect x="726.85" y="429" width="5.03" height="20.9" fill="#1F78B4"/>
<rect x="731.73" y="429" width="11.21" height="20.9" fill="#000000"/>
<rect x="699.2" y="452.84" width="2.59" height="20.9" fill="#E31A1C"/>
<rect x="701.64" y="452.84" width="25.04" height="20.9" fill="#33A02C"/>
<rect x="726.53" y="452.84" width="2.59" height="20.9" fill="#1F78B4"/>
<rect x="728.97" y="452.84" width="1.13" height="20.9" fill="#6A3D9A"/>
<rect x="729.94" y="452.84" width="6.01" height="20.9" fill="#000000"/>
<rect x="699.2" y="476.68" width="1.13" height="20.9" fill="#E31A1C"/>
<rect x="700.18" y="476.68" width="22.11" height="20.9" fill="#33A02C"/>
<rect x="722.13" y="476.68" width="2.92" height="20.9" fill="#1F78B4"/>
<rect x="724.9" y="476.68" width="1.29" height="20.9" fill="#6A3D9A"/>
<rect x="726.04" y="476.68" width="8.77" height="20.9" fill="#000000"/>
<rect x="699.2" y="500.52" width="0.96" height="20.9" fill="#E31A1C"/>
<rect x="700.01" y="500.52" width="22.92" height="20.9" fill="#33A02C"/>
<rect x="722.78" y="500.52" width="1.45" height="20.9" fill="#1F78B4"/>
<rect x="724.09" y="500.52" width="7.63" height="20.9" fill="#000000"/>
<rect x="699.2" y="524.36" width="1.94" height="20.9" fill="#E31A1C"/>
<rect x="700.99" y="524.36" width="15.44" height="20.9" fill="#33A02C"/>
<rect x="716.28" y="524.36" width="2.26" height="20.9" fill="#1F78B4"/>
<rect x="718.39" y="524.36" width="1.29" height="20.9" fill="#D53E4F"/>
<rect x="719.53" y="524.36" width="6.01" height="20.9" fill="#000000"/>
<rect x="699.2" y="548.2" width="0.8" height="20.9" fill="#E31A1C"/>
<rect x="699.85" y="548.2" width="17.07" height="20.9" fill="#33A02C"/>
<rect x="716.77" y="548.2" width="0.96" height="20.9" fill="#1F78B4"/>
<rect x="717.58" y="548.2" width="5.03" height="20.9" fill="#000000"/>
<rect x="699.2" y="572.04" width="4.7" height="20.9" fill="#E31A1C"/>
<rect x="703.75" y="572.04" width="20.48" height="20.9" fill="#33A02C"/>
<rect x="724.09" y="572.04" width="3.4" height="20.9" fill="#1F78B4"/>
<rect x="727.34" y="572.04" width="6.82" height="20.9" fill="#000000"/>
<rect x="699.2" y="595.88" width="2.59" height="20.9" fill="#E31A1C"/>
<rect x="701.64" y="595.88" width="26.66" height="20.9" fill="#33A02C"/>
<rect x="728.15" y="595.88" width="2.26" height="20.9" fill="#6A3D9A"/>
<rect x="730.27" y="595.88" width="7.31" height="20.9" fill="#000000"/>
<rect x="699.2" y="619.72" width="0.8" height="20.9" fill="#E31A1C"/>
<rect x="699.85" y="619.72" width="13" height="20.9" fill="#33A02C"/>
<rect x="712.7" y="619.72" width="2.1" height="20.9" fill="#6A3D9A"/>
<rect x="714.65" y="619.72" width="9.58" height="20.9" fill="#000000"/>
<rect x="699.2" y="643.56" width="1.94" height="20.9" fill="#E31A1C"/>
<rect x="700.99" y="643.56" width="25.69" height="20.9" fill="#33A02C"/>
<rect x="726.53" y="643.56" width="2.1" height="20.9" fill="#1F78B4"/>
<rect x="728.48" y="643.56" width="1.45" height="20.9" fill="#6A3D9A"/>
<rect x="729.78" y="643.56" width="6.17" height="20.9" fill="#000000"/>
<path d="M698.6 173.4V182.6H848V173.4" stroke="#000" stroke-width="1.3" fill="none"/>
<text x="699.4" y="160.8" font-size="15.2" text-anchor="middle">0</text>
<text x="848.1" y="160.8" font-size="15.2" text-anchor="middle">154</text>
<text x="773.45" y="174.2" font-size="13.3" text-anchor="middle">No. of samples</text>
<rect x="52.6" y="732.8" width="8.8" height="8.8" fill="#E31A1C"/>
<text x="72.6" y="743.8" font-size="19.4">Nonsense_Mutation</text>
<rect x="52.6" y="755.05" width="8.8" height="8.8" fill="#33A02C"/>
<text x="72.6" y="766.05" font-size="19.4">Missense_Mutation</text>
<rect x="52.6" y="777.3" width="8.8" height="8.8" fill="#1F78B4"/>
<text x="72.6" y="788.3" font-size="19.4">Frame_Shift_Del</text>
<rect x="52.6" y="799.55" width="8.8" height="8.8" fill="#6A3D9A"/>
<text x="72.6" y="810.55" font-size="19.4">Frame_Shift_Ins</text>
<rect x="257.2" y="732.8" width="8.8" height="8.8" fill="#FFFF99"/>
<text x="277.8" y="743.8" font-size="19.4">In_Frame_Del</text>
<rect x="257.2" y="755.05" width="8.8" height="8.8" fill="#D53E4F"/>
<text x="277.8" y="766.05" font-size="19.4">In_Frame_Ins</text>
<rect x="257.2" y="777.3" width="8.8" height="8.8" fill="#000000"/>
<text x="277.8" y="788.3" font-size="19.4">Multi_Hit</text>
<text x="489.4" y="742.4" font-size="18.7">Risk</text>
<rect x="501.2" y="760.6" width="8.8" height="8.8" fill="#FF0000"/>
<text x="522.2" y="771.8" font-size="18.7">high</text>
<rect x="501.2" y="783.1" width="8.8" height="8.8" fill="#0000FF"/>
<text x="522.2" y="794.3" font-size="18.7">low</text>
<path d="M982.6 67.3H992.6V178.2H982.6" stroke="#000" stroke-width="1.4" fill="none"/>
<text x="973.9" y="73.4" font-size="16" text-anchor="end">6791</text>
<text x="973.9" y="184.1" font-size="16" text-anchor="end">0</text>
<text x="0" y="0" font-size="12.6" text-anchor="middle" transform="translate(960.6 123) rotate(-90)">TMB</text>
<g shape-rendering="auto">
<rect x="1001.2" y="176.1" width="2.61" height="2.1" fill="#33A02C"/>
<rect x="1003.81" y="177.2" width="2.61" height="1" fill="#33A02C"/>
<rect x="1006.42" y="176.8" width="2.61" height="1.4" fill="#33A02C"/>
<rect x="1009.03" y="177.1" width="2.61" height="1.1" fill="#33A02C"/>
<rect x="1011.64" y="176.8" width="2.61" height="1.4" fill="#1F78B4"/>
<rect x="1014.25" y="177" width="2.61" height="1.2" fill="#1F78B4"/>
<rect x="1016.86" y="177.2" width="2.61" height="1" fill="#1F78B4"/>
<rect x="1019.47" y="177.1" width="2.61" height="1.1" fill="#33A02C"/>
<rect x="1022.08" y="176.5" width="2.61" height="1.7" fill="#E31A1C"/>
<rect x="1024.69" y="176.1" width="2.61" height="2.1" fill="#33A02C"/>
<rect x="1027.3" y="176.8" width="2.61" height="1.4" fill="#33A02C"/>
<rect x="1029.9" y="176.5" width="2.61" height="1.7" fill="#33A02C"/>
<rect x="1032.51" y="176.8" width="2.61" height="1.4" fill="#33A02C"/>
<rect x="1035.12" y="176.1" width="2.61" height="2.1" fill="#33A02C"/>
<rect x="1037.73" y="176.8" width="2.61" height="1.4" fill="#33A02C"/>
<rect x="1040.34" y="176.8" width="2.61" height="1.4" fill="#E31A1C"/>
<rect x="1042.95" y="176.5" width="2.61" height="1.7" fill="#33A02C"/>
<rect x="1045.56" y="177" width="2.61" height="1.2" fill="#33A02C"/>
<rect x="1048.17" y="177" width="2.61" height="1.2" fill="#33A02C"/>
<rect x="1050.78" y="177" width="2.61" height="1.2" fill="#33A02C"/>
<rect x="1053.39" y="177" width="2.61" height="1.2" fill="#33A02C"/>
<rect x="1056" y="177" width="2.61" height="1.2" fill="#33A02C"/>
<rect x="1058.61" y="176.9" width="2.61" height="1.3" fill="#33A02C"/>
<rect x="1061.22" y="176.8" width="2.61" height="1.4" fill="#33A02C"/>
<rect x="1063.83" y="177.1" width="2.61" height="1.1" fill="#33A02C"/>
<rect x="1066.44" y="177" width="2.61" height="1.2" fill="#33A02C"/>
<rect x="1069.05" y="176.1" width="2.61" height="2.1" fill="#E31A1C"/>
<rect x="1071.66" y="177.1" width="2.61" height="1.1" fill="#33A02C"/>
<rect x="1074.27" y="176.1" width="2.61" height="2.1" fill="#33A02C"/>
<rect x="1076.88" y="176.1" width="2.61" height="2.1" fill="#1F78B4"/>
<rect x="1079.49" y="176.8" width="2.61" height="1.4" fill="#33A02C"/>
<rect x="1082.09" y="176.1" width="2.61" height="2.1" fill="#33A02C"/>
<rect x="1084.7" y="177" width="2.61" height="1.2" fill="#E31A1C"/>
<rect x="1087.31" y="177.1" width="2.61" height="1.1" fill="#33A02C"/>
<rect x="1089.92" y="177.1" width="2.61" height="1.1" fill="#33A02C"/>
<rect x="1092.53" y="177" width="2.61" height="1.2" fill="#33A02C"/>
<rect x="1095.14" y="176.8" width="2.61" height="1.4" fill="#33A02C"/>
<rect x="1097.75" y="176.9" width="2.61" height="1.3" fill="#33A02C"/>
<rect x="1100.36" y="176.1" width="2.61" height="2.1" fill="#33A02C"/>
<rect x="1102.97" y="177.1" width="2.61" height="1.1" fill="#33A02C"/>
<rect x="1105.58" y="176.5" width="2.61" height="1.7" fill="#33A02C"/>
<rect x="1108.19" y="176.9" width="2.61" height="1.3" fill="#33A02C"/>
<rect x="1110.8" y="177.1" width="2.61" height="1.1" fill="#33A02C"/>
<rect x="1113.41" y="176.5" width="2.61" height="1.7" fill="#33A02C"/>
<rect x="1116.02" y="176.8" width="2.61" height="1.4" fill="#33A02C"/>
<rect x="1118.63" y="176.9" width="2.61" height="1.3" fill="#33A02C"/>
<rect x="1121.24" y="176.1" width="2.61" height="2.1" fill="#33A02C"/>
<rect x="1123.85" y="176.8" width="2.61" height="1.4" fill="#33A02C"/>
<rect x="1126.46" y="176.1" width="2.61" height="2.1" fill="#33A02C"/>
<rect x="1129.07" y="176.9" width="2.61" height="1.3" fill="#33A02C"/>
<rect x="1131.68" y="176.9" width="2.61" height="1.3" fill="#1F78B4"/>
<rect x="1134.28" y="176.9" width="2.61" height="1.3" fill="#E31A1C"/>
<rect x="1136.89" y="176.8" width="2.61" height="1.4" fill="#33A02C"/>
<rect x="1139.5" y="176.5" width="2.61" height="1.7" fill="#33A02C"/>
<rect x="1142.11" y="176.8" width="2.61" height="1.4" fill="#1F78B4"/>
<rect x="1144.72" y="177.2" width="2.61" height="1" fill="#33A02C"/>
<rect x="1147.33" y="177.1" width="2.61" height="1.1" fill="#33A02C"/>
<rect x="1149.94" y="176.1" width="2.61" height="2.1" fill="#33A02C"/>
<rect x="1152.55" y="177.1" width="2.61" height="1.1" fill="#33A02C"/>
<rect x="1155.16" y="177.2" width="2.61" height="1" fill="#1F78B4"/>
<rect x="1157.77" y="177.1" width="2.61" height="1.1" fill="#33A02C"/>
<rect x="1160.38" y="176.8" width="2.61" height="1.4" fill="#1F78B4"/>
<rect x="1162.99" y="177" width="2.61" height="1.2" fill="#33A02C"/>
<rect x="1165.6" y="176.1" width="2.61" height="2.1" fill="#33A02C"/>
<rect x="1168.21" y="177" width="2.61" height="1.2" fill="#33A02C"/>
<rect x="1170.82" y="177" width="2.61" height="1.2" fill="#33A02C"/>
<rect x="1173.43" y="177.2" width="2.61" height="1" fill="#E31A1C"/>
<rect x="1176.04" y="177.1" width="2.61" height="1.1" fill="#33A02C"/>
<rect x="1178.65" y="177.2" width="2.61" height="1" fill="#33A02C"/>
<rect x="1181.26" y="176.8" width="2.61" height="1.4" fill="#33A02C"/>
<rect x="1183.87" y="177" width="2.61" height="1.2" fill="#33A02C"/>
<rect x="1186.47" y="177.2" width="2.61" height="1" fill="#33A02C"/>
<rect x="1189.08" y="177.2" width="2.61" height="1" fill="#33A02C"/>
<rect x="1191.69" y="177.2" width="2.61" height="1" fill="#33A02C"/>
<rect x="1194.3" y="176.8" width="2.61" height="1.4" fill="#33A02C"/>
<rect x="1196.91" y="177" width="2.61" height="1.2" fill="#33A02C"/>
<rect x="1199.52" y="177.1" width="2.61" height="1.1" fill="#33A02C"/>
<rect x="1202.13" y="176.9" width="2.61" height="1.3" fill="#33A02C"/>
<rect x="1204.74" y="176.5" width="2.61" height="1.7" fill="#1F78B4"/>
<rect x="1207.35" y="177.2" width="2.61" height="1" fill="#33A02C"/>
<rect x="1209.96" y="177" width="2.61" height="1.2" fill="#33A02C"/>
<rect x="1212.57" y="177.2" width="2.61" height="1" fill="#33A02C"/>
<rect x="1215.18" y="176.9" width="2.61" height="1.3" fill="#33A02C"/>
<rect x="1217.79" y="176.8" width="2.61" height="1.4" fill="#33A02C"/>
<rect x="1220.4" y="176.5" width="2.61" height="1.7" fill="#33A02C"/>
<rect x="1223.01" y="176.8" width="2.61" height="1.4" fill="#33A02C"/>
<rect x="1225.62" y="176.9" width="2.61" height="1.3" fill="#1F78B4"/>
<rect x="1228.23" y="177.1" width="2.61" height="1.1" fill="#33A02C"/>
<rect x="1230.84" y="176.8" width="2.61" height="1.4" fill="#E31A1C"/>
<rect x="1233.45" y="176.1" width="2.61" height="2.1" fill="#1F78B4"/>
<rect x="1236.06" y="177.1" width="2.61" height="1.1" fill="#33A02C"/>
<rect x="1238.66" y="176.5" width="2.61" height="1.7" fill="#33A02C"/>
<rect x="1241.27" y="177.2" width="2.61" height="1" fill="#33A02C"/>
<rect x="1243.88" y="176.1" width="2.61" height="2.1" fill="#33A02C"/>
<rect x="1246.49" y="177.2" width="2.61" height="1" fill="#33A02C"/>
<rect x="1249.1" y="176.1" width="2.61" height="2.1" fill="#33A02C"/>
<rect x="1251.71" y="176.9" width="2.61" height="1.3" fill="#1F78B4"/>
<rect x="1254.32" y="176.1" width="2.61" height="2.1" fill="#E31A1C"/>
<rect x="1256.93" y="176.5" width="2.61" height="1.7" fill="#33A02C"/>
<rect x="1259.54" y="176.8" width="2.61" height="1.4" fill="#33A02C"/>
<rect x="1262.15" y="176.1" width="2.61" height="2.1" fill="#33A02C"/>
<rect x="1264.76" y="176.8" width="2.61" height="1.4" fill="#33A02C"/>
<rect x="1267.37" y="176.9" width="2.61" height="1.3" fill="#E31A1C"/>
<rect x="1269.98" y="177.1" width="2.61" height="1.1" fill="#33A02C"/>
<rect x="1272.59" y="177.1" width="2.61" height="1.1" fill="#33A02C"/>
<rect x="1275.2" y="177" width="2.61" height="1.2" fill="#33A02C"/>
<rect x="1277.81" y="176.8" width="2.61" height="1.4" fill="#33A02C"/>
<rect x="1280.42" y="177" width="2.61" height="1.2" fill="#33A02C"/>
<rect x="1283.03" y="177" width="2.61" height="1.2" fill="#33A02C"/>
<rect x="1285.64" y="176.5" width="2.61" height="1.7" fill="#33A02C"/>
<rect x="1288.25" y="176.9" width="2.61" height="1.3" fill="#33A02C"/>
<rect x="1290.85" y="177" width="2.61" height="1.2" fill="#33A02C"/>
<rect x="1293.46" y="177.1" width="2.61" height="1.1" fill="#33A02C"/>
<rect x="1296.07" y="177.2" width="2.61" height="1" fill="#33A02C"/>
<rect x="1298.68" y="177.2" width="2.61" height="1" fill="#1F78B4"/>
<rect x="1301.29" y="177" width="2.61" height="1.2" fill="#1F78B4"/>
<rect x="1303.9" y="176.1" width="2.61" height="2.1" fill="#1F78B4"/>
<rect x="1306.51" y="177.1" width="2.61" height="1.1" fill="#33A02C"/>
<rect x="1309.12" y="176.8" width="2.61" height="1.4" fill="#E31A1C"/>
<rect x="1311.73" y="176.8" width="2.61" height="1.4" fill="#33A02C"/>
<rect x="1314.34" y="176.1" width="2.61" height="2.1" fill="#33A02C"/>
<rect x="1316.95" y="177" width="2.61" height="1.2" fill="#33A02C"/>
<rect x="1319.56" y="176.5" width="2.61" height="1.7" fill="#E31A1C"/>
<rect x="1322.17" y="177" width="2.61" height="1.2" fill="#33A02C"/>
<rect x="1324.78" y="176.9" width="2.61" height="1.3" fill="#33A02C"/>
<rect x="1327.39" y="177" width="2.61" height="1.2" fill="#33A02C"/>
<rect x="1330" y="177.2" width="2.61" height="1" fill="#33A02C"/>
<rect x="1332.61" y="177" width="2.61" height="1.2" fill="#33A02C"/>
<rect x="1335.22" y="177.2" width="2.61" height="1" fill="#33A02C"/>
<rect x="1337.83" y="177.2" width="2.61" height="1" fill="#33A02C"/>
<rect x="1340.44" y="177.1" width="2.61" height="1.1" fill="#33A02C"/>
<rect x="1343.04" y="176.5" width="2.61" height="1.7" fill="#33A02C"/>
<rect x="1345.65" y="176.9" width="2.61" height="1.3" fill="#E31A1C"/>
<rect x="1348.26" y="177" width="2.61" height="1.2" fill="#33A02C"/>
<rect x="1350.87" y="177.1" width="2.61" height="1.1" fill="#E31A1C"/>
<rect x="1353.48" y="176.5" width="2.61" height="1.7" fill="#33A02C"/>
<rect x="1356.09" y="177.2" width="2.61" height="1" fill="#1F78B4"/>
<rect x="1358.7" y="176.9" width="2.61" height="1.3" fill="#33A02C"/>
<rect x="1361.31" y="176.5" width="2.61" height="1.7" fill="#33A02C"/>
<rect x="1363.92" y="176.9" width="2.61" height="1.3" fill="#33A02C"/>
<rect x="1366.53" y="177.2" width="2.61" height="1" fill="#33A02C"/>
<rect x="1369.14" y="176.8" width="2.61" height="1.4" fill="#33A02C"/>
<rect x="1371.75" y="176.9" width="2.61" height="1.3" fill="#33A02C"/>
<rect x="1374.36" y="176.9" width="2.61" height="1.3" fill="#33A02C"/>
<rect x="1376.97" y="176.8" width="2.61" height="1.4" fill="#33A02C"/>
<rect x="1379.58" y="176.8" width="2.61" height="1.4" fill="#33A02C"/>
<rect x="1382.19" y="176.1" width="2.61" height="2.1" fill="#E31A1C"/>
<rect x="1384.8" y="177.2" width="2.61" height="1" fill="#33A02C"/>
<rect x="1387.41" y="176.8" width="2.61" height="1.4" fill="#33A02C"/>
<rect x="1390.02" y="176.1" width="2.61" height="2.1" fill="#33A02C"/>
<rect x="1392.63" y="176.1" width="2.61" height="2.1" fill="#33A02C"/>
<rect x="1395.23" y="177.2" width="2.61" height="1" fill="#E31A1C"/>
<rect x="1397.84" y="177.1" width="2.61" height="1.1" fill="#33A02C"/>
<rect x="1400.45" y="176.5" width="2.61" height="1.7" fill="#33A02C"/>
<rect x="1403.06" y="176.9" width="2.61" height="1.3" fill="#1F78B4"/>
<rect x="1405.67" y="177.2" width="2.61" height="1" fill="#33A02C"/>
<rect x="1408.28" y="176.8" width="2.61" height="1.4" fill="#33A02C"/>
<rect x="1410.89" y="176.8" width="2.61" height="1.4" fill="#33A02C"/>
<rect x="1413.5" y="177.1" width="2.61" height="1.1" fill="#33A02C"/>
<rect x="1416.11" y="177" width="2.61" height="1.2" fill="#33A02C"/>
<rect x="1418.72" y="177" width="2.61" height="1.2" fill="#33A02C"/>
<rect x="1421.33" y="176.9" width="2.61" height="1.3" fill="#33A02C"/>
<rect x="1423.94" y="176.5" width="2.61" height="1.7" fill="#33A02C"/>
<rect x="1426.55" y="177" width="2.61" height="1.2" fill="#33A02C"/>
<rect x="1429.16" y="176.5" width="2.61" height="1.7" fill="#33A02C"/>
<rect x="1431.77" y="176.8" width="2.61" height="1.4" fill="#33A02C"/>
<rect x="1434.38" y="177.2" width="2.61" height="1" fill="#33A02C"/>
<rect x="1436.99" y="176.9" width="2.61" height="1.3" fill="#33A02C"/>
<rect x="1439.6" y="177.1" width="2.61" height="1.1" fill="#E31A1C"/>
<rect x="1442.21" y="177" width="2.61" height="1.2" fill="#33A02C"/>
<rect x="1444.82" y="177.2" width="2.61" height="1" fill="#1F78B4"/>
<rect x="1447.42" y="177.1" width="2.61" height="1.1" fill="#33A02C"/>
<rect x="1450.03" y="176.1" width="2.61" height="2.1" fill="#33A02C"/>
<rect x="1452.64" y="177.1" width="2.61" height="1.1" fill="#33A02C"/>
<rect x="1455.25" y="176.8" width="2.61" height="1.4" fill="#33A02C"/>
<rect x="1457.86" y="176.5" width="2.61" height="1.7" fill="#33A02C"/>
<rect x="1460.47" y="176.1" width="2.61" height="2.1" fill="#33A02C"/>
<rect x="1463.08" y="176.8" width="2.61" height="1.4" fill="#33A02C"/>
<rect x="1465.69" y="176.9" width="2.61" height="1.3" fill="#33A02C"/>
<rect x="1468.3" y="177.1" width="2.61" height="1.1" fill="#E31A1C"/>
<rect x="1470.91" y="176.5" width="2.61" height="1.7" fill="#33A02C"/>
<rect x="1473.52" y="176.5" width="2.61" height="1.7" fill="#33A02C"/>
<rect x="1476.13" y="177" width="2.61" height="1.2" fill="#33A02C"/>
<rect x="1478.74" y="176.9" width="2.61" height="1.3" fill="#33A02C"/>
<rect x="1481.35" y="176.9" width="2.61" height="1.3" fill="#E31A1C"/>
<rect x="1483.96" y="177.1" width="2.61" height="1.1" fill="#33A02C"/>
<rect x="1486.57" y="176.9" width="2.61" height="1.3" fill="#1F78B4"/>
<rect x="1489.18" y="177.2" width="2.61" height="1" fill="#33A02C"/>
<rect x="1491.79" y="176.8" width="2.61" height="1.4" fill="#33A02C"/>
<rect x="1494.4" y="176.9" width="2.61" height="1.3" fill="#33A02C"/>
<rect x="1497.01" y="176.1" width="2.61" height="2.1" fill="#E31A1C"/>
<rect x="1499.61" y="177.2" width="2.61" height="1" fill="#33A02C"/>
<rect x="1502.22" y="177.1" width="2.61" height="1.1" fill="#33A02C"/>
<rect x="1504.83" y="177" width="2.61" height="1.2" fill="#33A02C"/>
<rect x="1507.44" y="176.5" width="2.61" height="1.7" fill="#33A02C"/>
<rect x="1510.05" y="177.1" width="2.61" height="1.1" fill="#33A02C"/>
<rect x="1512.66" y="176.5" width="2.61" height="1.7" fill="#33A02C"/>
<rect x="1515.27" y="176.9" width="2.61" height="1.3" fill="#33A02C"/>
<rect x="1517.88" y="177.2" width="2.61" height="1" fill="#33A02C"/>
<rect x="1520.49" y="176.9" width="2.61" height="1.3" fill="#E31A1C"/>
<rect x="1006.2" y="167.7" width="2.6" height="10.5" fill="#33A02C"/>
<rect x="1006.2" y="167.7" width="2.6" height="1.5" fill="#E31A1C"/>
<rect x="1024.6" y="68" width="2.6" height="110.2" fill="#33A02C"/>
<rect x="1024.6" y="68" width="2.6" height="11" fill="#E31A1C"/>
<rect x="1035.1" y="141.4" width="2.6" height="36.8" fill="#33A02C"/>
<rect x="1035.1" y="141.4" width="2.6" height="2" fill="#E31A1C"/>
<rect x="1035.1" y="170.2" width="2.6" height="8" fill="#1F78B4"/>
<rect x="1037.9" y="160.3" width="2.6" height="17.9" fill="#33A02C"/>
<rect x="1037.9" y="160.3" width="2.6" height="2" fill="#E31A1C"/>
<rect x="1037.9" y="173.2" width="2.6" height="5" fill="#1F78B4"/>
<rect x="1074.1" y="99.9" width="2.6" height="78.3" fill="#33A02C"/>
<rect x="1074.1" y="99.9" width="2.6" height="9" fill="#E31A1C"/>
<rect x="1076.8" y="88.9" width="2.6" height="89.3" fill="#33A02C"/>
<rect x="1076.8" y="88.9" width="2.6" height="8" fill="#E31A1C"/>
<rect x="1079.4" y="144.6" width="2.6" height="33.6" fill="#33A02C"/>
<rect x="1079.4" y="144.6" width="2.6" height="2" fill="#E31A1C"/>
<rect x="1100.4" y="162.6" width="2.6" height="15.6" fill="#33A02C"/>
<rect x="1100.4" y="162.6" width="2.6" height="2" fill="#E31A1C"/>
<rect x="1100.4" y="177.2" width="2.6" height="1" fill="#1F78B4"/>
<rect x="1113.4" y="165.9" width="2.6" height="12.3" fill="#33A02C"/>
<rect x="1113.4" y="165.9" width="2.6" height="1" fill="#E31A1C"/>
<rect x="1113.4" y="177.2" width="2.6" height="1" fill="#1F78B4"/>
<rect x="1131.8" y="102.5" width="2.6" height="75.7" fill="#33A02C"/>
<rect x="1131.8" y="102.5" width="2.6" height="9" fill="#E31A1C"/>
<rect x="1134.2" y="134.9" width="2.6" height="43.3" fill="#33A02C"/>
<rect x="1134.2" y="134.9" width="2.6" height="6" fill="#E31A1C"/>
<rect x="1137" y="157.2" width="2.6" height="21" fill="#33A02C"/>
<rect x="1137" y="157.2" width="2.6" height="2" fill="#E31A1C"/>
<rect x="1137" y="173.2" width="2.6" height="5" fill="#1F78B4"/>
<rect x="1139.5" y="146.3" width="2.6" height="31.9" fill="#33A02C"/>
<rect x="1139.5" y="146.3" width="2.6" height="2" fill="#E31A1C"/>
<rect x="1139.5" y="172.2" width="2.6" height="6" fill="#1F78B4"/>
<rect x="1150" y="149.3" width="2.6" height="28.9" fill="#33A02C"/>
<rect x="1150" y="149.3" width="2.6" height="2" fill="#E31A1C"/>
<rect x="1150" y="171.2" width="2.6" height="7" fill="#1F78B4"/>
<rect x="1152.4" y="166.8" width="2.6" height="11.4" fill="#33A02C"/>
<rect x="1152.4" y="166.8" width="2.6" height="2" fill="#E31A1C"/>
<rect x="1152.4" y="174.2" width="2.6" height="4" fill="#1F78B4"/>
<rect x="1155" y="163.5" width="2.6" height="14.7" fill="#33A02C"/>
<rect x="1155" y="163.5" width="2.6" height="2" fill="#E31A1C"/>
<rect x="1155" y="175.2" width="2.6" height="3" fill="#1F78B4"/>
<rect x="1157.5" y="158.6" width="2.6" height="19.6" fill="#33A02C"/>
<rect x="1157.5" y="158.6" width="2.6" height="2" fill="#E31A1C"/>
<rect x="1157.5" y="174.7" width="2.6" height="3.5" fill="#1F78B4"/>
<rect x="1162.9" y="158.9" width="2.6" height="19.3" fill="#33A02C"/>
<rect x="1162.9" y="158.9" width="2.6" height="2" fill="#E31A1C"/>
<rect x="1162.9" y="174.2" width="2.6" height="4" fill="#1F78B4"/>
<rect x="1236.3" y="162.9" width="2.6" height="15.3" fill="#33A02C"/>
<rect x="1236.3" y="162.9" width="2.6" height="1.5" fill="#E31A1C"/>
<rect x="1236.3" y="175.2" width="2.6" height="3" fill="#1F78B4"/>
<rect x="1356.2" y="163.5" width="2.6" height="14.7" fill="#33A02C"/>
<rect x="1356.2" y="163.5" width="2.6" height="1.5" fill="#E31A1C"/>
<rect x="1356.2" y="174.7" width="2.6" height="3.5" fill="#1F78B4"/>
<rect x="1371.6" y="164.2" width="2.6" height="14" fill="#33A02C"/>
<rect x="1371.6" y="164.2" width="2.6" height="1.5" fill="#E31A1C"/>
<rect x="1371.6" y="175.2" width="2.6" height="3" fill="#1F78B4"/>
<rect x="1382.1" y="161.5" width="2.6" height="16.7" fill="#33A02C"/>
<rect x="1382.1" y="161.5" width="2.6" height="1.5" fill="#E31A1C"/>
<rect x="1382.1" y="174.2" width="2.6" height="4" fill="#1F78B4"/>
<rect x="1384.8" y="156.5" width="2.6" height="21.7" fill="#33A02C"/>
<rect x="1384.8" y="156.5" width="2.6" height="1.5" fill="#E31A1C"/>
<rect x="1384.8" y="172.7" width="2.6" height="5.5" fill="#1F78B4"/>
<rect x="1387.4" y="157.7" width="2.6" height="20.5" fill="#33A02C"/>
<rect x="1387.4" y="157.7" width="2.6" height="1.5" fill="#E31A1C"/>
<rect x="1387.4" y="173.5" width="2.6" height="4.7" fill="#1F78B4"/>
<rect x="1390" y="144" width="2.6" height="34.2" fill="#33A02C"/>
<rect x="1390" y="144" width="2.6" height="1.5" fill="#E31A1C"/>
<rect x="1390" y="169.2" width="2.6" height="9" fill="#1F78B4"/>
<rect x="1392.8" y="158.9" width="2.6" height="19.3" fill="#33A02C"/>
<rect x="1392.8" y="158.9" width="2.6" height="1.5" fill="#E31A1C"/>
<rect x="1392.8" y="174.2" width="2.6" height="4" fill="#1F78B4"/>
<rect x="1395.3" y="149.3" width="2.6" height="28.9" fill="#33A02C"/>
<rect x="1395.3" y="149.3" width="2.6" height="2" fill="#E31A1C"/>
<rect x="1395.3" y="172.7" width="2.6" height="5.5" fill="#1F78B4"/>
<rect x="1411" y="163.5" width="2.6" height="14.7" fill="#33A02C"/>
<rect x="1411" y="163.5" width="2.6" height="1.5" fill="#E31A1C"/>
<rect x="1411" y="176.2" width="2.6" height="2" fill="#1F78B4"/>
<rect x="1416.3" y="172.6" width="2.6" height="5.6" fill="#33A02C"/>
<rect x="1416.3" y="172.6" width="2.6" height="1" fill="#E31A1C"/>
<rect x="1416.3" y="177.2" width="2.6" height="1" fill="#1F78B4"/>
<rect x="1418.7" y="162.9" width="2.6" height="15.3" fill="#33A02C"/>
<rect x="1418.7" y="162.9" width="2.6" height="1.5" fill="#E31A1C"/>
<rect x="1418.7" y="175.2" width="2.6" height="3" fill="#1F78B4"/>
<rect x="1424" y="158.9" width="2.6" height="19.3" fill="#33A02C"/>
<rect x="1424" y="158.9" width="2.6" height="2" fill="#E31A1C"/>
<rect x="1424" y="173.5" width="2.6" height="4.7" fill="#1F78B4"/>
<rect x="1426.4" y="162" width="2.6" height="16.2" fill="#33A02C"/>
<rect x="1426.4" y="162" width="2.6" height="1.5" fill="#E31A1C"/>
<rect x="1426.4" y="174.7" width="2.6" height="3.5" fill="#1F78B4"/>
<rect x="1429.2" y="164.7" width="2.6" height="13.5" fill="#33A02C"/>
<rect x="1429.2" y="164.7" width="2.6" height="1.5" fill="#E31A1C"/>
<rect x="1429.2" y="175.2" width="2.6" height="3" fill="#1F78B4"/>
<rect x="1431.7" y="165.6" width="2.6" height="12.6" fill="#33A02C"/>
<rect x="1431.7" y="165.6" width="2.6" height="1.5" fill="#E31A1C"/>
<rect x="1431.7" y="175.7" width="2.6" height="2.5" fill="#1F78B4"/>
<rect x="1434.5" y="161.2" width="2.6" height="17" fill="#33A02C"/>
<rect x="1434.5" y="161.2" width="2.6" height="1.5" fill="#E31A1C"/>
<rect x="1434.5" y="175.2" width="2.6" height="3" fill="#1F78B4"/>
<rect x="1437" y="162.9" width="2.6" height="15.3" fill="#33A02C"/>
<rect x="1437" y="162.9" width="2.6" height="1.5" fill="#E31A1C"/>
<rect x="1437" y="174.7" width="2.6" height="3.5" fill="#1F78B4"/>
<rect x="1439.6" y="154.2" width="2.6" height="24" fill="#33A02C"/>
<rect x="1439.6" y="154.2" width="2.6" height="2" fill="#E31A1C"/>
<rect x="1439.6" y="172.7" width="2.6" height="5.5" fill="#1F78B4"/>
<rect x="1442.2" y="166.4" width="2.6" height="11.8" fill="#33A02C"/>
<rect x="1442.2" y="166.4" width="2.6" height="1.5" fill="#E31A1C"/>
<rect x="1442.2" y="175.2" width="2.6" height="3" fill="#1F78B4"/>
<rect x="1444.7" y="170" width="2.6" height="8.2" fill="#33A02C"/>
<rect x="1444.7" y="170" width="2.6" height="1.5" fill="#E31A1C"/>
<rect x="1444.7" y="176.2" width="2.6" height="2" fill="#1F78B4"/>
<rect x="1447.8" y="161.5" width="2.6" height="16.7" fill="#33A02C"/>
<rect x="1447.8" y="161.5" width="2.6" height="1.5" fill="#E31A1C"/>
<rect x="1447.8" y="174.7" width="2.6" height="3.5" fill="#1F78B4"/>
<rect x="1450.4" y="160.8" width="2.6" height="17.4" fill="#33A02C"/>
<rect x="1450.4" y="160.8" width="2.6" height="1.5" fill="#E31A1C"/>
<rect x="1450.4" y="174.2" width="2.6" height="4" fill="#1F78B4"/>
<rect x="1453.1" y="161.5" width="2.6" height="16.7" fill="#33A02C"/>
<rect x="1453.1" y="161.5" width="2.6" height="1.5" fill="#E31A1C"/>
<rect x="1453.1" y="174.7" width="2.6" height="3.5" fill="#1F78B4"/>
<rect x="1455.7" y="163.5" width="2.6" height="14.7" fill="#33A02C"/>
<rect x="1455.7" y="163.5" width="2.6" height="1.5" fill="#E31A1C"/>
<rect x="1455.7" y="174.7" width="2.6" height="3.5" fill="#1F78B4"/>
<rect x="1458" y="164.2" width="2.6" height="14" fill="#33A02C"/>
<rect x="1458" y="164.2" width="2.6" height="1.5" fill="#E31A1C"/>
<rect x="1458" y="174.7" width="2.6" height="3.5" fill="#1F78B4"/>
<rect x="1460.9" y="161.5" width="2.6" height="16.7" fill="#33A02C"/>
<rect x="1460.9" y="161.5" width="2.6" height="1.5" fill="#E31A1C"/>
<rect x="1460.9" y="174.7" width="2.6" height="3.5" fill="#1F78B4"/>
<rect x="1463.2" y="174.3" width="2.6" height="3.9" fill="#33A02C"/>
<rect x="1463.2" y="174.3" width="2.6" height="1" fill="#E31A1C"/>
<rect x="1463.2" y="177.2" width="2.6" height="1" fill="#1F78B4"/>
<rect x="1486.7" y="162.6" width="2.6" height="15.6" fill="#33A02C"/>
<rect x="1486.7" y="162.6" width="2.6" height="1.5" fill="#E31A1C"/>
<rect x="1486.7" y="176.2" width="2.6" height="2" fill="#1F78B4"/>
<rect x="1520.7" y="166.8" width="2.6" height="11.4" fill="#33A02C"/>
<rect x="1520.7" y="166.8" width="2.6" height="1.5" fill="#E31A1C"/>
<rect x="1520.7" y="175.7" width="2.6" height="2.5" fill="#1F78B4"/>
</g>
<g>
<rect x="1001.2" y="188" width="521.9" height="476.56" fill="#e9e9e9"/>
<rect x="1001.2" y="188.35" width="521.9" height="23.1" fill="#d0d0d0"/>
<rect x="1001.2" y="212.19" width="521.9" height="23.1" fill="#d0d0d0"/>
<rect x="1001.2" y="236.03" width="521.9" height="23.1" fill="#d0d0d0"/>
<rect x="1001.2" y="259.87" width="521.9" height="23.1" fill="#d0d0d0"/>
<rect x="1001.2" y="283.71" width="521.9" height="23.1" fill="#d0d0d0"/>
<rect x="1001.2" y="307.55" width="521.9" height="23.1" fill="#d0d0d0"/>
<rect x="1001.2" y="331.39" width="521.9" height="23.1" fill="#d0d0d0"/>
<rect x="1001.2" y="355.23" width="521.9" height="23.1" fill="#d0d0d0"/>
<rect x="1001.2" y="379.07" width="521.9" height="23.1" fill="#d0d0d0"/>
<rect x="1001.2" y="402.91" width="521.9" height="23.1" fill="#d0d0d0"/>
<rect x="1001.2" y="426.75" width="521.9" height="23.1" fill="#d0d0d0"/>
<rect x="1001.2" y="450.59" width="521.9" height="23.1" fill="#d0d0d0"/>
<rect x="1001.2" y="474.43" width="521.9" height="23.1" fill="#d0d0d0"/>
<rect x="1001.2" y="498.27" width="521.9" height="23.1" fill="#d0d0d0"/>
<rect x="1001.2" y="522.11" width="521.9" height="23.1" fill="#d0d0d0"/>
<rect x="1001.2" y="545.95" width="521.9" height="23.1" fill="#d0d0d0"/>
<rect x="1001.2" y="569.79" width="521.9" height="23.1" fill="#d0d0d0"/>
<rect x="1001.2" y="593.63" width="521.9" height="23.1" fill="#d0d0d0"/>
<rect x="1001.2" y="617.47" width="521.9" height="23.1" fill="#d0d0d0"/>
<rect x="1001.2" y="641.31" width="521.9" height="23.1" fill="#d0d0d0"/>
<rect x="1001.2" y="188.35" width="2.2" height="23.1" fill="#6A3D9A"/>
<rect x="1003.4" y="188.35" width="2.53" height="23.1" fill="#E31A1C"/>
<rect x="1006.44" y="188.35" width="2.03" height="23.1" fill="#000000"/>
<rect x="1008.98" y="188.35" width="2.53" height="23.1" fill="#E31A1C"/>
<rect x="1012.35" y="188.35" width="7.09" height="23.1" fill="#000000"/>
<rect x="1019.95" y="188.35" width="5.07" height="23.1" fill="#E31A1C"/>
<rect x="1025.86" y="188.35" width="3.71" height="23.1" fill="#000000"/>
<rect x="1030.08" y="188.35" width="5.07" height="23.1" fill="#000000"/>
<rect x="1035.49" y="188.35" width="3.38" height="23.1" fill="#33A02C"/>
<rect x="1039.37" y="188.35" width="3.88" height="23.1" fill="#6A3D9A"/>
<rect x="1043.59" y="188.35" width="4.56" height="23.1" fill="#1F78B4"/>
<rect x="1048.66" y="188.35" width="2.53" height="23.1" fill="#E31A1C"/>
<rect x="1051.19" y="188.35" width="2.03" height="23.1" fill="#000000"/>
<rect x="1053.72" y="188.35" width="2.87" height="23.1" fill="#E31A1C"/>
<rect x="1057.1" y="188.35" width="4.56" height="23.1" fill="#000000"/>
<rect x="1061.83" y="188.35" width="2.36" height="23.1" fill="#E31A1C"/>
<rect x="1064.19" y="188.35" width="2.7" height="23.1" fill="#1F78B4"/>
<rect x="1067.23" y="188.35" width="1.69" height="23.1" fill="#000000"/>
<rect x="1069.26" y="188.35" width="3.04" height="23.1" fill="#1F78B4"/>
<rect x="1073.14" y="188.35" width="9.29" height="23.1" fill="#000000"/>
<rect x="1082.43" y="188.35" width="2.87" height="23.1" fill="#E31A1C"/>
<rect x="1085.8" y="188.35" width="4.39" height="23.1" fill="#000000"/>
<rect x="1090.53" y="188.35" width="9.62" height="23.1" fill="#1F78B4"/>
<rect x="1100.66" y="188.35" width="8.27" height="23.1" fill="#E31A1C"/>
<rect x="1109.44" y="188.35" width="5.07" height="23.1" fill="#000000"/>
<rect x="1116.2" y="188.35" width="5.91" height="23.1" fill="#E31A1C"/>
<rect x="1122.11" y="188.35" width="2.2" height="23.1" fill="#000000"/>
<rect x="1124.64" y="188.35" width="4.39" height="23.1" fill="#E31A1C"/>
<rect x="1129.37" y="188.35" width="4.05" height="23.1" fill="#6A3D9A"/>
<rect x="1133.93" y="188.35" width="3.04" height="23.1" fill="#E31A1C"/>
<rect x="1137.31" y="188.35" width="2.53" height="23.1" fill="#33A02C"/>
<rect x="1140.18" y="188.35" width="4.73" height="23.1" fill="#000000"/>
<rect x="1144.9" y="188.35" width="3.71" height="23.1" fill="#1F78B4"/>
<rect x="1149.13" y="188.35" width="3.71" height="23.1" fill="#000000"/>
<rect x="1153.35" y="188.35" width="4.39" height="23.1" fill="#E31A1C"/>
<rect x="1158.08" y="188.35" width="2.36" height="23.1" fill="#33A02C"/>
<rect x="1160.44" y="188.35" width="3.04" height="23.1" fill="#1F78B4"/>
<rect x="1163.82" y="188.35" width="4.73" height="23.1" fill="#000000"/>
<rect x="1168.88" y="188.35" width="2.7" height="23.1" fill="#E31A1C"/>
<rect x="1171.92" y="188.35" width="2.03" height="23.1" fill="#1F78B4"/>
<rect x="1174.45" y="188.35" width="2.53" height="23.1" fill="#000000"/>
<rect x="1177.32" y="188.35" width="4.05" height="23.1" fill="#E31A1C"/>
<rect x="1181.71" y="188.35" width="2.03" height="23.1" fill="#000000"/>
<rect x="1184.08" y="188.35" width="2.7" height="23.1" fill="#E31A1C"/>
<rect x="1187.12" y="188.35" width="2.7" height="23.1" fill="#6A3D9A"/>
<rect x="1190.16" y="188.35" width="4.73" height="23.1" fill="#E31A1C"/>
<rect x="1195.22" y="188.35" width="2.03" height="23.1" fill="#000000"/>
<rect x="1197.59" y="188.35" width="3.38" height="23.1" fill="#E31A1C"/>
<rect x="1201.47" y="188.35" width="3.71" height="23.1" fill="#6A3D9A"/>
<rect x="1205.69" y="188.35" width="6.08" height="23.1" fill="#000000"/>
<rect x="1212.11" y="188.35" width="3.04" height="23.1" fill="#E31A1C"/>
<rect x="1215.49" y="188.35" width="2.36" height="23.1" fill="#000000"/>
<rect x="1218.36" y="188.35" width="2.2" height="23.1" fill="#E31A1C"/>
<rect x="1220.89" y="188.35" width="2.7" height="23.1" fill="#000000"/>
<rect x="1223.93" y="188.35" width="3.04" height="23.1" fill="#1F78B4"/>
<rect x="1227.31" y="188.35" width="9.12" height="23.1" fill="#E31A1C"/>
<rect x="1236.93" y="188.35" width="4.56" height="23.1" fill="#000000"/>
<rect x="1242" y="188.35" width="5.23" height="23.1" fill="#E31A1C"/>
<rect x="1247.57" y="188.35" width="6.42" height="23.1" fill="#000000"/>
<rect x="1254.32" y="188.35" width="3.04" height="23.1" fill="#E31A1C"/>
<rect x="1257.7" y="188.35" width="2.03" height="23.1" fill="#000000"/>
<rect x="1260.06" y="188.35" width="2.36" height="23.1" fill="#E31A1C"/>
<rect x="1262.77" y="188.35" width="2.7" height="23.1" fill="#000000"/>
<rect x="1265.53" y="188.35" width="4.22" height="23.1" fill="#000000"/>
<rect x="1270.09" y="188.35" width="2.36" height="23.1" fill="#E31A1C"/>
<rect x="1272.79" y="188.35" width="2.03" height="23.1" fill="#000000"/>
<rect x="1275.16" y="188.35" width="10.81" height="23.1" fill="#E31A1C"/>
<rect x="1286.3" y="188.35" width="2.03" height="23.1" fill="#000000"/>
<rect x="1288.67" y="188.35" width="2.53" height="23.1" fill="#E31A1C"/>
<rect x="1291.71" y="188.35" width="2.7" height="23.1" fill="#000000"/>
<rect x="1294.74" y="188.35" width="1.86" height="23.1" fill="#E31A1C"/>
<rect x="1296.77" y="188.35" width="15.2" height="23.1" fill="#000000"/>
<rect x="1312.31" y="188.35" width="2.87" height="23.1" fill="#6A3D9A"/>
<rect x="1315.35" y="188.35" width="6.75" height="23.1" fill="#000000"/>
<rect x="1322.44" y="188.35" width="2.36" height="23.1" fill="#E31A1C"/>
<rect x="1325.14" y="188.35" width="2.03" height="23.1" fill="#000000"/>
<rect x="1327.5" y="188.35" width="2.36" height="23.1" fill="#E31A1C"/>
<rect x="1330.2" y="188.35" width="2.53" height="23.1" fill="#000000"/>
<rect x="1333.08" y="188.35" width="2.36" height="23.1" fill="#E31A1C"/>
<rect x="1335.61" y="188.35" width="2.7" height="23.1" fill="#1F78B4"/>
<rect x="1338.48" y="188.35" width="2.03" height="23.1" fill="#6A3D9A"/>
<rect x="1340.67" y="188.35" width="7.6" height="23.1" fill="#E31A1C"/>
<rect x="1348.27" y="188.35" width="3.04" height="23.1" fill="#1F78B4"/>
<rect x="1351.65" y="188.35" width="2.2" height="23.1" fill="#000000"/>
<rect x="1354.18" y="188.35" width="2.2" height="23.1" fill="#1F78B4"/>
<rect x="1356.71" y="188.35" width="2.7" height="23.1" fill="#6A3D9A"/>
<rect x="1359.59" y="188.35" width="2.36" height="23.1" fill="#1F78B4"/>
<rect x="1362.29" y="188.35" width="3.04" height="23.1" fill="#000000"/>
<rect x="1365.66" y="188.35" width="6.25" height="23.1" fill="#E31A1C"/>
<rect x="1001.2" y="212.19" width="28.38" height="23.1" fill="#33A02C"/>
<rect x="1030.08" y="212.19" width="2.7" height="23.1" fill="#E31A1C"/>
<rect x="1033.12" y="212.19" width="7.09" height="23.1" fill="#33A02C"/>
<rect x="1040.55" y="212.19" width="2.53" height="23.1" fill="#1F78B4"/>
<rect x="1043.25" y="212.19" width="5.07" height="23.1" fill="#33A02C"/>
<rect x="1048.66" y="212.19" width="2.2" height="23.1" fill="#E31A1C"/>
<rect x="1051.19" y="212.19" width="2.7" height="23.1" fill="#33A02C"/>
<rect x="1054.06" y="212.19" width="2.36" height="23.1" fill="#1F78B4"/>
<rect x="1056.76" y="212.19" width="7.26" height="23.1" fill="#33A02C"/>
<rect x="1064.19" y="212.19" width="2.7" height="23.1" fill="#6A3D9A"/>
<rect x="1067.23" y="212.19" width="4.56" height="23.1" fill="#33A02C"/>
<rect x="1071.96" y="212.19" width="2.36" height="23.1" fill="#E31A1C"/>
<rect x="1174.45" y="212.19" width="2.53" height="23.1" fill="#33A02C"/>
<rect x="1176.99" y="212.19" width="2.2" height="23.1" fill="#E31A1C"/>
<rect x="1179.52" y="212.19" width="2.36" height="23.1" fill="#33A02C"/>
<rect x="1182.05" y="212.19" width="2.2" height="23.1" fill="#000000"/>
<rect x="1184.59" y="212.19" width="10.3" height="23.1" fill="#33A02C"/>
<rect x="1195.22" y="212.19" width="4.22" height="23.1" fill="#E31A1C"/>
<rect x="1199.78" y="212.19" width="23.81" height="23.1" fill="#33A02C"/>
<rect x="1223.93" y="212.19" width="2.2" height="23.1" fill="#1F78B4"/>
<rect x="1226.29" y="212.19" width="5.23" height="23.1" fill="#FFFF99"/>
<rect x="1231.86" y="212.19" width="12.83" height="23.1" fill="#33A02C"/>
<rect x="1244.87" y="212.19" width="2.36" height="23.1" fill="#000000"/>
<rect x="1247.57" y="212.19" width="2.2" height="23.1" fill="#1F78B4"/>
<rect x="1249.93" y="212.19" width="4.9" height="23.1" fill="#33A02C"/>
<rect x="1255" y="212.19" width="2.36" height="23.1" fill="#E31A1C"/>
<rect x="1257.7" y="212.19" width="2.2" height="23.1" fill="#33A02C"/>
<rect x="1260.06" y="212.19" width="2.36" height="23.1" fill="#000000"/>
<rect x="1262.77" y="212.19" width="2.7" height="23.1" fill="#33A02C"/>
<rect x="1265.53" y="212.19" width="1.86" height="23.1" fill="#33A02C"/>
<rect x="1267.73" y="212.19" width="2.2" height="23.1" fill="#E31A1C"/>
<rect x="1270.09" y="212.19" width="8.27" height="23.1" fill="#33A02C"/>
<rect x="1278.53" y="212.19" width="2.36" height="23.1" fill="#1F78B4"/>
<rect x="1281.24" y="212.19" width="7.26" height="23.1" fill="#33A02C"/>
<rect x="1288.67" y="212.19" width="2.36" height="23.1" fill="#E31A1C"/>
<rect x="1291.37" y="212.19" width="2.36" height="23.1" fill="#33A02C"/>
<rect x="1371.91" y="212.19" width="2.7" height="23.1" fill="#E31A1C"/>
<rect x="1374.78" y="212.19" width="4.9" height="23.1" fill="#33A02C"/>
<rect x="1379.85" y="212.19" width="2.36" height="23.1" fill="#000000"/>
<rect x="1382.55" y="212.19" width="1.86" height="23.1" fill="#E31A1C"/>
<rect x="1384.58" y="212.19" width="2.7" height="23.1" fill="#000000"/>
<rect x="1387.62" y="212.19" width="2.2" height="23.1" fill="#E31A1C"/>
<rect x="1389.98" y="212.19" width="2.87" height="23.1" fill="#1F78B4"/>
<rect x="1393.02" y="212.19" width="2.2" height="23.1" fill="#000000"/>
<rect x="1395.55" y="212.19" width="2.7" height="23.1" fill="#1F78B4"/>
<rect x="1398.42" y="212.19" width="4.56" height="23.1" fill="#33A02C"/>
<rect x="1403.15" y="212.19" width="2.53" height="23.1" fill="#1F78B4"/>
<rect x="1472.04" y="212.19" width="4.22" height="23.1" fill="#33A02C"/>
<rect x="1476.6" y="212.19" width="2.36" height="23.1" fill="#FFFF99"/>
<rect x="1479.14" y="212.19" width="2.7" height="23.1" fill="#E31A1C"/>
<rect x="1482.17" y="212.19" width="9.79" height="23.1" fill="#33A02C"/>
<rect x="1492.31" y="212.19" width="2.53" height="23.1" fill="#1F78B4"/>
<rect x="1495.18" y="212.19" width="4.73" height="23.1" fill="#33A02C"/>
<rect x="1001.2" y="236.03" width="2.71" height="23.1" fill="#33A02C"/>
<rect x="1003.91" y="236.03" width="2.7" height="23.1" fill="#E31A1C"/>
<rect x="1006.78" y="236.03" width="4.56" height="23.1" fill="#000000"/>
<rect x="1011.51" y="236.03" width="13.68" height="23.1" fill="#33A02C"/>
<rect x="1025.35" y="236.03" width="2.36" height="23.1" fill="#000000"/>
<rect x="1028.06" y="236.03" width="7.26" height="23.1" fill="#33A02C"/>
<rect x="1035.49" y="236.03" width="7.43" height="23.1" fill="#000000"/>
<rect x="1043.25" y="236.03" width="2.53" height="23.1" fill="#E31A1C"/>
<rect x="1046.12" y="236.03" width="2.2" height="23.1" fill="#33A02C"/>
<rect x="1048.66" y="236.03" width="2.7" height="23.1" fill="#000000"/>
<rect x="1051.7" y="236.03" width="2.2" height="23.1" fill="#33A02C"/>
<rect x="1054.06" y="236.03" width="2.36" height="23.1" fill="#E31A1C"/>
<rect x="1056.76" y="236.03" width="2.53" height="23.1" fill="#000000"/>
<rect x="1059.63" y="236.03" width="14.86" height="23.1" fill="#33A02C"/>
<rect x="1074.83" y="236.03" width="6.92" height="23.1" fill="#000000"/>
<rect x="1082.09" y="236.03" width="5.57" height="23.1" fill="#33A02C"/>
<rect x="1087.83" y="236.03" width="2.36" height="23.1" fill="#000000"/>
<rect x="1090.53" y="236.03" width="4.73" height="23.1" fill="#33A02C"/>
<rect x="1095.6" y="236.03" width="2.2" height="23.1" fill="#000000"/>
<rect x="1097.96" y="236.03" width="2.36" height="23.1" fill="#33A02C"/>
<rect x="1100.66" y="236.03" width="2.2" height="23.1" fill="#000000"/>
<rect x="1103.03" y="236.03" width="3.21" height="23.1" fill="#1F78B4"/>
<rect x="1106.41" y="236.03" width="7.43" height="23.1" fill="#33A02C"/>
<rect x="1114.17" y="236.03" width="2.2" height="23.1" fill="#000000"/>
<rect x="1116.54" y="236.03" width="2.87" height="23.1" fill="#33A02C"/>
<rect x="1119.58" y="236.03" width="4.39" height="23.1" fill="#000000"/>
<rect x="1124.3" y="236.03" width="4.73" height="23.1" fill="#33A02C"/>
<rect x="1129.37" y="236.03" width="3.04" height="23.1" fill="#1F78B4"/>
<rect x="1132.75" y="236.03" width="9.29" height="23.1" fill="#000000"/>
<rect x="1142.37" y="236.03" width="7.77" height="23.1" fill="#33A02C"/>
<rect x="1150.31" y="236.03" width="2.36" height="23.1" fill="#000000"/>
<rect x="1153.01" y="236.03" width="3.04" height="23.1" fill="#33A02C"/>
<rect x="1156.39" y="236.03" width="2.2" height="23.1" fill="#000000"/>
<rect x="1158.75" y="236.03" width="1.86" height="23.1" fill="#33A02C"/>
<rect x="1160.95" y="236.03" width="2.36" height="23.1" fill="#000000"/>
<rect x="1163.48" y="236.03" width="1.86" height="23.1" fill="#33A02C"/>
<rect x="1165.5" y="236.03" width="2.87" height="23.1" fill="#E31A1C"/>
<rect x="1168.54" y="236.03" width="5.07" height="23.1" fill="#33A02C"/>
<rect x="1371.91" y="236.03" width="2.7" height="23.1" fill="#000000"/>
<rect x="1374.78" y="236.03" width="7.43" height="23.1" fill="#33A02C"/>
<rect x="1382.55" y="236.03" width="15.7" height="23.1" fill="#000000"/>
<rect x="1398.42" y="236.03" width="4.56" height="23.1" fill="#33A02C"/>
<rect x="1403.15" y="236.03" width="2.7" height="23.1" fill="#E31A1C"/>
<rect x="1406.19" y="236.03" width="5.23" height="23.1" fill="#33A02C"/>
<rect x="1411.59" y="236.03" width="2.2" height="23.1" fill="#000000"/>
<rect x="1414.13" y="236.03" width="2.36" height="23.1" fill="#33A02C"/>
<rect x="1416.66" y="236.03" width="2.2" height="23.1" fill="#000000"/>
<rect x="1419.19" y="236.03" width="5.23" height="23.1" fill="#33A02C"/>
<rect x="1424.76" y="236.03" width="7.26" height="23.1" fill="#000000"/>
<rect x="1432.19" y="236.03" width="2.87" height="23.1" fill="#1F78B4"/>
<rect x="1435.23" y="236.03" width="28.03" height="23.1" fill="#000000"/>
<rect x="1463.6" y="236.03" width="4.73" height="23.1" fill="#33A02C"/>
<rect x="1468.67" y="236.03" width="2.36" height="23.1" fill="#E31A1C"/>
<rect x="1001.2" y="259.87" width="23.48" height="23.1" fill="#33A02C"/>
<rect x="1074.83" y="259.87" width="57.41" height="23.1" fill="#33A02C"/>
<rect x="1174.45" y="259.87" width="46.1" height="23.1" fill="#33A02C"/>
<rect x="1293.73" y="259.87" width="46.6" height="23.1" fill="#33A02C"/>
<rect x="1371.91" y="259.87" width="10.13" height="23.1" fill="#33A02C"/>
<rect x="1406.53" y="259.87" width="17.22" height="23.1" fill="#33A02C"/>
<rect x="1472.04" y="259.87" width="9.12" height="23.1" fill="#33A02C"/>
<rect x="1500.24" y="259.87" width="9.62" height="23.1" fill="#33A02C"/>
<rect x="1001.2" y="283.71" width="9.97" height="23.1" fill="#33A02C"/>
<rect x="1025.35" y="283.71" width="2.2" height="23.1" fill="#33A02C"/>
<rect x="1027.55" y="283.71" width="2.53" height="23.1" fill="#FFFF99"/>
<rect x="1030.42" y="283.71" width="4.39" height="23.1" fill="#33A02C"/>
<rect x="1074.83" y="283.71" width="4.56" height="23.1" fill="#000000"/>
<rect x="1079.89" y="283.71" width="17.73" height="23.1" fill="#33A02C"/>
<rect x="1132.24" y="283.71" width="2.2" height="23.1" fill="#000000"/>
<rect x="1134.44" y="283.71" width="15.53" height="23.1" fill="#33A02C"/>
<rect x="1173.95" y="283.71" width="6.75" height="23.1" fill="#33A02C"/>
<rect x="1221.23" y="283.71" width="12.66" height="23.1" fill="#33A02C"/>
<rect x="1293.73" y="283.71" width="2.7" height="23.1" fill="#000000"/>
<rect x="1296.77" y="283.71" width="13.17" height="23.1" fill="#33A02C"/>
<rect x="1309.94" y="283.71" width="2.03" height="23.1" fill="#000000"/>
<rect x="1312.31" y="283.71" width="7.6" height="23.1" fill="#33A02C"/>
<rect x="1341.01" y="283.71" width="7.77" height="23.1" fill="#33A02C"/>
<rect x="1348.78" y="283.71" width="2.36" height="23.1" fill="#000000"/>
<rect x="1351.65" y="283.71" width="2.03" height="23.1" fill="#33A02C"/>
<rect x="1372.76" y="283.71" width="2.03" height="23.1" fill="#33A02C"/>
<rect x="1375.29" y="283.71" width="2.03" height="23.1" fill="#000000"/>
<rect x="1382.89" y="283.71" width="2.03" height="23.1" fill="#33A02C"/>
<rect x="1384.91" y="283.71" width="2.2" height="23.1" fill="#000000"/>
<rect x="1406.86" y="283.71" width="4.39" height="23.1" fill="#33A02C"/>
<rect x="1424.76" y="283.71" width="5.07" height="23.1" fill="#33A02C"/>
<rect x="1429.83" y="283.71" width="2.03" height="23.1" fill="#000000"/>
<rect x="1432.36" y="283.71" width="2.53" height="23.1" fill="#FFFF99"/>
<rect x="1435.57" y="283.71" width="4.22" height="23.1" fill="#33A02C"/>
<rect x="1472.38" y="283.71" width="3.71" height="23.1" fill="#33A02C"/>
<rect x="1482.17" y="283.71" width="2.36" height="23.1" fill="#33A02C"/>
<rect x="1485.05" y="283.71" width="2.2" height="23.1" fill="#000000"/>
<rect x="1500.24" y="283.71" width="4.56" height="23.1" fill="#33A02C"/>
<rect x="1510.37" y="283.71" width="2.2" height="23.1" fill="#33A02C"/>
<rect x="1513.24" y="283.71" width="2.53" height="23.1" fill="#FFFF99"/>
<rect x="1516.28" y="283.71" width="1.69" height="23.1" fill="#33A02C"/>
<rect x="1025.35" y="307.55" width="2.2" height="23.1" fill="#000000"/>
<rect x="1035.99" y="307.55" width="4.22" height="23.1" fill="#000000"/>
<rect x="1040.21" y="307.55" width="2.53" height="23.1" fill="#33A02C"/>
<rect x="1074.83" y="307.55" width="4.56" height="23.1" fill="#000000"/>
<rect x="1079.89" y="307.55" width="10.13" height="23.1" fill="#33A02C"/>
<rect x="1098.47" y="307.55" width="2.53" height="23.1" fill="#33A02C"/>
<rect x="1101" y="307.55" width="2.03" height="23.1" fill="#000000"/>
<rect x="1103.53" y="307.55" width="2.03" height="23.1" fill="#33A02C"/>
<rect x="1132.24" y="307.55" width="7.6" height="23.1" fill="#000000"/>
<rect x="1140.18" y="307.55" width="2.2" height="23.1" fill="#000000"/>
<rect x="1149.97" y="307.55" width="2.53" height="23.1" fill="#000000"/>
<rect x="1153.01" y="307.55" width="5.4" height="23.1" fill="#33A02C"/>
<rect x="1158.75" y="307.55" width="2.2" height="23.1" fill="#000000"/>
<rect x="1160.95" y="307.55" width="2.2" height="23.1" fill="#33A02C"/>
<rect x="1173.95" y="307.55" width="2.03" height="23.1" fill="#33A02C"/>
<rect x="1182.05" y="307.55" width="2.03" height="23.1" fill="#000000"/>
<rect x="1184.59" y="307.55" width="4.22" height="23.1" fill="#33A02C"/>
<rect x="1220.89" y="307.55" width="2.03" height="23.1" fill="#33A02C"/>
<rect x="1234.06" y="307.55" width="2.03" height="23.1" fill="#000000"/>
<rect x="1293.73" y="307.55" width="2.7" height="23.1" fill="#33A02C"/>
<rect x="1296.77" y="307.55" width="2.53" height="23.1" fill="#000000"/>
<rect x="1299.81" y="307.55" width="1.69" height="23.1" fill="#33A02C"/>
<rect x="1301.84" y="307.55" width="2.2" height="23.1" fill="#000000"/>
<rect x="1304.37" y="307.55" width="2.53" height="23.1" fill="#33A02C"/>
<rect x="1354.18" y="307.55" width="2.53" height="23.1" fill="#33A02C"/>
<rect x="1357.05" y="307.55" width="2.2" height="23.1" fill="#000000"/>
<rect x="1359.59" y="307.55" width="1.69" height="23.1" fill="#33A02C"/>
<rect x="1377.82" y="307.55" width="2.03" height="23.1" fill="#33A02C"/>
<rect x="1384.91" y="307.55" width="13.17" height="23.1" fill="#000000"/>
<rect x="1411.59" y="307.55" width="2.03" height="23.1" fill="#000000"/>
<rect x="1416.32" y="307.55" width="2.03" height="23.1" fill="#6A3D9A"/>
<rect x="1424.76" y="307.55" width="2.36" height="23.1" fill="#33A02C"/>
<rect x="1427.63" y="307.55" width="4.22" height="23.1" fill="#000000"/>
<rect x="1432.7" y="307.55" width="2.2" height="23.1" fill="#33A02C"/>
<rect x="1440.3" y="307.55" width="2.53" height="23.1" fill="#1F78B4"/>
<rect x="1443.34" y="307.55" width="4.05" height="23.1" fill="#000000"/>
<rect x="1447.9" y="307.55" width="5.07" height="23.1" fill="#33A02C"/>
<rect x="1472.04" y="307.55" width="2.03" height="23.1" fill="#33A02C"/>
<rect x="1487.58" y="307.55" width="2.2" height="23.1" fill="#000000"/>
<rect x="1519.32" y="307.55" width="2.03" height="23.1" fill="#33A02C"/>
<rect x="1011.85" y="331.39" width="2.2" height="23.1" fill="#33A02C"/>
<rect x="1025.35" y="331.39" width="2.2" height="23.1" fill="#000000"/>
<rect x="1043.59" y="331.39" width="4.22" height="23.1" fill="#33A02C"/>
<rect x="1074.83" y="331.39" width="4.56" height="23.1" fill="#000000"/>
<rect x="1090.53" y="331.39" width="2.03" height="23.1" fill="#33A02C"/>
<rect x="1098.47" y="331.39" width="2.03" height="23.1" fill="#33A02C"/>
<rect x="1106.07" y="331.39" width="2.53" height="23.1" fill="#E31A1C"/>
<rect x="1108.6" y="331.39" width="2.2" height="23.1" fill="#000000"/>
<rect x="1132.24" y="331.39" width="6.75" height="23.1" fill="#000000"/>
<rect x="1149.97" y="331.39" width="2.53" height="23.1" fill="#000000"/>
<rect x="1153.01" y="331.39" width="2.36" height="23.1" fill="#33A02C"/>
<rect x="1155.37" y="331.39" width="2.2" height="23.1" fill="#000000"/>
<rect x="1163.48" y="331.39" width="7.09" height="23.1" fill="#33A02C"/>
<rect x="1182.05" y="331.39" width="2.03" height="23.1" fill="#33A02C"/>
<rect x="1189.65" y="331.39" width="2.2" height="23.1" fill="#33A02C"/>
<rect x="1236.93" y="331.39" width="12.16" height="23.1" fill="#33A02C"/>
<rect x="1294.24" y="331.39" width="2.03" height="23.1" fill="#33A02C"/>
<rect x="1306.56" y="331.39" width="2.36" height="23.1" fill="#6A3D9A"/>
<rect x="1320.07" y="331.39" width="2.03" height="23.1" fill="#000000"/>
<rect x="1341.01" y="331.39" width="2.03" height="23.1" fill="#33A02C"/>
<rect x="1354.18" y="331.39" width="2.03" height="23.1" fill="#33A02C"/>
<rect x="1361.78" y="331.39" width="2.03" height="23.1" fill="#33A02C"/>
<rect x="1383.23" y="331.39" width="3.88" height="23.1" fill="#000000"/>
<rect x="1387.95" y="331.39" width="7.6" height="23.1" fill="#33A02C"/>
<rect x="1396.06" y="331.39" width="2.53" height="23.1" fill="#000000"/>
<rect x="1398.93" y="331.39" width="1.69" height="23.1" fill="#33A02C"/>
<rect x="1411.59" y="331.39" width="2.03" height="23.1" fill="#33A02C"/>
<rect x="1424.76" y="331.39" width="2.36" height="23.1" fill="#1F78B4"/>
<rect x="1427.63" y="331.39" width="2.2" height="23.1" fill="#33A02C"/>
<rect x="1429.83" y="331.39" width="2.03" height="23.1" fill="#000000"/>
<rect x="1435.23" y="331.39" width="2.03" height="23.1" fill="#33A02C"/>
<rect x="1440.3" y="331.39" width="2.53" height="23.1" fill="#1F78B4"/>
<rect x="1443.34" y="331.39" width="2.03" height="23.1" fill="#000000"/>
<rect x="1446.21" y="331.39" width="2.03" height="23.1" fill="#33A02C"/>
<rect x="1448.74" y="331.39" width="2.03" height="23.1" fill="#000000"/>
<rect x="1450.77" y="331.39" width="2.7" height="23.1" fill="#1F78B4"/>
<rect x="1453.81" y="331.39" width="2.2" height="23.1" fill="#000000"/>
<rect x="1456" y="331.39" width="2.36" height="23.1" fill="#6A3D9A"/>
<rect x="1476.6" y="331.39" width="2.2" height="23.1" fill="#000000"/>
<rect x="1487.58" y="331.39" width="4.22" height="23.1" fill="#000000"/>
<rect x="1492.31" y="331.39" width="2.36" height="23.1" fill="#33A02C"/>
<rect x="1506.15" y="331.39" width="3.71" height="23.1" fill="#33A02C"/>
<rect x="1001.2" y="355.23" width="2.2" height="23.1" fill="#33A02C"/>
<rect x="1003.91" y="355.23" width="2.53" height="23.1" fill="#E31A1C"/>
<rect x="1014.89" y="355.23" width="2.03" height="23.1" fill="#33A02C"/>
<rect x="1025.35" y="355.23" width="2.2" height="23.1" fill="#000000"/>
<rect x="1027.55" y="355.23" width="2.2" height="23.1" fill="#33A02C"/>
<rect x="1035.99" y="355.23" width="2.03" height="23.1" fill="#000000"/>
<rect x="1048.66" y="355.23" width="2.03" height="23.1" fill="#E31A1C"/>
<rect x="1051.19" y="355.23" width="4.56" height="23.1" fill="#33A02C"/>
<rect x="1074.83" y="355.23" width="7.09" height="23.1" fill="#000000"/>
<rect x="1090.53" y="355.23" width="2.03" height="23.1" fill="#33A02C"/>
<rect x="1111.47" y="355.23" width="2.2" height="23.1" fill="#000000"/>
<rect x="1132.24" y="355.23" width="4.56" height="23.1" fill="#000000"/>
<rect x="1140.18" y="355.23" width="2.2" height="23.1" fill="#000000"/>
<rect x="1149.97" y="355.23" width="2.53" height="23.1" fill="#000000"/>
<rect x="1153.01" y="355.23" width="2.03" height="23.1" fill="#33A02C"/>
<rect x="1163.48" y="355.23" width="2.03" height="23.1" fill="#33A02C"/>
<rect x="1182.05" y="355.23" width="2.03" height="23.1" fill="#33A02C"/>
<rect x="1236.93" y="355.23" width="2.03" height="23.1" fill="#33A02C"/>
<rect x="1249.59" y="355.23" width="2.53" height="23.1" fill="#E31A1C"/>
<rect x="1252.13" y="355.23" width="10.13" height="23.1" fill="#33A02C"/>
<rect x="1296.77" y="355.23" width="2.03" height="23.1" fill="#33A02C"/>
<rect x="1309.94" y="355.23" width="2.36" height="23.1" fill="#E31A1C"/>
<rect x="1322.94" y="355.23" width="2.2" height="23.1" fill="#000000"/>
<rect x="1341.01" y="355.23" width="2.03" height="23.1" fill="#33A02C"/>
<rect x="1343.38" y="355.23" width="2.36" height="23.1" fill="#E31A1C"/>
<rect x="1357.05" y="355.23" width="2.2" height="23.1" fill="#000000"/>
<rect x="1361.78" y="355.23" width="2.03" height="23.1" fill="#33A02C"/>
<rect x="1383.23" y="355.23" width="2.03" height="23.1" fill="#000000"/>
<rect x="1387.95" y="355.23" width="2.03" height="23.1" fill="#33A02C"/>
<rect x="1390.49" y="355.23" width="4.56" height="23.1" fill="#000000"/>
<rect x="1411.59" y="355.23" width="4.73" height="23.1" fill="#33A02C"/>
<rect x="1419.19" y="355.23" width="4.56" height="23.1" fill="#33A02C"/>
<rect x="1435.57" y="355.23" width="2.2" height="23.1" fill="#000000"/>
<rect x="1438.27" y="355.23" width="1.69" height="23.1" fill="#33A02C"/>
<rect x="1440.3" y="355.23" width="2.03" height="23.1" fill="#000000"/>
<rect x="1442.83" y="355.23" width="2.53" height="23.1" fill="#33A02C"/>
<rect x="1445.7" y="355.23" width="2.2" height="23.1" fill="#1F78B4"/>
<rect x="1448.4" y="355.23" width="1.69" height="23.1" fill="#33A02C"/>
<rect x="1453.81" y="355.23" width="4.22" height="23.1" fill="#000000"/>
<rect x="1482.17" y="355.23" width="2.03" height="23.1" fill="#33A02C"/>
<rect x="1487.58" y="355.23" width="2.2" height="23.1" fill="#000000"/>
<rect x="1505.81" y="355.23" width="2.03" height="23.1" fill="#000000"/>
<rect x="1519.32" y="355.23" width="3.71" height="23.1" fill="#33A02C"/>
<rect x="1011.85" y="379.07" width="2.2" height="23.1" fill="#33A02C"/>
<rect x="1025.35" y="379.07" width="2.2" height="23.1" fill="#000000"/>
<rect x="1035.99" y="379.07" width="2.03" height="23.1" fill="#000000"/>
<rect x="1056.76" y="379.07" width="2.03" height="23.1" fill="#33A02C"/>
<rect x="1074.83" y="379.07" width="4.56" height="23.1" fill="#000000"/>
<rect x="1079.39" y="379.07" width="2.53" height="23.1" fill="#1F78B4"/>
<rect x="1101" y="379.07" width="2.03" height="23.1" fill="#33A02C"/>
<rect x="1132.24" y="379.07" width="2.2" height="23.1" fill="#000000"/>
<rect x="1134.77" y="379.07" width="2.03" height="23.1" fill="#33A02C"/>
<rect x="1136.8" y="379.07" width="2.7" height="23.1" fill="#1F78B4"/>
<rect x="1140.18" y="379.07" width="2.2" height="23.1" fill="#000000"/>
<rect x="1149.97" y="379.07" width="5.07" height="23.1" fill="#33A02C"/>
<rect x="1158.41" y="379.07" width="2.03" height="23.1" fill="#33A02C"/>
<rect x="1176.65" y="379.07" width="2.03" height="23.1" fill="#33A02C"/>
<rect x="1182.05" y="379.07" width="2.03" height="23.1" fill="#33A02C"/>
<rect x="1223.42" y="379.07" width="2.2" height="23.1" fill="#33A02C"/>
<rect x="1236.93" y="379.07" width="2.2" height="23.1" fill="#6A3D9A"/>
<rect x="1242" y="379.07" width="2.2" height="23.1" fill="#33A02C"/>
<rect x="1296.77" y="379.07" width="2.03" height="23.1" fill="#33A02C"/>
<rect x="1309.94" y="379.07" width="2.03" height="23.1" fill="#000000"/>
<rect x="1346.58" y="379.07" width="4.56" height="23.1" fill="#33A02C"/>
<rect x="1356.71" y="379.07" width="2.2" height="23.1" fill="#000000"/>
<rect x="1361.78" y="379.07" width="2.03" height="23.1" fill="#33A02C"/>
<rect x="1372.42" y="379.07" width="2.03" height="23.1" fill="#33A02C"/>
<rect x="1382.89" y="379.07" width="2.03" height="23.1" fill="#000000"/>
<rect x="1387.95" y="379.07" width="6.75" height="23.1" fill="#33A02C"/>
<rect x="1398.42" y="379.07" width="2.2" height="23.1" fill="#33A02C"/>
<rect x="1419.19" y="379.07" width="4.56" height="23.1" fill="#33A02C"/>
<rect x="1429.83" y="379.07" width="2.03" height="23.1" fill="#6A3D9A"/>
<rect x="1432.36" y="379.07" width="2.03" height="23.1" fill="#1F78B4"/>
<rect x="1439.96" y="379.07" width="2.03" height="23.1" fill="#1F78B4"/>
<rect x="1450.43" y="379.07" width="2.53" height="23.1" fill="#E31A1C"/>
<rect x="1452.96" y="379.07" width="2.53" height="23.1" fill="#000000"/>
<rect x="1455.5" y="379.07" width="2.53" height="23.1" fill="#1F78B4"/>
<rect x="1460.9" y="379.07" width="2.2" height="23.1" fill="#6A3D9A"/>
<rect x="1472.04" y="379.07" width="2.03" height="23.1" fill="#33A02C"/>
<rect x="1487.24" y="379.07" width="4.56" height="23.1" fill="#33A02C"/>
<rect x="1519.32" y="379.07" width="2.03" height="23.1" fill="#33A02C"/>
<rect x="1006.78" y="402.91" width="2.2" height="23.1" fill="#000000"/>
<rect x="1017.42" y="402.91" width="2.03" height="23.1" fill="#33A02C"/>
<rect x="1025.35" y="402.91" width="2.2" height="23.1" fill="#000000"/>
<rect x="1035.99" y="402.91" width="4.56" height="23.1" fill="#000000"/>
<rect x="1048.66" y="402.91" width="4.56" height="23.1" fill="#33A02C"/>
<rect x="1074.83" y="402.91" width="7.09" height="23.1" fill="#000000"/>
<rect x="1101" y="402.91" width="2.03" height="23.1" fill="#33A02C"/>
<rect x="1114.17" y="402.91" width="5.07" height="23.1" fill="#000000"/>
<rect x="1119.24" y="402.91" width="2.03" height="23.1" fill="#33A02C"/>
<rect x="1132.24" y="402.91" width="4.56" height="23.1" fill="#000000"/>
<rect x="1142.37" y="402.91" width="2.2" height="23.1" fill="#33A02C"/>
<rect x="1149.97" y="402.91" width="2.03" height="23.1" fill="#000000"/>
<rect x="1158.41" y="402.91" width="2.03" height="23.1" fill="#000000"/>
<rect x="1163.48" y="402.91" width="2.03" height="23.1" fill="#000000"/>
<rect x="1183.74" y="402.91" width="2.03" height="23.1" fill="#33A02C"/>
<rect x="1192.18" y="402.91" width="2.03" height="23.1" fill="#6A3D9A"/>
<rect x="1194.72" y="402.91" width="2.03" height="23.1" fill="#33A02C"/>
<rect x="1236.93" y="402.91" width="2.2" height="23.1" fill="#000000"/>
<rect x="1263.1" y="402.91" width="2.03" height="23.1" fill="#33A02C"/>
<rect x="1294.24" y="402.91" width="2.03" height="23.1" fill="#33A02C"/>
<rect x="1325.14" y="402.91" width="2.03" height="23.1" fill="#000000"/>
<rect x="1341.01" y="402.91" width="2.03" height="23.1" fill="#33A02C"/>
<rect x="1372.42" y="402.91" width="2.36" height="23.1" fill="#1F78B4"/>
<rect x="1379.85" y="402.91" width="2.2" height="23.1" fill="#33A02C"/>
<rect x="1387.95" y="402.91" width="2.03" height="23.1" fill="#000000"/>
<rect x="1396.06" y="402.91" width="2.03" height="23.1" fill="#000000"/>
<rect x="1406.19" y="402.91" width="2.03" height="23.1" fill="#000000"/>
<rect x="1419.19" y="402.91" width="2.53" height="23.1" fill="#000000"/>
<rect x="1424.76" y="402.91" width="2.36" height="23.1" fill="#000000"/>
<rect x="1427.13" y="402.91" width="2.2" height="23.1" fill="#33A02C"/>
<rect x="1432.7" y="402.91" width="4.22" height="23.1" fill="#33A02C"/>
<rect x="1450.43" y="402.91" width="2.53" height="23.1" fill="#1F78B4"/>
<rect x="1452.96" y="402.91" width="2.53" height="23.1" fill="#000000"/>
<rect x="1455.83" y="402.91" width="3.04" height="23.1" fill="#33A02C"/>
<rect x="1459.21" y="402.91" width="3.88" height="23.1" fill="#1F78B4"/>
<rect x="1482.17" y="402.91" width="7.09" height="23.1" fill="#33A02C"/>
<rect x="1521.35" y="402.91" width="1.69" height="23.1" fill="#33A02C"/>
<rect x="1006.78" y="426.75" width="2.2" height="23.1" fill="#33A02C"/>
<rect x="1017.42" y="426.75" width="2.03" height="23.1" fill="#33A02C"/>
<rect x="1025.35" y="426.75" width="2.2" height="23.1" fill="#000000"/>
<rect x="1038.19" y="426.75" width="2.36" height="23.1" fill="#000000"/>
<rect x="1048.66" y="426.75" width="2.03" height="23.1" fill="#33A02C"/>
<rect x="1074.83" y="426.75" width="7.09" height="23.1" fill="#000000"/>
<rect x="1101" y="426.75" width="2.03" height="23.1" fill="#33A02C"/>
<rect x="1122.11" y="426.75" width="2.03" height="23.1" fill="#33A02C"/>
<rect x="1126.67" y="426.75" width="2.36" height="23.1" fill="#1F78B4"/>
<rect x="1132.24" y="426.75" width="6.75" height="23.1" fill="#000000"/>
<rect x="1147.44" y="426.75" width="2.53" height="23.1" fill="#33A02C"/>
<rect x="1149.97" y="426.75" width="2.03" height="23.1" fill="#000000"/>
<rect x="1155.88" y="426.75" width="4.56" height="23.1" fill="#33A02C"/>
<rect x="1163.48" y="426.75" width="2.03" height="23.1" fill="#000000"/>
<rect x="1194.72" y="426.75" width="2.2" height="23.1" fill="#000000"/>
<rect x="1225.95" y="426.75" width="2.03" height="23.1" fill="#33A02C"/>
<rect x="1236.93" y="426.75" width="4.22" height="23.1" fill="#33A02C"/>
<rect x="1312.31" y="426.75" width="2.2" height="23.1" fill="#33A02C"/>
<rect x="1356.71" y="426.75" width="2.2" height="23.1" fill="#1F78B4"/>
<rect x="1388.8" y="426.75" width="2.2" height="23.1" fill="#000000"/>
<rect x="1390.99" y="426.75" width="2.36" height="23.1" fill="#6A3D9A"/>
<rect x="1393.86" y="426.75" width="4.22" height="23.1" fill="#000000"/>
<rect x="1408.55" y="426.75" width="2.2" height="23.1" fill="#33A02C"/>
<rect x="1419.19" y="426.75" width="2.03" height="23.1" fill="#33A02C"/>
<rect x="1424.76" y="426.75" width="2.03" height="23.1" fill="#33A02C"/>
<rect x="1434.89" y="426.75" width="2.03" height="23.1" fill="#000000"/>
<rect x="1448.4" y="426.75" width="2.03" height="23.1" fill="#000000"/>
<rect x="1453.47" y="426.75" width="4.9" height="23.1" fill="#33A02C"/>
<rect x="1487.58" y="426.75" width="2.2" height="23.1" fill="#000000"/>
<rect x="1492.64" y="426.75" width="2.03" height="23.1" fill="#33A02C"/>
<rect x="1497.71" y="426.75" width="2.03" height="23.1" fill="#33A02C"/>
<rect x="1025.35" y="450.59" width="2.2" height="23.1" fill="#000000"/>
<rect x="1035.49" y="450.59" width="2.2" height="23.1" fill="#33A02C"/>
<rect x="1041.06" y="450.59" width="2.03" height="23.1" fill="#33A02C"/>
<rect x="1051.19" y="450.59" width="2.03" height="23.1" fill="#33A02C"/>
<rect x="1074.83" y="450.59" width="7.09" height="23.1" fill="#000000"/>
<rect x="1092.9" y="450.59" width="2.2" height="23.1" fill="#33A02C"/>
<rect x="1114.17" y="450.59" width="2.03" height="23.1" fill="#33A02C"/>
<rect x="1126.67" y="450.59" width="2.2" height="23.1" fill="#000000"/>
<rect x="1132.24" y="450.59" width="2.2" height="23.1" fill="#000000"/>
<rect x="1134.77" y="450.59" width="2.03" height="23.1" fill="#000000"/>
<rect x="1137.31" y="450.59" width="7.26" height="23.1" fill="#33A02C"/>
<rect x="1149.97" y="450.59" width="2.03" height="23.1" fill="#33A02C"/>
<rect x="1155.88" y="450.59" width="4.56" height="23.1" fill="#33A02C"/>
<rect x="1189.65" y="450.59" width="2.2" height="23.1" fill="#33A02C"/>
<rect x="1199.78" y="450.59" width="2.2" height="23.1" fill="#33A02C"/>
<rect x="1204.85" y="450.59" width="2.2" height="23.1" fill="#33A02C"/>
<rect x="1223.42" y="450.59" width="2.2" height="23.1" fill="#33A02C"/>
<rect x="1268.07" y="450.59" width="2.03" height="23.1" fill="#33A02C"/>
<rect x="1328.01" y="450.59" width="2.03" height="23.1" fill="#33A02C"/>
<rect x="1356.71" y="450.59" width="2.03" height="23.1" fill="#33A02C"/>
<rect x="1375.29" y="450.59" width="2.03" height="23.1" fill="#33A02C"/>
<rect x="1379.85" y="450.59" width="2.36" height="23.1" fill="#E31A1C"/>
<rect x="1390.49" y="450.59" width="2.53" height="23.1" fill="#1F78B4"/>
<rect x="1406.19" y="450.59" width="2.03" height="23.1" fill="#33A02C"/>
<rect x="1411.59" y="450.59" width="2.03" height="23.1" fill="#000000"/>
<rect x="1419.19" y="450.59" width="2.03" height="23.1" fill="#33A02C"/>
<rect x="1424.76" y="450.59" width="2.03" height="23.1" fill="#000000"/>
<rect x="1434.89" y="450.59" width="2.36" height="23.1" fill="#1F78B4"/>
<rect x="1442.83" y="450.59" width="2.03" height="23.1" fill="#33A02C"/>
<rect x="1453.47" y="450.59" width="2.03" height="23.1" fill="#33A02C"/>
<rect x="1455.83" y="450.59" width="2.2" height="23.1" fill="#000000"/>
<rect x="1460.9" y="450.59" width="2.2" height="23.1" fill="#1F78B4"/>
<rect x="1479.47" y="450.59" width="2.2" height="23.1" fill="#33A02C"/>
<rect x="1521.35" y="450.59" width="1.69" height="23.1" fill="#33A02C"/>
<rect x="1020.29" y="474.43" width="2.03" height="23.1" fill="#33A02C"/>
<rect x="1025.35" y="474.43" width="2.2" height="23.1" fill="#000000"/>
<rect x="1035.49" y="474.43" width="2.53" height="23.1" fill="#E31A1C"/>
<rect x="1038.19" y="474.43" width="2.03" height="23.1" fill="#000000"/>
<rect x="1095.6" y="474.43" width="2.03" height="23.1" fill="#33A02C"/>
<rect x="1114.17" y="474.43" width="2.03" height="23.1" fill="#000000"/>
<rect x="1132.24" y="474.43" width="2.2" height="23.1" fill="#000000"/>
<rect x="1134.77" y="474.43" width="2.53" height="23.1" fill="#E31A1C"/>
<rect x="1149.97" y="474.43" width="5.07" height="23.1" fill="#1F78B4"/>
<rect x="1158.41" y="474.43" width="2.03" height="23.1" fill="#1F78B4"/>
<rect x="1163.48" y="474.43" width="2.03" height="23.1" fill="#33A02C"/>
<rect x="1178.68" y="474.43" width="2.03" height="23.1" fill="#33A02C"/>
<rect x="1207.72" y="474.43" width="2.2" height="23.1" fill="#E31A1C"/>
<rect x="1236.93" y="474.43" width="2.03" height="23.1" fill="#33A02C"/>
<rect x="1307.24" y="474.43" width="4.73" height="23.1" fill="#33A02C"/>
<rect x="1325.14" y="474.43" width="2.03" height="23.1" fill="#33A02C"/>
<rect x="1356.71" y="474.43" width="2.03" height="23.1" fill="#33A02C"/>
<rect x="1361.78" y="474.43" width="2.03" height="23.1" fill="#33A02C"/>
<rect x="1371.91" y="474.43" width="2.53" height="23.1" fill="#000000"/>
<rect x="1374.78" y="474.43" width="2.2" height="23.1" fill="#33A02C"/>
<rect x="1382.89" y="474.43" width="2.03" height="23.1" fill="#000000"/>
<rect x="1387.95" y="474.43" width="2.03" height="23.1" fill="#000000"/>
<rect x="1390.49" y="474.43" width="2.2" height="23.1" fill="#33A02C"/>
<rect x="1393.36" y="474.43" width="4.73" height="23.1" fill="#000000"/>
<rect x="1419.19" y="474.43" width="2.03" height="23.1" fill="#33A02C"/>
<rect x="1424.76" y="474.43" width="2.03" height="23.1" fill="#33A02C"/>
<rect x="1439.96" y="474.43" width="2.36" height="23.1" fill="#000000"/>
<rect x="1442.83" y="474.43" width="5.07" height="23.1" fill="#33A02C"/>
<rect x="1447.9" y="474.43" width="2.2" height="23.1" fill="#1F78B4"/>
<rect x="1453.47" y="474.43" width="2.36" height="23.1" fill="#33A02C"/>
<rect x="1455.83" y="474.43" width="2.2" height="23.1" fill="#1F78B4"/>
<rect x="1463.94" y="474.43" width="2.03" height="23.1" fill="#33A02C"/>
<rect x="1487.58" y="474.43" width="2.2" height="23.1" fill="#000000"/>
<rect x="1025.35" y="498.27" width="2.2" height="23.1" fill="#000000"/>
<rect x="1027.55" y="498.27" width="2.2" height="23.1" fill="#33A02C"/>
<rect x="1035.99" y="498.27" width="2.03" height="23.1" fill="#000000"/>
<rect x="1038.19" y="498.27" width="2.03" height="23.1" fill="#33A02C"/>
<rect x="1043.59" y="498.27" width="2.2" height="23.1" fill="#E31A1C"/>
<rect x="1056.76" y="498.27" width="2.36" height="23.1" fill="#000000"/>
<rect x="1059.13" y="498.27" width="2.2" height="23.1" fill="#33A02C"/>
<rect x="1074.83" y="498.27" width="4.56" height="23.1" fill="#000000"/>
<rect x="1108.6" y="498.27" width="2.03" height="23.1" fill="#33A02C"/>
<rect x="1126.67" y="498.27" width="2.2" height="23.1" fill="#33A02C"/>
<rect x="1132.24" y="498.27" width="4.56" height="23.1" fill="#000000"/>
<rect x="1137.31" y="498.27" width="2.2" height="23.1" fill="#33A02C"/>
<rect x="1158.41" y="498.27" width="2.03" height="23.1" fill="#000000"/>
<rect x="1163.48" y="498.27" width="2.03" height="23.1" fill="#33A02C"/>
<rect x="1173.61" y="498.27" width="2.03" height="23.1" fill="#33A02C"/>
<rect x="1182.05" y="498.27" width="2.03" height="23.1" fill="#33A02C"/>
<rect x="1204.85" y="498.27" width="2.2" height="23.1" fill="#33A02C"/>
<rect x="1236.93" y="498.27" width="2.03" height="23.1" fill="#000000"/>
<rect x="1244.53" y="498.27" width="2.03" height="23.1" fill="#33A02C"/>
<rect x="1299.3" y="498.27" width="2.2" height="23.1" fill="#33A02C"/>
<rect x="1301.5" y="498.27" width="2.53" height="23.1" fill="#E31A1C"/>
<rect x="1343.71" y="498.27" width="2.03" height="23.1" fill="#1F78B4"/>
<rect x="1348.78" y="498.27" width="2.03" height="23.1" fill="#33A02C"/>
<rect x="1358.91" y="498.27" width="2.03" height="23.1" fill="#33A02C"/>
<rect x="1369.72" y="498.27" width="2.03" height="23.1" fill="#33A02C"/>
<rect x="1388.8" y="498.27" width="2.2" height="23.1" fill="#000000"/>
<rect x="1390.99" y="498.27" width="2.36" height="23.1" fill="#1F78B4"/>
<rect x="1393.86" y="498.27" width="4.22" height="23.1" fill="#000000"/>
<rect x="1398.08" y="498.27" width="2.53" height="23.1" fill="#E31A1C"/>
<rect x="1408.55" y="498.27" width="4.39" height="23.1" fill="#33A02C"/>
<rect x="1424.76" y="498.27" width="4.56" height="23.1" fill="#000000"/>
<rect x="1434.89" y="498.27" width="2.03" height="23.1" fill="#000000"/>
<rect x="1447.9" y="498.27" width="2.2" height="23.1" fill="#000000"/>
<rect x="1495.18" y="498.27" width="2.03" height="23.1" fill="#33A02C"/>
<rect x="1519.32" y="498.27" width="2.03" height="23.1" fill="#33A02C"/>
<rect x="1006.78" y="522.11" width="4.39" height="23.1" fill="#33A02C"/>
<rect x="1017.42" y="522.11" width="2.03" height="23.1" fill="#6A3D9A"/>
<rect x="1025.35" y="522.11" width="2.2" height="23.1" fill="#000000"/>
<rect x="1035.99" y="522.11" width="4.56" height="23.1" fill="#33A02C"/>
<rect x="1074.83" y="522.11" width="4.56" height="23.1" fill="#000000"/>
<rect x="1079.89" y="522.11" width="2.03" height="23.1" fill="#33A02C"/>
<rect x="1101" y="522.11" width="2.03" height="23.1" fill="#33A02C"/>
<rect x="1106.07" y="522.11" width="2.03" height="23.1" fill="#33A02C"/>
<rect x="1114.17" y="522.11" width="2.53" height="23.1" fill="#33A02C"/>
<rect x="1116.71" y="522.11" width="2.2" height="23.1" fill="#000000"/>
<rect x="1122.11" y="522.11" width="4.56" height="23.1" fill="#33A02C"/>
<rect x="1132.24" y="522.11" width="4.56" height="23.1" fill="#000000"/>
<rect x="1137.31" y="522.11" width="2.2" height="23.1" fill="#33A02C"/>
<rect x="1158.41" y="522.11" width="2.03" height="23.1" fill="#000000"/>
<rect x="1173.61" y="522.11" width="2.03" height="23.1" fill="#33A02C"/>
<rect x="1189.65" y="522.11" width="2.2" height="23.1" fill="#33A02C"/>
<rect x="1197.25" y="522.11" width="2.03" height="23.1" fill="#33A02C"/>
<rect x="1263.1" y="522.11" width="2.03" height="23.1" fill="#000000"/>
<rect x="1309.94" y="522.11" width="2.03" height="23.1" fill="#33A02C"/>
<rect x="1356.71" y="522.11" width="2.2" height="23.1" fill="#FFFF99"/>
<rect x="1372.42" y="522.11" width="2.03" height="23.1" fill="#33A02C"/>
<rect x="1379.85" y="522.11" width="2.2" height="23.1" fill="#000000"/>
<rect x="1384.91" y="522.11" width="2.2" height="23.1" fill="#33A02C"/>
<rect x="1390.49" y="522.11" width="2.2" height="23.1" fill="#33A02C"/>
<rect x="1396.06" y="522.11" width="2.03" height="23.1" fill="#1F78B4"/>
<rect x="1409.06" y="522.11" width="4.22" height="23.1" fill="#33A02C"/>
<rect x="1424.76" y="522.11" width="2.36" height="23.1" fill="#000000"/>
<rect x="1427.63" y="522.11" width="1.69" height="23.1" fill="#33A02C"/>
<rect x="1429.83" y="522.11" width="2.03" height="23.1" fill="#1F78B4"/>
<rect x="1434.89" y="522.11" width="2.03" height="23.1" fill="#000000"/>
<rect x="1439.96" y="522.11" width="4.56" height="23.1" fill="#33A02C"/>
<rect x="1450.77" y="522.11" width="4.39" height="23.1" fill="#33A02C"/>
<rect x="1458.53" y="522.11" width="2.03" height="23.1" fill="#33A02C"/>
<rect x="1479.47" y="522.11" width="2.2" height="23.1" fill="#33A02C"/>
<rect x="1487.24" y="522.11" width="2.03" height="23.1" fill="#33A02C"/>
<rect x="1492.64" y="522.11" width="2.03" height="23.1" fill="#33A02C"/>
<rect x="1521.35" y="522.11" width="1.69" height="23.1" fill="#1F78B4"/>
<rect x="1025.35" y="545.95" width="2.2" height="23.1" fill="#000000"/>
<rect x="1035.99" y="545.95" width="2.03" height="23.1" fill="#000000"/>
<rect x="1038.19" y="545.95" width="2.36" height="23.1" fill="#1F78B4"/>
<rect x="1053.72" y="545.95" width="2.03" height="23.1" fill="#33A02C"/>
<rect x="1074.83" y="545.95" width="4.56" height="23.1" fill="#000000"/>
<rect x="1079.89" y="545.95" width="2.03" height="23.1" fill="#33A02C"/>
<rect x="1111.13" y="545.95" width="4.22" height="23.1" fill="#33A02C"/>
<rect x="1132.24" y="545.95" width="2.2" height="23.1" fill="#000000"/>
<rect x="1134.77" y="545.95" width="2.03" height="23.1" fill="#000000"/>
<rect x="1144.9" y="545.95" width="2.03" height="23.1" fill="#33A02C"/>
<rect x="1149.97" y="545.95" width="2.03" height="23.1" fill="#33A02C"/>
<rect x="1155.37" y="545.95" width="2.2" height="23.1" fill="#000000"/>
<rect x="1158.08" y="545.95" width="2.36" height="23.1" fill="#33A02C"/>
<rect x="1165.67" y="545.95" width="2.36" height="23.1" fill="#E31A1C"/>
<rect x="1182.05" y="545.95" width="4.22" height="23.1" fill="#33A02C"/>
<rect x="1192.18" y="545.95" width="2.03" height="23.1" fill="#33A02C"/>
<rect x="1236.93" y="545.95" width="4.22" height="23.1" fill="#33A02C"/>
<rect x="1249.59" y="545.95" width="4.73" height="23.1" fill="#33A02C"/>
<rect x="1263.1" y="545.95" width="2.03" height="23.1" fill="#33A02C"/>
<rect x="1346.58" y="545.95" width="2.03" height="23.1" fill="#33A02C"/>
<rect x="1372.42" y="545.95" width="2.03" height="23.1" fill="#33A02C"/>
<rect x="1382.89" y="545.95" width="4.22" height="23.1" fill="#33A02C"/>
<rect x="1396.06" y="545.95" width="2.03" height="23.1" fill="#1F78B4"/>
<rect x="1401.46" y="545.95" width="2.03" height="23.1" fill="#33A02C"/>
<rect x="1416.66" y="545.95" width="2.03" height="23.1" fill="#33A02C"/>
<rect x="1419.19" y="545.95" width="2.53" height="23.1" fill="#000000"/>
<rect x="1424.76" y="545.95" width="2.03" height="23.1" fill="#33A02C"/>
<rect x="1432.36" y="545.95" width="2.03" height="23.1" fill="#1F78B4"/>
<rect x="1440.3" y="545.95" width="2.03" height="23.1" fill="#33A02C"/>
<rect x="1442.83" y="545.95" width="2.53" height="23.1" fill="#6A3D9A"/>
<rect x="1450.77" y="545.95" width="2.2" height="23.1" fill="#33A02C"/>
<rect x="1463.94" y="545.95" width="2.03" height="23.1" fill="#33A02C"/>
<rect x="1476.6" y="545.95" width="2.03" height="23.1" fill="#33A02C"/>
<rect x="1487.24" y="545.95" width="9.62" height="23.1" fill="#33A02C"/>
<rect x="1027.55" y="569.79" width="2.2" height="23.1" fill="#E31A1C"/>
<rect x="1035.99" y="569.79" width="2.03" height="23.1" fill="#33A02C"/>
<rect x="1074.83" y="569.79" width="2.2" height="23.1" fill="#E31A1C"/>
<rect x="1092.9" y="569.79" width="2.53" height="23.1" fill="#6A3D9A"/>
<rect x="1100.66" y="569.79" width="2.03" height="23.1" fill="#6A3D9A"/>
<rect x="1132.24" y="569.79" width="2.2" height="23.1" fill="#000000"/>
<rect x="1142.37" y="569.79" width="7.6" height="23.1" fill="#33A02C"/>
<rect x="1153.01" y="569.79" width="2.36" height="23.1" fill="#1F78B4"/>
<rect x="1163.48" y="569.79" width="2.03" height="23.1" fill="#33A02C"/>
<rect x="1204.85" y="569.79" width="2.2" height="23.1" fill="#E31A1C"/>
<rect x="1233.55" y="569.79" width="2.2" height="23.1" fill="#E31A1C"/>
<rect x="1238.62" y="569.79" width="2.53" height="23.1" fill="#E31A1C"/>
<rect x="1249.59" y="569.79" width="2.03" height="23.1" fill="#33A02C"/>
<rect x="1254.66" y="569.79" width="2.2" height="23.1" fill="#1F78B4"/>
<rect x="1294.24" y="569.79" width="2.2" height="23.1" fill="#33A02C"/>
<rect x="1296.77" y="569.79" width="2.36" height="23.1" fill="#E31A1C"/>
<rect x="1315.01" y="569.79" width="2.03" height="23.1" fill="#33A02C"/>
<rect x="1330.2" y="569.79" width="2.2" height="23.1" fill="#6A3D9A"/>
<rect x="1356.71" y="569.79" width="2.03" height="23.1" fill="#33A02C"/>
<rect x="1365.16" y="569.79" width="2.03" height="23.1" fill="#33A02C"/>
<rect x="1411.59" y="569.79" width="4.73" height="23.1" fill="#33A02C"/>
<rect x="1427.13" y="569.79" width="2.03" height="23.1" fill="#33A02C"/>
<rect x="1439.96" y="569.79" width="2.36" height="23.1" fill="#E31A1C"/>
<rect x="1445.36" y="569.79" width="2.53" height="23.1" fill="#E31A1C"/>
<rect x="1448.23" y="569.79" width="4.73" height="23.1" fill="#33A02C"/>
<rect x="1455.83" y="569.79" width="2.2" height="23.1" fill="#1F78B4"/>
<rect x="1460.9" y="569.79" width="2.2" height="23.1" fill="#33A02C"/>
<rect x="1485.05" y="569.79" width="2.2" height="23.1" fill="#1F78B4"/>
<rect x="1487.24" y="569.79" width="2.36" height="23.1" fill="#E31A1C"/>
<rect x="1025.35" y="593.63" width="2.2" height="23.1" fill="#000000"/>
<rect x="1035.99" y="593.63" width="2.03" height="23.1" fill="#E31A1C"/>
<rect x="1074.83" y="593.63" width="2.53" height="23.1" fill="#33A02C"/>
<rect x="1077.36" y="593.63" width="4.56" height="23.1" fill="#000000"/>
<rect x="1095.6" y="593.63" width="2.03" height="23.1" fill="#33A02C"/>
<rect x="1116.71" y="593.63" width="2.2" height="23.1" fill="#33A02C"/>
<rect x="1132.24" y="593.63" width="2.2" height="23.1" fill="#000000"/>
<rect x="1134.44" y="593.63" width="2.87" height="23.1" fill="#33A02C"/>
<rect x="1176.65" y="593.63" width="2.03" height="23.1" fill="#33A02C"/>
<rect x="1182.05" y="593.63" width="2.03" height="23.1" fill="#33A02C"/>
<rect x="1189.65" y="593.63" width="2.2" height="23.1" fill="#E31A1C"/>
<rect x="1207.72" y="593.63" width="4.73" height="23.1" fill="#33A02C"/>
<rect x="1228.99" y="593.63" width="2.03" height="23.1" fill="#33A02C"/>
<rect x="1304.37" y="593.63" width="2.2" height="23.1" fill="#33A02C"/>
<rect x="1333.08" y="593.63" width="2.03" height="23.1" fill="#33A02C"/>
<rect x="1375.29" y="593.63" width="2.03" height="23.1" fill="#33A02C"/>
<rect x="1382.89" y="593.63" width="2.53" height="23.1" fill="#000000"/>
<rect x="1387.95" y="593.63" width="2.03" height="23.1" fill="#000000"/>
<rect x="1390.49" y="593.63" width="7.6" height="23.1" fill="#33A02C"/>
<rect x="1426.79" y="593.63" width="2.36" height="23.1" fill="#1F78B4"/>
<rect x="1435.23" y="593.63" width="2.03" height="23.1" fill="#33A02C"/>
<rect x="1437.77" y="593.63" width="2.2" height="23.1" fill="#000000"/>
<rect x="1442.83" y="593.63" width="2.2" height="23.1" fill="#33A02C"/>
<rect x="1466.47" y="593.63" width="2.03" height="23.1" fill="#33A02C"/>
<rect x="1001.2" y="617.47" width="2.2" height="23.1" fill="#33A02C"/>
<rect x="1008.98" y="617.47" width="2.03" height="23.1" fill="#33A02C"/>
<rect x="1014.55" y="617.47" width="2.03" height="23.1" fill="#33A02C"/>
<rect x="1019.95" y="617.47" width="2.2" height="23.1" fill="#33A02C"/>
<rect x="1025.35" y="617.47" width="2.2" height="23.1" fill="#000000"/>
<rect x="1035.99" y="617.47" width="2.03" height="23.1" fill="#000000"/>
<rect x="1074.83" y="617.47" width="4.56" height="23.1" fill="#000000"/>
<rect x="1079.89" y="617.47" width="2.2" height="23.1" fill="#E31A1C"/>
<rect x="1097.96" y="617.47" width="2.2" height="23.1" fill="#E31A1C"/>
<rect x="1100.16" y="617.47" width="2.2" height="23.1" fill="#33A02C"/>
<rect x="1132.24" y="617.47" width="4.56" height="23.1" fill="#000000"/>
<rect x="1155.37" y="617.47" width="2.2" height="23.1" fill="#33A02C"/>
<rect x="1163.48" y="617.47" width="2.2" height="23.1" fill="#6A3D9A"/>
<rect x="1168.54" y="617.47" width="2.03" height="23.1" fill="#33A02C"/>
<rect x="1200.29" y="617.47" width="2.03" height="23.1" fill="#000000"/>
<rect x="1202.65" y="617.47" width="2.2" height="23.1" fill="#33A02C"/>
<rect x="1234.06" y="617.47" width="4.56" height="23.1" fill="#33A02C"/>
<rect x="1244.53" y="617.47" width="2.03" height="23.1" fill="#33A02C"/>
<rect x="1265.53" y="617.47" width="1.69" height="23.1" fill="#33A02C"/>
<rect x="1322.94" y="617.47" width="2.03" height="23.1" fill="#33A02C"/>
<rect x="1354.18" y="617.47" width="2.03" height="23.1" fill="#33A02C"/>
<rect x="1361.78" y="617.47" width="2.03" height="23.1" fill="#33A02C"/>
<rect x="1371.91" y="617.47" width="2.53" height="23.1" fill="#000000"/>
<rect x="1385.42" y="617.47" width="4.56" height="23.1" fill="#000000"/>
<rect x="1393.02" y="617.47" width="2.36" height="23.1" fill="#1F78B4"/>
<rect x="1411.59" y="617.47" width="2.03" height="23.1" fill="#6A3D9A"/>
<rect x="1413.79" y="617.47" width="2.03" height="23.1" fill="#33A02C"/>
<rect x="1427.13" y="617.47" width="2.2" height="23.1" fill="#000000"/>
<rect x="1429.83" y="617.47" width="2.03" height="23.1" fill="#33A02C"/>
<rect x="1434.89" y="617.47" width="4.9" height="23.1" fill="#1F78B4"/>
<rect x="1453.47" y="617.47" width="2.03" height="23.1" fill="#33A02C"/>
<rect x="1458.53" y="617.47" width="4.56" height="23.1" fill="#33A02C"/>
<rect x="1487.24" y="617.47" width="2.03" height="23.1" fill="#33A02C"/>
<rect x="1505.31" y="617.47" width="4.56" height="23.1" fill="#33A02C"/>
<rect x="1019.95" y="641.31" width="2.36" height="23.1" fill="#E31A1C"/>
<rect x="1025.35" y="641.31" width="2.2" height="23.1" fill="#000000"/>
<rect x="1038.19" y="641.31" width="2.03" height="23.1" fill="#33A02C"/>
<rect x="1051.19" y="641.31" width="2.03" height="23.1" fill="#33A02C"/>
<rect x="1061.83" y="641.31" width="2.03" height="23.1" fill="#33A02C"/>
<rect x="1077.36" y="641.31" width="2.03" height="23.1" fill="#000000"/>
<rect x="1079.89" y="641.31" width="2.03" height="23.1" fill="#33A02C"/>
<rect x="1122.11" y="641.31" width="2.03" height="23.1" fill="#33A02C"/>
<rect x="1127.17" y="641.31" width="2.03" height="23.1" fill="#33A02C"/>
<rect x="1132.24" y="641.31" width="4.56" height="23.1" fill="#000000"/>
<rect x="1155.88" y="641.31" width="2.2" height="23.1" fill="#E31A1C"/>
<rect x="1158.41" y="641.31" width="2.03" height="23.1" fill="#6A3D9A"/>
<rect x="1160.78" y="641.31" width="2.2" height="23.1" fill="#33A02C"/>
<rect x="1223.42" y="641.31" width="2.2" height="23.1" fill="#33A02C"/>
<rect x="1231.36" y="641.31" width="2.2" height="23.1" fill="#000000"/>
<rect x="1236.42" y="641.31" width="2.2" height="23.1" fill="#E31A1C"/>
<rect x="1241.66" y="641.31" width="2.2" height="23.1" fill="#6A3D9A"/>
<rect x="1382.89" y="641.31" width="2.03" height="23.1" fill="#000000"/>
<rect x="1387.95" y="641.31" width="2.03" height="23.1" fill="#33A02C"/>
<rect x="1393.36" y="641.31" width="4.73" height="23.1" fill="#33A02C"/>
<rect x="1424.76" y="641.31" width="2.03" height="23.1" fill="#33A02C"/>
<rect x="1429.83" y="641.31" width="2.03" height="23.1" fill="#33A02C"/>
<rect x="1437.77" y="641.31" width="2.2" height="23.1" fill="#1F78B4"/>
<rect x="1442.83" y="641.31" width="2.53" height="23.1" fill="#E31A1C"/>
<rect x="1455.83" y="641.31" width="2.2" height="23.1" fill="#33A02C"/>
<rect x="1460.9" y="641.31" width="2.2" height="23.1" fill="#33A02C"/>
<rect x="1487.24" y="641.31" width="2.03" height="23.1" fill="#33A02C"/>
<path d="M1005.48 188V664.56M1009.76 188V664.56M1014.04 188V664.56M1018.32 188V664.56M1022.6 188V664.56M1026.88 188V664.56M1031.16 188V664.56M1035.44 188V664.56M1039.72 188V664.56M1044 188V664.56M1048.28 188V664.56M1052.56 188V664.56M1056.84 188V664.56M1061.12 188V664.56M1065.4 188V664.56M1069.68 188V664.56M1073.96 188V664.56M1078.24 188V664.56M1082.52 188V664.56M1086.8 188V664.56M1091.08 188V664.56M1095.36 188V664.56M1099.64 188V664.56M1103.92 188V664.56M1108.2 188V664.56M1112.48 188V664.56M1116.76 188V664.56M1121.04 188V664.56M1125.32 188V664.56M1129.6 188V664.56M1133.88 188V664.56M1138.16 188V664.56M1142.44 188V664.56M1146.72 188V664.56M1151 188V664.56M1155.28 188V664.56M1159.56 188V664.56M1163.84 188V664.56M1168.12 188V664.56M1172.4 188V664.56M1176.68 188V664.56M1180.96 188V664.56M1185.24 188V664.56M1189.52 188V664.56M1193.8 188V664.56M1198.08 188V664.56M1202.36 188V664.56M1206.64 188V664.56M1210.92 188V664.56M1215.2 188V664.56M1219.48 188V664.56M1223.76 188V664.56M1228.04 188V664.56M1232.32 188V664.56M1236.6 188V664.56M1240.88 188V664.56M1245.16 188V664.56M1249.44 188V664.56M1253.72 188V664.56M1258 188V664.56M1262.28 188V664.56M1266.56 188V664.56M1270.84 188V664.56M1275.12 188V664.56M1279.4 188V664.56M1283.68 188V664.56M1287.96 188V664.56M1292.24 188V664.56M1296.52 188V664.56M1300.8 188V664.56M1305.08 188V664.56M1309.36 188V664.56M1313.64 188V664.56M1317.92 188V664.56M1322.2 188V664.56M1326.48 188V664.56M1330.76 188V664.56M1335.04 188V664.56M1339.32 188V664.56M1343.6 188V664.56M1347.88 188V664.56M1352.16 188V664.56M1356.44 188V664.56M1360.72 188V664.56M1365 188V664.56M1369.28 188V664.56M1373.56 188V664.56M1377.84 188V664.56M1382.12 188V664.56M1386.4 188V664.56M1390.68 188V664.56M1394.96 188V664.56M1399.24 188V664.56M1403.52 188V664.56M1407.8 188V664.56M1412.08 188V664.56M1416.36 188V664.56M1420.64 188V664.56M1424.92 188V664.56M1429.2 188V664.56M1433.48 188V664.56M1437.76 188V664.56M1442.04 188V664.56M1446.32 188V664.56M1450.6 188V664.56M1454.88 188V664.56M1459.16 188V664.56M1463.44 188V664.56M1467.72 188V664.56M1472 188V664.56M1476.28 188V664.56M1480.56 188V664.56M1484.84 188V664.56M1489.12 188V664.56M1493.4 188V664.56M1497.68 188V664.56M1501.96 188V664.56M1506.24 188V664.56M1510.52 188V664.56M1514.8 188V664.56M1519.08 188V664.56" stroke="#fff" stroke-width="0.9" fill="none" opacity="0.32"/>
<path d="M1001.2 211.89H1523.1M1001.2 235.73H1523.1M1001.2 259.57H1523.1M1001.2 283.41H1523.1M1001.2 307.25H1523.1M1001.2 331.09H1523.1M1001.2 354.93H1523.1M1001.2 378.77H1523.1M1001.2 402.61H1523.1M1001.2 426.45H1523.1M1001.2 450.29H1523.1M1001.2 474.13H1523.1M1001.2 497.97H1523.1M1001.2 521.81H1523.1M1001.2 545.65H1523.1M1001.2 569.49H1523.1M1001.2 593.33H1523.1M1001.2 617.17H1523.1M1001.2 641.01H1523.1" stroke="#fff" stroke-width="0.7" fill="none" opacity="0.55"/>
</g>
<text x="994.5" y="206.45" font-size="19.57" font-style="italic" text-anchor="end">APC</text>
<text x="1524.8" y="206.55" font-size="19.26">68%</text>
<text x="994.5" y="230.29" font-size="19.57" font-style="italic" text-anchor="end">TP53</text>
<text x="1524.8" y="230.39" font-size="19.26">47%</text>
<text x="994.5" y="254.13" font-size="19.57" font-style="italic" text-anchor="end">TTN</text>
<text x="1524.8" y="254.23" font-size="19.26">50%</text>
<text x="994.5" y="277.97" font-size="19.57" font-style="italic" text-anchor="end">KRAS</text>
<text x="1524.8" y="278.07" font-size="19.26">41%</text>
<text x="994.5" y="301.81" font-size="19.57" font-style="italic" text-anchor="end">PIK3CA</text>
<text x="1524.8" y="301.91" font-size="19.26">33%</text>
<text x="994.5" y="325.65" font-size="19.57" font-style="italic" text-anchor="end">MUC16</text>
<text x="1524.8" y="325.75" font-size="19.26">28%</text>
<text x="994.5" y="349.49" font-size="19.57" font-style="italic" text-anchor="end">SYNE1</text>
<text x="1524.8" y="349.59" font-size="19.26">28%</text>
<text x="994.5" y="373.33" font-size="19.57" font-style="italic" text-anchor="end">FAT4</text>
<text x="1524.8" y="373.43" font-size="19.26">26%</text>
<text x="994.5" y="397.17" font-size="19.57" font-style="italic" text-anchor="end">ZFHX4</text>
<text x="1524.8" y="397.27" font-size="19.26">22%</text>
<text x="994.5" y="421.01" font-size="19.57" font-style="italic" text-anchor="end">OBSCN</text>
<text x="1524.8" y="421.11" font-size="19.26">23%</text>
<text x="994.5" y="444.85" font-size="19.57" font-style="italic" text-anchor="end">RYR2</text>
<text x="1524.8" y="444.95" font-size="19.26">19%</text>
<text x="994.5" y="468.69" font-size="19.57" font-style="italic" text-anchor="end">DNAH5</text>
<text x="1524.8" y="468.79" font-size="19.26">19%</text>
<text x="994.5" y="492.53" font-size="19.57" font-style="italic" text-anchor="end">CSMD3</text>
<text x="1524.8" y="492.63" font-size="19.26">18%</text>
<text x="994.5" y="516.37" font-size="19.57" font-style="italic" text-anchor="end">LRP1B</text>
<text x="1524.8" y="516.47" font-size="19.26">19%</text>
<text x="994.5" y="540.21" font-size="19.57" font-style="italic" text-anchor="end">PCLO</text>
<text x="1524.8" y="540.31" font-size="19.26">22%</text>
<text x="994.5" y="564.05" font-size="19.57" font-style="italic" text-anchor="end">RYR3</text>
<text x="1524.8" y="564.15" font-size="19.26">22%</text>
<text x="994.5" y="587.89" font-size="19.57" font-style="italic" text-anchor="end">FBXW7</text>
<text x="1524.8" y="587.99" font-size="19.26">16%</text>
<text x="994.5" y="611.73" font-size="19.57" font-style="italic" text-anchor="end">USH2A</text>
<text x="1524.8" y="611.83" font-size="19.26">14%</text>
<text x="994.5" y="635.57" font-size="19.57" font-style="italic" text-anchor="end">DNAH11</text>
<text x="1524.8" y="635.67" font-size="19.26">20%</text>
<text x="994.5" y="659.41" font-size="19.57" font-style="italic" text-anchor="end">ABCA13</text>
<text x="1524.8" y="659.51" font-size="19.26">14%</text>
<rect x="1001.2" y="673.3" width="522.5" height="40.2" fill="#0000FF"/>
<text x="1531.1" y="700.6" font-size="18.7">Risk</text>
<rect x="1578.4" y="190.6" width="5.03" height="20.9" fill="#33A02C"/>
<rect x="1583.28" y="190.6" width="16.58" height="20.9" fill="#1F78B4"/>
<rect x="1599.71" y="190.6" width="46.01" height="20.9" fill="#E31A1C"/>
<rect x="1645.57" y="190.6" width="10.4" height="20.9" fill="#6A3D9A"/>
<rect x="1655.81" y="190.6" width="72.04" height="20.9" fill="#000000"/>
<rect x="1578.4" y="214.44" width="69.43" height="20.9" fill="#33A02C"/>
<rect x="1647.68" y="214.44" width="9.91" height="20.9" fill="#1F78B4"/>
<rect x="1657.44" y="214.44" width="13.97" height="20.9" fill="#E31A1C"/>
<rect x="1671.27" y="214.44" width="1.29" height="20.9" fill="#D53E4F"/>
<rect x="1672.4" y="214.44" width="3.08" height="20.9" fill="#FFFF99"/>
<rect x="1675.33" y="214.44" width="6.66" height="20.9" fill="#000000"/>
<rect x="1578.4" y="238.28" width="48.94" height="20.9" fill="#33A02C"/>
<rect x="1627.19" y="238.28" width="3.08" height="20.9" fill="#1F78B4"/>
<rect x="1630.12" y="238.28" width="6" height="20.9" fill="#E31A1C"/>
<rect x="1635.97" y="238.28" width="52.03" height="20.9" fill="#000000"/>
<rect x="1578.4" y="262.12" width="90.9" height="20.9" fill="#33A02C"/>
<rect x="1578.4" y="285.96" width="57.56" height="20.9" fill="#33A02C"/>
<rect x="1635.81" y="285.96" width="3.73" height="20.9" fill="#FFFF99"/>
<rect x="1639.39" y="285.96" width="10.88" height="20.9" fill="#000000"/>
<rect x="1578.4" y="309.8" width="30.4" height="20.9" fill="#33A02C"/>
<rect x="1608.65" y="309.8" width="1.78" height="20.9" fill="#6A3D9A"/>
<rect x="1610.28" y="309.8" width="29.75" height="20.9" fill="#000000"/>
<rect x="1578.4" y="333.64" width="33.98" height="20.9" fill="#33A02C"/>
<rect x="1612.23" y="333.64" width="3.08" height="20.9" fill="#1F78B4"/>
<rect x="1615.16" y="333.64" width="3.4" height="20.9" fill="#6A3D9A"/>
<rect x="1618.41" y="333.64" width="20.8" height="20.9" fill="#000000"/>
<rect x="1578.4" y="357.48" width="30.4" height="20.9" fill="#33A02C"/>
<rect x="1608.65" y="357.48" width="5.84" height="20.9" fill="#E31A1C"/>
<rect x="1614.34" y="357.48" width="22.11" height="20.9" fill="#000000"/>
<rect x="1578.4" y="381.32" width="27.96" height="20.9" fill="#33A02C"/>
<rect x="1606.21" y="381.32" width="4.54" height="20.9" fill="#1F78B4"/>
<rect x="1610.6" y="381.32" width="2.1" height="20.9" fill="#E31A1C"/>
<rect x="1612.55" y="381.32" width="3.08" height="20.9" fill="#6A3D9A"/>
<rect x="1615.48" y="381.32" width="10.4" height="20.9" fill="#000000"/>
<rect x="1578.4" y="405.16" width="21.78" height="20.9" fill="#33A02C"/>
<rect x="1600.03" y="405.16" width="4.22" height="20.9" fill="#1F78B4"/>
<rect x="1604.1" y="405.16" width="23.89" height="20.9" fill="#000000"/>
<rect x="1578.4" y="429" width="20.97" height="20.9" fill="#33A02C"/>
<rect x="1599.22" y="429" width="1.78" height="20.9" fill="#1F78B4"/>
<rect x="1600.84" y="429" width="1.13" height="20.9" fill="#6A3D9A"/>
<rect x="1601.82" y="429" width="17.88" height="20.9" fill="#000000"/>
<rect x="1578.4" y="452.84" width="26.98" height="20.9" fill="#33A02C"/>
<rect x="1605.23" y="452.84" width="2.59" height="20.9" fill="#1F78B4"/>
<rect x="1607.67" y="452.84" width="1.13" height="20.9" fill="#E31A1C"/>
<rect x="1608.65" y="452.84" width="11.05" height="20.9" fill="#000000"/>
<rect x="1578.4" y="476.68" width="18.53" height="20.9" fill="#33A02C"/>
<rect x="1596.78" y="476.68" width="5.03" height="20.9" fill="#1F78B4"/>
<rect x="1601.66" y="476.68" width="3.4" height="20.9" fill="#E31A1C"/>
<rect x="1604.91" y="476.68" width="13.97" height="20.9" fill="#000000"/>
<rect x="1578.4" y="500.52" width="19.83" height="20.9" fill="#33A02C"/>
<rect x="1598.08" y="500.52" width="1.78" height="20.9" fill="#1F78B4"/>
<rect x="1599.71" y="500.52" width="3.24" height="20.9" fill="#E31A1C"/>
<rect x="1602.8" y="500.52" width="16.9" height="20.9" fill="#000000"/>
<rect x="1578.4" y="524.36" width="30.73" height="20.9" fill="#33A02C"/>
<rect x="1608.98" y="524.36" width="3.4" height="20.9" fill="#1F78B4"/>
<rect x="1612.23" y="524.36" width="0.96" height="20.9" fill="#6A3D9A"/>
<rect x="1613.04" y="524.36" width="1.78" height="20.9" fill="#FFFF99"/>
<rect x="1614.67" y="524.36" width="11.53" height="20.9" fill="#000000"/>
<rect x="1578.4" y="548.2" width="36.09" height="20.9" fill="#33A02C"/>
<rect x="1614.34" y="548.2" width="2.43" height="20.9" fill="#1F78B4"/>
<rect x="1616.62" y="548.2" width="1.94" height="20.9" fill="#E31A1C"/>
<rect x="1618.41" y="548.2" width="8.61" height="20.9" fill="#000000"/>
<rect x="1578.4" y="572.04" width="17.39" height="20.9" fill="#33A02C"/>
<rect x="1595.64" y="572.04" width="4.22" height="20.9" fill="#1F78B4"/>
<rect x="1599.71" y="572.04" width="9.42" height="20.9" fill="#E31A1C"/>
<rect x="1608.98" y="572.04" width="3.73" height="20.9" fill="#6A3D9A"/>
<rect x="1612.55" y="572.04" width="1.13" height="20.9" fill="#000000"/>
<rect x="1578.4" y="595.88" width="20.97" height="20.9" fill="#33A02C"/>
<rect x="1599.22" y="595.88" width="2.59" height="20.9" fill="#E31A1C"/>
<rect x="1601.66" y="595.88" width="7.79" height="20.9" fill="#000000"/>
<rect x="1578.4" y="619.72" width="25.03" height="20.9" fill="#33A02C"/>
<rect x="1603.28" y="619.72" width="2.59" height="20.9" fill="#1F78B4"/>
<rect x="1605.72" y="619.72" width="2.1" height="20.9" fill="#E31A1C"/>
<rect x="1607.67" y="619.72" width="2.75" height="20.9" fill="#6A3D9A"/>
<rect x="1610.28" y="619.72" width="11.53" height="20.9" fill="#000000"/>
<rect x="1578.4" y="643.56" width="18.04" height="20.9" fill="#33A02C"/>
<rect x="1596.29" y="643.56" width="4.22" height="20.9" fill="#E31A1C"/>
<rect x="1600.36" y="643.56" width="2.26" height="20.9" fill="#6A3D9A"/>
<rect x="1602.47" y="643.56" width="6.98" height="20.9" fill="#000000"/>
<path d="M1577.8 173.4V182.6H1728V173.4" stroke="#000" stroke-width="1.3" fill="none"/>
<text x="1578.6" y="160.8" font-size="15.2" text-anchor="middle">0</text>
<text x="1728.1" y="160.8" font-size="15.2" text-anchor="middle">142</text>
<text x="1653.05" y="174.2" font-size="13.7" text-anchor="middle">No. of samples</text>
<rect x="931" y="731.9" width="8.8" height="8.8" fill="#33A02C"/>
<text x="951" y="742.9" font-size="19.4">Missense_Mutation</text>
<rect x="931" y="754.15" width="8.8" height="8.8" fill="#1F78B4"/>
<text x="951" y="765.15" font-size="19.4">Frame_Shift_Del</text>
<rect x="931" y="776.4" width="8.8" height="8.8" fill="#E31A1C"/>
<text x="951" y="787.4" font-size="19.4">Nonsense_Mutation</text>
<rect x="931" y="798.65" width="8.8" height="8.8" fill="#6A3D9A"/>
<text x="951" y="809.65" font-size="19.4">Frame_Shift_Ins</text>
<rect x="1135.6" y="731.9" width="8.8" height="8.8" fill="#FFFF99"/>
<text x="1156.2" y="742.9" font-size="19.4">In_Frame_Del</text>
<rect x="1135.6" y="754.15" width="8.8" height="8.8" fill="#D53E4F"/>
<text x="1156.2" y="765.15" font-size="19.4">In_Frame_Ins</text>
<rect x="1135.6" y="776.4" width="8.8" height="8.8" fill="#000000"/>
<text x="1156.2" y="787.4" font-size="19.4">Multi_Hit</text>
<text x="1368.3" y="742.4" font-size="18.7">Risk</text>
<rect x="1380.1" y="760.6" width="8.8" height="8.8" fill="#FF0000"/>
<text x="1401.1" y="771.8" font-size="18.7">high</text>
<rect x="1380.1" y="783.1" width="8.8" height="8.8" fill="#0000FF"/>
<text x="1401.1" y="794.3" font-size="18.7">low</text>
<path d="M122.9 933V1568.8H827.2" stroke="#000" stroke-width="2" fill="none"/>
<text x="111.9" y="1548.9" font-size="25" text-anchor="end">0.00</text>
<text x="111.9" y="1404.2" font-size="25" text-anchor="end">0.25</text>
<text x="111.9" y="1259.5" font-size="25" text-anchor="end">0.50</text>
<text x="111.9" y="1114.8" font-size="25" text-anchor="end">0.75</text>
<text x="111.9" y="970.1" font-size="25" text-anchor="end">1.00</text>
<text x="155" y="1599.1" font-size="25" text-anchor="middle">0</text>
<text x="208.43" y="1599.1" font-size="25" text-anchor="middle">1</text>
<text x="261.86" y="1599.1" font-size="25" text-anchor="middle">2</text>
<text x="315.29" y="1599.1" font-size="25" text-anchor="middle">3</text>
<text x="368.72" y="1599.1" font-size="25" text-anchor="middle">4</text>
<text x="422.15" y="1599.1" font-size="25" text-anchor="middle">5</text>
<text x="475.58" y="1599.1" font-size="25" text-anchor="middle">6</text>
<text x="529.01" y="1599.1" font-size="25" text-anchor="middle">7</text>
<text x="582.44" y="1599.1" font-size="25" text-anchor="middle">8</text>
<text x="635.87" y="1599.1" font-size="25" text-anchor="middle">9</text>
<text x="689.3" y="1599.1" font-size="25" text-anchor="middle">10</text>
<text x="742.73" y="1599.1" font-size="25" text-anchor="middle">11</text>
<text x="796.16" y="1599.1" font-size="25" text-anchor="middle">12</text>
<path d="M122.9 1539.9h-5.4M122.9 1395.2h-5.4M122.9 1250.5h-5.4M122.9 1105.8h-5.4M122.9 961.1h-5.4M155 1568.8v5.4M208.43 1568.8v5.4M261.86 1568.8v5.4M315.29 1568.8v5.4M368.72 1568.8v5.4M422.15 1568.8v5.4M475.58 1568.8v5.4M529.01 1568.8v5.4M582.44 1568.8v5.4M635.87 1568.8v5.4M689.3 1568.8v5.4M742.73 1568.8v5.4M796.16 1568.8v5.4" stroke="#000" stroke-width="2" fill="none"/>
<text x="475.55" y="1631" font-size="29.6" text-anchor="middle">Time(years)</text>
<text x="0" y="0" font-size="29.6" text-anchor="middle" transform="translate(50.9 1251.9) rotate(-90)">Survival probability</text>
<text x="170" y="1437.3" font-size="34.6">p=0.019</text>
<g fill="none" stroke-linejoin="miter">
<path d="M155 961.1H155V986H172.8V1004.7H182.2V1020.7H198.2V1037.6H200V1071.3H203.8V1088.2H240.4V1105.1H248.8V1128.6H320.1V1167H324.8V1204.2H376V1241H467.4V1315.6H526.3V1427.2H600.2V1539.9" stroke="#FF0000" stroke-width="3.4" fill="none"/>
<path d="M155 978.5v12M163 978.5v12M168 978.5v12M178 997.2v12M186 1013.2v12M205 1080.7v12M208 1080.7v12M212 1080.7v12M221 1080.7v12M243 1097.6v12M246 1097.6v12M252.6 1121.1v12M267.6 1121.1v12M271.3 1121.1v12M301.4 1121.1v12M310.7 1121.1v12M415.1 1233.5v12M439.9 1233.5v12M464.5 1233.5v12M510.1 1308.1v12" stroke="#FF0000" stroke-width="2" fill="none"/>
<path d="M150.4 985.6h9.2M158.4 985.6h9.2M163.4 985.6h9.2M173.4 1004.3h9.2M181.4 1020.3h9.2M200.4 1087.8h9.2M203.4 1087.8h9.2M207.4 1087.8h9.2M216.4 1087.8h9.2M238.4 1104.7h9.2M241.4 1104.7h9.2M248 1128.2h9.2M263 1128.2h9.2M266.7 1128.2h9.2M296.8 1128.2h9.2M306.1 1128.2h9.2M410.5 1240.6h9.2M435.3 1240.6h9.2M459.9 1240.6h9.2M505.5 1315.2h9.2" stroke="#FF0000" stroke-width="4.4" fill="none"/>
<path d="M155 963.5H156.9V965.3H160.65V972.8H164.4V980.3H169.1V983.15H173.8V986H177.5V992.5H183.2V1000H187.85V1002.85H192.5V1005.7H197.2V1009.9H201.9V1014.1H206.6V1018.35H211.3V1022.6H215.05V1027.75H218.8V1032.9H222.57V1036.97H226.33V1041.03H230.1V1045.1H237.6V1046.9H252.6V1047.3H256.35V1050.85H260.1V1054.4H263.83V1056.93H267.57V1059.47H271.3V1062H275.05V1065.75H278.8V1069.5H282.57V1071.37H286.33V1073.23H290.1V1075.1H294.8V1076.95H299.5V1078.8H314.5V1079.8H316.4V1088.2H321.05V1090.1H325.7V1092H329.5V1101.4H346.4V1101.4H350.1V1110.7H355.8V1121.1H368.9V1122.9H374.5V1131.4H393.3V1132.3H398.9V1140.8H402.65V1145.95H406.4V1151.1H424.8V1152.6H427.5V1165.5H431.6V1177H435.8V1189.4H448.2V1202.6H517.8V1217.8H567.3V1240.9H819.6V1240.9" stroke="#0B62FB" stroke-width="3.4" fill="none"/>
<path d="M152.5 956v12M154.22 956v12M155.66 956v12M157.9 957.8v12M159.22 957.8v12M161.27 965.3v12M163.06 965.3v12M164.35 965.3v12M166.36 972.8v12M167.62 972.8v12M169.52 975.65v12M170.83 975.65v12M172.17 975.65v12M174.05 978.5v12M176.58 978.5v12M177.98 985v12M179.53 985v12M181.74 985v12M184.45 992.5v12M186.58 992.5v12M188.41 995.35v12M191.17 995.35v12M192.45 995.35v12M195.02 998.2v12M196.68 998.2v12M198.11 1002.4v12M199.5 1002.4v12M201.2 1002.4v12M203.7 1006.6v12M205.19 1006.6v12M207.32 1010.85v12M209.54 1010.85v12M211.34 1015.1v12M213.42 1015.1v12M214.72 1015.1v12M216.01 1020.25v12M217.54 1020.25v12M219.83 1025.4v12M221.72 1025.4v12M223.42 1029.47v12M225.55 1029.47v12M227.48 1033.53v12M229.16 1033.53v12M231.63 1037.6v12M233.95 1037.6v12M235.54 1037.6v12M237.66 1039.4v12M239.7 1039.4v12M242.3 1039.4v12M244.67 1039.4v12M246.33 1039.4v12M249.09 1039.4v12M250.48 1039.4v12M252.35 1039.4v12M254.76 1039.8v12M256.21 1039.8v12M258.19 1043.35v12M259.45 1043.35v12M261.72 1046.9v12M264.14 1049.43v12M266.26 1049.43v12M268.86 1051.97v12M270.56 1051.97v12M272.88 1054.5v12M275.03 1054.5v12M277.16 1058.25v12M279.09 1062v12M281.63 1062v12M284.34 1063.87v12M286.3 1063.87v12M288.56 1065.73v12M289.86 1065.73v12M292.18 1067.6v12M294.42 1067.6v12M297.21 1069.45v12M299.72 1071.3v12M301.38 1071.3v12M303.19 1071.3v12M305.46 1071.3v12M306.7 1071.3v12M308.64 1071.3v12M310.11 1071.3v12M311.49 1071.3v12M312.79 1071.3v12M315.22 1072.3v12M316.63 1080.7v12M318.22 1080.7v12M320.05 1080.7v12M322.64 1082.6v12M323.97 1082.6v12M325.89 1084.5v12M327.97 1084.5v12M330.58 1093.9v12M333.09 1093.9v12M335.67 1093.9v12M337.32 1093.9v12M339.18 1093.9v12M340.96 1093.9v12M343.57 1093.9v12M346.31 1093.9v12M347.75 1093.9v12M349.23 1093.9v12M350.8 1103.2v12M352.37 1103.2v12M354.35 1103.2v12M356.49 1113.6v12M358.11 1113.6v12M359.32 1113.6v12M361.19 1113.6v12M362.98 1113.6v12M365.09 1113.6v12M367.81 1113.6v12M370.12 1115.4v12M372.14 1115.4v12M374.33 1115.4v12M376.61 1123.9v12M377.9 1123.9v12M380.54 1123.9v12M382.98 1123.9v12M385.58 1123.9v12M388.06 1123.9v12M389.89 1123.9v12M391.73 1123.9v12M393.09 1123.9v12M395.31 1124.8v12M396.61 1124.8v12M397.91 1124.8v12M399.45 1133.3v12M400.91 1133.3v12M402.65 1138.45v12M403.94 1138.45v12M405.14 1138.45v12M406.58 1143.6v12M407.94 1143.6v12M409.72 1143.6v12M410.96 1143.6v12M413.56 1143.6v12M415.75 1143.6v12M417.18 1143.6v12M418.79 1143.6v12M420.54 1143.6v12M422.32 1143.6v12M423.72 1143.6v12M426.28 1145.1v12M429.07 1158v12M431.01 1158v12M432.99 1169.5v12M434.33 1169.5v12M435.69 1169.5v12M437.44 1181.9v12M439.06 1181.9v12M441.59 1181.9v12M443.05 1181.9v12M444.28 1181.9v12M472.9 1195.1v12M487.5 1195.1v12M493.6 1195.1v12M502.4 1195.1v12M521.1 1210.3v12M534.3 1210.3v12M547.8 1210.3v12M564.3 1210.3v12M578.9 1233.4v12M591.8 1233.4v12M630.6 1233.4v12M641.3 1233.4v12M676.6 1233.4v12M688.1 1233.4v12M736.3 1233.4v12M748.1 1233.4v12M759.1 1233.4v12M774.8 1233.4v12M779.7 1233.4v12M814.1 1233.4v12" stroke="#0B62FB" stroke-width="2" fill="none"/>
<path d="M147.9 963.1h9.2M149.62 963.1h9.2M151.06 963.1h9.2M153.3 964.9h9.2M154.62 964.9h9.2M156.67 972.4h9.2M158.46 972.4h9.2M159.75 972.4h9.2M161.76 979.9h9.2M163.02 979.9h9.2M164.92 982.75h9.2M166.23 982.75h9.2M167.57 982.75h9.2M169.45 985.6h9.2M171.98 985.6h9.2M173.38 992.1h9.2M174.93 992.1h9.2M177.14 992.1h9.2M179.85 999.6h9.2M181.98 999.6h9.2M183.81 1002.45h9.2M186.57 1002.45h9.2M187.85 1002.45h9.2M190.42 1005.3h9.2M192.08 1005.3h9.2M193.51 1009.5h9.2M194.9 1009.5h9.2M196.6 1009.5h9.2M199.1 1013.7h9.2M200.59 1013.7h9.2M202.72 1017.95h9.2M204.94 1017.95h9.2M206.74 1022.2h9.2M208.82 1022.2h9.2M210.12 1022.2h9.2M211.41 1027.35h9.2M212.94 1027.35h9.2M215.23 1032.5h9.2M217.12 1032.5h9.2M218.82 1036.57h9.2M220.95 1036.57h9.2M222.88 1040.63h9.2M224.56 1040.63h9.2M227.03 1044.7h9.2M229.35 1044.7h9.2M230.94 1044.7h9.2M233.06 1046.5h9.2M235.1 1046.5h9.2M237.7 1046.5h9.2M240.07 1046.5h9.2M241.73 1046.5h9.2M244.49 1046.5h9.2M245.88 1046.5h9.2M247.75 1046.5h9.2M250.16 1046.9h9.2M251.61 1046.9h9.2M253.59 1050.45h9.2M254.85 1050.45h9.2M257.12 1054h9.2M259.54 1056.53h9.2M261.66 1056.53h9.2M264.26 1059.07h9.2M265.96 1059.07h9.2M268.28 1061.6h9.2M270.43 1061.6h9.2M272.56 1065.35h9.2M274.49 1069.1h9.2M277.03 1069.1h9.2M279.74 1070.97h9.2M281.7 1070.97h9.2M283.96 1072.83h9.2M285.26 1072.83h9.2M287.58 1074.7h9.2M289.82 1074.7h9.2M292.61 1076.55h9.2M295.12 1078.4h9.2M296.78 1078.4h9.2M298.59 1078.4h9.2M300.86 1078.4h9.2M302.1 1078.4h9.2M304.04 1078.4h9.2M305.51 1078.4h9.2M306.89 1078.4h9.2M308.19 1078.4h9.2M310.62 1079.4h9.2M312.03 1087.8h9.2M313.62 1087.8h9.2M315.45 1087.8h9.2M318.04 1089.7h9.2M319.37 1089.7h9.2M321.29 1091.6h9.2M323.37 1091.6h9.2M325.98 1101h9.2M328.49 1101h9.2M331.07 1101h9.2M332.72 1101h9.2M334.58 1101h9.2M336.36 1101h9.2M338.97 1101h9.2M341.71 1101h9.2M343.15 1101h9.2M344.63 1101h9.2M346.2 1110.3h9.2M347.77 1110.3h9.2M349.75 1110.3h9.2M351.89 1120.7h9.2M353.51 1120.7h9.2M354.72 1120.7h9.2M356.59 1120.7h9.2M358.38 1120.7h9.2M360.49 1120.7h9.2M363.21 1120.7h9.2M365.52 1122.5h9.2M367.54 1122.5h9.2M369.73 1122.5h9.2M372.01 1131h9.2M373.3 1131h9.2M375.94 1131h9.2M378.38 1131h9.2M380.98 1131h9.2M383.46 1131h9.2M385.29 1131h9.2M387.13 1131h9.2M388.49 1131h9.2M390.71 1131.9h9.2M392.01 1131.9h9.2M393.31 1131.9h9.2M394.85 1140.4h9.2M396.31 1140.4h9.2M398.05 1145.55h9.2M399.34 1145.55h9.2M400.54 1145.55h9.2M401.98 1150.7h9.2M403.34 1150.7h9.2M405.12 1150.7h9.2M406.36 1150.7h9.2M408.96 1150.7h9.2M411.15 1150.7h9.2M412.58 1150.7h9.2M414.19 1150.7h9.2M415.94 1150.7h9.2M417.72 1150.7h9.2M419.12 1150.7h9.2M421.68 1152.2h9.2M424.47 1165.1h9.2M426.41 1165.1h9.2M428.39 1176.6h9.2M429.73 1176.6h9.2M431.09 1176.6h9.2M432.84 1189h9.2M434.46 1189h9.2M436.99 1189h9.2M438.45 1189h9.2M439.68 1189h9.2M468.3 1202.2h9.2M482.9 1202.2h9.2M489 1202.2h9.2M497.8 1202.2h9.2M516.5 1217.4h9.2M529.7 1217.4h9.2M543.2 1217.4h9.2M559.7 1217.4h9.2M574.3 1240.5h9.2M587.2 1240.5h9.2M626 1240.5h9.2M636.7 1240.5h9.2M672 1240.5h9.2M683.5 1240.5h9.2M731.7 1240.5h9.2M743.5 1240.5h9.2M754.5 1240.5h9.2M770.2 1240.5h9.2M775.1 1240.5h9.2M809.5 1240.5h9.2" stroke="#0B62FB" stroke-width="4.4" fill="none"/>
</g>
<line x1="632" y1="1056.6" x2="660.6" y2="1056.6" stroke="#FF0000" stroke-width="3.4"/>
<path d="M646.2 1046.8v14" stroke="#FF0000" stroke-width="1.9" fill="none"/>
<path d="M639.4 1056.6h13.6" stroke="#FF0000" stroke-width="4.8" fill="none"/>
<text x="675.6" y="1064.1" font-size="20.7">H−TMB</text>
<line x1="632" y1="1093.2" x2="660.6" y2="1093.2" stroke="#0B62FB" stroke-width="3.4"/>
<path d="M646.2 1083.4v14" stroke="#0B62FB" stroke-width="1.9" fill="none"/>
<path d="M639.4 1093.2h13.6" stroke="#0B62FB" stroke-width="4.8" fill="none"/>
<text x="675.6" y="1100.7" font-size="20.7">L−TMB</text>
<path d="M980.4 933V1568.8H1684.8" stroke="#000" stroke-width="2" fill="none"/>
<text x="969.4" y="1548.9" font-size="25" text-anchor="end">0.00</text>
<text x="969.4" y="1404.2" font-size="25" text-anchor="end">0.25</text>
<text x="969.4" y="1259.5" font-size="25" text-anchor="end">0.50</text>
<text x="969.4" y="1114.8" font-size="25" text-anchor="end">0.75</text>
<text x="969.4" y="970.1" font-size="25" text-anchor="end">1.00</text>
<text x="1012.9" y="1599.1" font-size="25" text-anchor="middle">0</text>
<text x="1066.28" y="1599.1" font-size="25" text-anchor="middle">1</text>
<text x="1119.66" y="1599.1" font-size="25" text-anchor="middle">2</text>
<text x="1173.04" y="1599.1" font-size="25" text-anchor="middle">3</text>
<text x="1226.42" y="1599.1" font-size="25" text-anchor="middle">4</text>
<text x="1279.8" y="1599.1" font-size="25" text-anchor="middle">5</text>
<text x="1333.18" y="1599.1" font-size="25" text-anchor="middle">6</text>
<text x="1386.56" y="1599.1" font-size="25" text-anchor="middle">7</text>
<text x="1439.94" y="1599.1" font-size="25" text-anchor="middle">8</text>
<text x="1493.32" y="1599.1" font-size="25" text-anchor="middle">9</text>
<text x="1546.7" y="1599.1" font-size="25" text-anchor="middle">10</text>
<text x="1600.08" y="1599.1" font-size="25" text-anchor="middle">11</text>
<text x="1653.46" y="1599.1" font-size="25" text-anchor="middle">12</text>
<path d="M980.4 1539.9h-5.4M980.4 1395.2h-5.4M980.4 1250.5h-5.4M980.4 1105.8h-5.4M980.4 961.1h-5.4M1012.9 1568.8v5.4M1066.28 1568.8v5.4M1119.66 1568.8v5.4M1173.04 1568.8v5.4M1226.42 1568.8v5.4M1279.8 1568.8v5.4M1333.18 1568.8v5.4M1386.56 1568.8v5.4M1439.94 1568.8v5.4M1493.32 1568.8v5.4M1546.7 1568.8v5.4M1600.08 1568.8v5.4M1653.46 1568.8v5.4" stroke="#000" stroke-width="2" fill="none"/>
<text x="1333.1" y="1631" font-size="29.6" text-anchor="middle">Time(years)</text>
<text x="0" y="0" font-size="29.6" text-anchor="middle" transform="translate(908.4 1251.9) rotate(-90)">Survival probability</text>
<text x="1027" y="1437.3" font-size="34.6">p&lt;0.001</text>
<g fill="none" stroke-linejoin="miter">
<path d="M1012.9 960H1040.5V991H1055V1027.2H1057.2V1096H1061.2V1128.7H1097.6V1169.8H1177.3V1262.6H1325.2V1355.3H1458.1V1539.9" stroke="#FF0000" stroke-width="3.4" fill="none"/>
<path d="M1012.9 952.5v12M1041.5 983.5v12M1044 983.5v12M1047 983.5v12M1063.5 1121.2v12M1066.5 1121.2v12M1069.4 1121.2v12M1123.8 1162.3v12M1128.5 1162.3v12M1168.9 1162.3v12M1367.5 1347.8v12" stroke="#FF0000" stroke-width="2" fill="none"/>
<path d="M1008.3 959.6h9.2M1036.9 990.6h9.2M1039.4 990.6h9.2M1042.4 990.6h9.2M1058.9 1128.3h9.2M1061.9 1128.3h9.2M1064.8 1128.3h9.2M1119.2 1169.4h9.2M1123.9 1169.4h9.2M1164.3 1169.4h9.2M1362.9 1354.9h9.2" stroke="#FF0000" stroke-width="4.4" fill="none"/>
<path d="M1012.9 961.1H1012.9V1014.4H1030.6V1048.8H1107.5V1089.4H1182.5V1153.9H1233.6V1217.7H1383V1539.9" stroke="#0B62FB" stroke-width="3.4" fill="none"/>
<path d="M1012.9 1006.9v12M1022 1006.9v12M1079.4 1041.3v12M1102.5 1041.3v12M1158.8 1081.9v12M1168.1 1081.9v12M1248.6 1210.2v12M1272 1210.2v12M1297.1 1210.2v12M1324.1 1210.2v12" stroke="#0B62FB" stroke-width="2" fill="none"/>
<path d="M1008.3 1014h9.2M1017.4 1014h9.2M1074.8 1048.4h9.2M1097.9 1048.4h9.2M1154.2 1089h9.2M1163.5 1089h9.2M1244 1217.3h9.2M1267.4 1217.3h9.2M1292.5 1217.3h9.2M1319.5 1217.3h9.2" stroke="#0B62FB" stroke-width="4.4" fill="none"/>
<path d="M1012.5 970.6H1018.8V972.5H1021.3V981.3H1022.5V995H1028.8V1000H1033.8V1005H1037.5V1015H1043.8V1022.5H1050V1030H1056.3V1033.8H1061.3V1043.8H1067.5V1050H1072.5V1060H1077.5V1067.5H1081.25V1071.25H1085V1075H1090V1083.8H1093.75V1085.65H1097.5V1087.5H1108.8V1087.5H1112.5V1096.3H1116.25V1099.4H1120V1102.5H1125V1113.8H1131.3V1120H1135V1128.8H1147.5V1128.8H1151.9V1131.3H1156.3V1133.8H1168.8V1136.3H1173.5V1152H1178.2V1157.6H1182.9V1165.1H1208.3V1167H1211.1V1182H1215.8V1197H1230.8V1198H1231.7V1214.9H1262.7V1215.8H1263.6V1239.2H1287.9V1269.7H1425V1323.8H1678V1323.8" stroke="#6A5393" stroke-width="3.4" fill="none"/>
<path d="M1010.5 963.1v12M1012.55 963.1v12M1013.98 963.1v12M1016.05 963.1v12M1017.29 963.1v12M1019.34 965v12M1022.1 973.8v12M1024.68 987.5v12M1027 987.5v12M1028.62 987.5v12M1030.4 992.5v12M1031.87 992.5v12M1034.3 997.5v12M1036.36 997.5v12M1038.8 1007.5v12M1040.53 1007.5v12M1042.09 1007.5v12M1044.59 1015v12M1047.36 1015v12M1049.93 1015v12M1052.42 1022.5v12M1054.93 1022.5v12M1057.31 1026.3v12M1058.87 1026.3v12M1060.9 1026.3v12M1062.67 1036.3v12M1063.92 1036.3v12M1065.16 1036.3v12M1066.81 1036.3v12M1068.42 1042.5v12M1070.73 1042.5v12M1073.46 1052.5v12M1075.38 1052.5v12M1078.08 1060v12M1080.86 1060v12M1083.58 1063.75v12M1085.37 1067.5v12M1086.92 1067.5v12M1088.48 1067.5v12M1090 1067.5v12M1091.52 1076.3v12M1093.72 1076.3v12M1096.36 1078.15v12M1098.91 1080v12M1100.88 1080v12M1103.12 1080v12M1105.6 1080v12M1106.94 1080v12M1109.19 1080v12M1111.85 1080v12M1114.3 1088.8v12M1116.7 1091.9v12M1118.66 1091.9v12M1120.15 1095v12M1122.61 1095v12M1124.35 1095v12M1126.83 1106.3v12M1129.58 1106.3v12M1131.41 1112.5v12M1133.26 1112.5v12M1135.97 1121.3v12M1138.33 1121.3v12M1139.8 1121.3v12M1141.21 1121.3v12M1142.65 1121.3v12M1145.3 1121.3v12M1147.79 1121.3v12M1149.22 1121.3v12M1151.74 1121.3v12M1154.51 1123.8v12M1156.76 1126.3v12M1158.52 1126.3v12M1160.6 1126.3v12M1162.01 1126.3v12M1163.23 1126.3v12M1165.99 1126.3v12M1168.23 1126.3v12M1170.27 1128.8v12M1172.96 1128.8v12M1174.86 1144.5v12M1177.45 1144.5v12M1179.97 1150.1v12M1181.51 1150.1v12M1183.11 1157.6v12M1184.78 1157.6v12M1186.37 1157.6v12M1188.51 1157.6v12M1190.12 1157.6v12M1191.99 1157.6v12M1193.4 1157.6v12M1196.06 1157.6v12M1197.82 1157.6v12M1199.76 1157.6v12M1201.89 1157.6v12M1204.54 1157.6v12M1206.41 1157.6v12M1209.08 1159.5v12M1211.08 1159.5v12M1213.13 1174.5v12M1215.17 1174.5v12M1216.4 1189.5v12M1218.3 1189.5v12M1219.8 1189.5v12M1221 1189.5v12M1223.48 1189.5v12M1224.96 1189.5v12M1226.91 1189.5v12M1229.27 1189.5v12M1231.37 1190.5v12M1233.09 1207.4v12M1235.12 1207.4v12M1237.2 1207.4v12M1239.66 1207.4v12M1241.03 1207.4v12M1243.13 1207.4v12M1244.72 1207.4v12M1246.37 1207.4v12M1248.8 1207.4v12M1250.81 1207.4v12M1252.91 1207.4v12M1255.33 1207.4v12M1257.99 1207.4v12M1259.9 1207.4v12M1270 1231.7v12M1280 1231.7v12M1293.1 1262.2v12M1344.4 1262.2v12M1379.3 1262.2v12M1393 1262.2v12M1450.2 1316.3v12M1533.5 1316.3v12M1632 1316.3v12M1671.4 1316.3v12" stroke="#6A5393" stroke-width="2" fill="none"/>
<path d="M1005.9 970.2h9.2M1007.95 970.2h9.2M1009.38 970.2h9.2M1011.45 970.2h9.2M1012.69 970.2h9.2M1014.74 972.1h9.2M1017.5 980.9h9.2M1020.08 994.6h9.2M1022.4 994.6h9.2M1024.02 994.6h9.2M1025.8 999.6h9.2M1027.27 999.6h9.2M1029.7 1004.6h9.2M1031.76 1004.6h9.2M1034.2 1014.6h9.2M1035.93 1014.6h9.2M1037.49 1014.6h9.2M1039.99 1022.1h9.2M1042.76 1022.1h9.2M1045.33 1022.1h9.2M1047.82 1029.6h9.2M1050.33 1029.6h9.2M1052.71 1033.4h9.2M1054.27 1033.4h9.2M1056.3 1033.4h9.2M1058.07 1043.4h9.2M1059.32 1043.4h9.2M1060.56 1043.4h9.2M1062.21 1043.4h9.2M1063.82 1049.6h9.2M1066.13 1049.6h9.2M1068.86 1059.6h9.2M1070.78 1059.6h9.2M1073.48 1067.1h9.2M1076.26 1067.1h9.2M1078.98 1070.85h9.2M1080.77 1074.6h9.2M1082.32 1074.6h9.2M1083.88 1074.6h9.2M1085.4 1074.6h9.2M1086.92 1083.4h9.2M1089.12 1083.4h9.2M1091.76 1085.25h9.2M1094.31 1087.1h9.2M1096.28 1087.1h9.2M1098.52 1087.1h9.2M1101 1087.1h9.2M1102.34 1087.1h9.2M1104.59 1087.1h9.2M1107.25 1087.1h9.2M1109.7 1095.9h9.2M1112.1 1099h9.2M1114.06 1099h9.2M1115.55 1102.1h9.2M1118.01 1102.1h9.2M1119.75 1102.1h9.2M1122.23 1113.4h9.2M1124.98 1113.4h9.2M1126.81 1119.6h9.2M1128.66 1119.6h9.2M1131.37 1128.4h9.2M1133.73 1128.4h9.2M1135.2 1128.4h9.2M1136.61 1128.4h9.2M1138.05 1128.4h9.2M1140.7 1128.4h9.2M1143.19 1128.4h9.2M1144.62 1128.4h9.2M1147.14 1128.4h9.2M1149.91 1130.9h9.2M1152.16 1133.4h9.2M1153.92 1133.4h9.2M1156 1133.4h9.2M1157.41 1133.4h9.2M1158.63 1133.4h9.2M1161.39 1133.4h9.2M1163.63 1133.4h9.2M1165.67 1135.9h9.2M1168.36 1135.9h9.2M1170.26 1151.6h9.2M1172.85 1151.6h9.2M1175.37 1157.2h9.2M1176.91 1157.2h9.2M1178.51 1164.7h9.2M1180.18 1164.7h9.2M1181.77 1164.7h9.2M1183.91 1164.7h9.2M1185.52 1164.7h9.2M1187.39 1164.7h9.2M1188.8 1164.7h9.2M1191.46 1164.7h9.2M1193.22 1164.7h9.2M1195.16 1164.7h9.2M1197.29 1164.7h9.2M1199.94 1164.7h9.2M1201.81 1164.7h9.2M1204.48 1166.6h9.2M1206.48 1166.6h9.2M1208.53 1181.6h9.2M1210.57 1181.6h9.2M1211.8 1196.6h9.2M1213.7 1196.6h9.2M1215.2 1196.6h9.2M1216.4 1196.6h9.2M1218.88 1196.6h9.2M1220.36 1196.6h9.2M1222.31 1196.6h9.2M1224.67 1196.6h9.2M1226.77 1197.6h9.2M1228.49 1214.5h9.2M1230.52 1214.5h9.2M1232.6 1214.5h9.2M1235.06 1214.5h9.2M1236.43 1214.5h9.2M1238.53 1214.5h9.2M1240.12 1214.5h9.2M1241.77 1214.5h9.2M1244.2 1214.5h9.2M1246.21 1214.5h9.2M1248.31 1214.5h9.2M1250.73 1214.5h9.2M1253.39 1214.5h9.2M1255.3 1214.5h9.2M1265.4 1238.8h9.2M1275.4 1238.8h9.2M1288.5 1269.3h9.2M1339.8 1269.3h9.2M1374.7 1269.3h9.2M1388.4 1269.3h9.2M1445.6 1323.4h9.2M1528.9 1323.4h9.2M1627.4 1323.4h9.2M1666.8 1323.4h9.2" stroke="#6A5393" stroke-width="4.4" fill="none"/>
<path d="M1012.5 961.3H1018.8V965H1025V970H1035V971.3H1037.5V980H1043.8V982.5H1050V988.8H1068.8V991.3H1075V997.5H1081.3V1002.5H1087.5V1008.1H1131.3V1008.1H1137.5V1013.8H1143.8V1021.3H1181.3V1021.9H1187.5V1032.5H1206.4V1033.8H1208.3V1047.9H1255.2V1048.8H1256.1V1069.5H1283.3V1070.4H1287.1V1088.2H1292.7V1090.1H1294.6V1108.8H1306.3V1133.8H1374.6V1160.9H1427.1V1160.9" stroke="#7AC462" stroke-width="3.4" fill="none"/>
<line x1="1427" y1="1163.2" x2="1638.6" y2="1163.2" stroke="#7AC462" stroke-width="1.4"/>
<path d="M1010.5 953.8v12M1012.51 953.8v12M1014.53 953.8v12M1016.84 953.8v12M1018.76 953.8v12M1020.81 957.5v12M1022.78 957.5v12M1025.48 962.5v12M1027.8 962.5v12M1030.41 962.5v12M1033.11 962.5v12M1034.73 962.5v12M1036.82 963.8v12M1039.53 972.5v12M1042.08 972.5v12M1043.5 972.5v12M1044.89 975v12M1046.8 975v12M1048.11 975v12M1049.7 975v12M1051.02 981.3v12M1053.29 981.3v12M1055.74 981.3v12M1058.38 981.3v12M1059.82 981.3v12M1062.17 981.3v12M1064.43 981.3v12M1065.86 981.3v12M1068.47 981.3v12M1071.22 983.8v12M1072.77 983.8v12M1075.49 990v12M1077.33 990v12M1079.31 990v12M1082.09 995v12M1084.62 995v12M1086.08 995v12M1087.97 1000.6v12M1090 1000.6v12M1091.74 1000.6v12M1093.25 1000.6v12M1094.96 1000.6v12M1097.32 1000.6v12M1098.55 1000.6v12M1100.64 1000.6v12M1102.54 1000.6v12M1103.77 1000.6v12M1105.5 1000.6v12M1107.7 1000.6v12M1109.72 1000.6v12M1111.02 1000.6v12M1113.8 1000.6v12M1116.26 1000.6v12M1119.01 1000.6v12M1120.38 1000.6v12M1122.01 1000.6v12M1123.27 1000.6v12M1125.72 1000.6v12M1127.35 1000.6v12M1128.76 1000.6v12M1130.63 1000.6v12M1133.29 1000.6v12M1135.8 1000.6v12M1137.41 1000.6v12M1138.85 1006.3v12M1141.52 1006.3v12M1143.64 1006.3v12M1145.96 1013.8v12M1147.3 1013.8v12M1148.59 1013.8v12M1150.89 1013.8v12M1152.77 1013.8v12M1154.09 1013.8v12M1156.79 1013.8v12M1159.01 1013.8v12M1161.49 1013.8v12M1162.82 1013.8v12M1165.39 1013.8v12M1166.7 1013.8v12M1169.28 1013.8v12M1171.21 1013.8v12M1172.95 1013.8v12M1175.03 1013.8v12M1177.72 1013.8v12M1179.34 1013.8v12M1180.75 1013.8v12M1182.79 1014.4v12M1184.38 1014.4v12M1185.75 1014.4v12M1187.21 1014.4v12M1188.49 1025v12M1190.01 1025v12M1191.71 1025v12M1193.4 1025v12M1195.82 1025v12M1197.48 1025v12M1199.48 1025v12M1200.96 1025v12M1202.72 1025v12M1203.95 1025v12M1205.55 1025v12M1206.77 1026.3v12M1209.15 1040.4v12M1211.23 1040.4v12M1212.73 1040.4v12M1214.69 1040.4v12M1217.39 1040.4v12M1218.76 1040.4v12M1221.27 1040.4v12M1223.16 1040.4v12M1225.15 1040.4v12M1227.69 1040.4v12M1229.51 1040.4v12M1231.53 1040.4v12M1233.83 1040.4v12M1236.6 1040.4v12M1238.35 1040.4v12M1240.88 1040.4v12M1243.21 1040.4v12M1245.43 1040.4v12M1247.27 1040.4v12M1249.03 1040.4v12M1250.32 1040.4v12M1251.72 1040.4v12M1253.04 1040.4v12M1255.42 1041.3v12M1257.03 1062v12M1258.49 1062v12M1259.83 1062v12M1262.37 1062v12M1264.97 1062v12M1267.24 1062v12M1268.89 1062v12M1270.48 1062v12M1272.15 1062v12M1274.08 1062v12M1275.53 1062v12M1277.45 1062v12M1279.07 1062v12M1281.81 1062v12M1284.56 1062.9v12M1286.64 1062.9v12M1288.23 1080.7v12M1290.98 1080.7v12M1292.67 1080.7v12M1294.44 1082.6v12M1295.64 1101.3v12M1297.45 1101.3v12M1299.41 1101.3v12M1329.9 1126.3v12M1350.9 1126.3v12M1360.4 1126.3v12M1391.9 1153.4v12M1404.8 1153.4v12M1421.3 1153.4v12" stroke="#7AC462" stroke-width="2" fill="none"/>
<path d="M1005.9 960.9h9.2M1007.91 960.9h9.2M1009.93 960.9h9.2M1012.24 960.9h9.2M1014.16 960.9h9.2M1016.21 964.6h9.2M1018.18 964.6h9.2M1020.88 969.6h9.2M1023.2 969.6h9.2M1025.81 969.6h9.2M1028.51 969.6h9.2M1030.13 969.6h9.2M1032.22 970.9h9.2M1034.93 979.6h9.2M1037.48 979.6h9.2M1038.9 979.6h9.2M1040.29 982.1h9.2M1042.2 982.1h9.2M1043.51 982.1h9.2M1045.1 982.1h9.2M1046.42 988.4h9.2M1048.69 988.4h9.2M1051.14 988.4h9.2M1053.78 988.4h9.2M1055.22 988.4h9.2M1057.57 988.4h9.2M1059.83 988.4h9.2M1061.26 988.4h9.2M1063.87 988.4h9.2M1066.62 990.9h9.2M1068.17 990.9h9.2M1070.89 997.1h9.2M1072.73 997.1h9.2M1074.71 997.1h9.2M1077.49 1002.1h9.2M1080.02 1002.1h9.2M1081.48 1002.1h9.2M1083.37 1007.7h9.2M1085.4 1007.7h9.2M1087.14 1007.7h9.2M1088.65 1007.7h9.2M1090.36 1007.7h9.2M1092.72 1007.7h9.2M1093.95 1007.7h9.2M1096.04 1007.7h9.2M1097.94 1007.7h9.2M1099.17 1007.7h9.2M1100.9 1007.7h9.2M1103.1 1007.7h9.2M1105.12 1007.7h9.2M1106.42 1007.7h9.2M1109.2 1007.7h9.2M1111.66 1007.7h9.2M1114.41 1007.7h9.2M1115.78 1007.7h9.2M1117.41 1007.7h9.2M1118.67 1007.7h9.2M1121.12 1007.7h9.2M1122.75 1007.7h9.2M1124.16 1007.7h9.2M1126.03 1007.7h9.2M1128.69 1007.7h9.2M1131.2 1007.7h9.2M1132.81 1007.7h9.2M1134.25 1013.4h9.2M1136.92 1013.4h9.2M1139.04 1013.4h9.2M1141.36 1020.9h9.2M1142.7 1020.9h9.2M1143.99 1020.9h9.2M1146.29 1020.9h9.2M1148.17 1020.9h9.2M1149.49 1020.9h9.2M1152.19 1020.9h9.2M1154.41 1020.9h9.2M1156.89 1020.9h9.2M1158.22 1020.9h9.2M1160.79 1020.9h9.2M1162.1 1020.9h9.2M1164.68 1020.9h9.2M1166.61 1020.9h9.2M1168.35 1020.9h9.2M1170.43 1020.9h9.2M1173.12 1020.9h9.2M1174.74 1020.9h9.2M1176.15 1020.9h9.2M1178.19 1021.5h9.2M1179.78 1021.5h9.2M1181.15 1021.5h9.2M1182.61 1021.5h9.2M1183.89 1032.1h9.2M1185.41 1032.1h9.2M1187.11 1032.1h9.2M1188.8 1032.1h9.2M1191.22 1032.1h9.2M1192.88 1032.1h9.2M1194.88 1032.1h9.2M1196.36 1032.1h9.2M1198.12 1032.1h9.2M1199.35 1032.1h9.2M1200.95 1032.1h9.2M1202.17 1033.4h9.2M1204.55 1047.5h9.2M1206.63 1047.5h9.2M1208.13 1047.5h9.2M1210.09 1047.5h9.2M1212.79 1047.5h9.2M1214.16 1047.5h9.2M1216.67 1047.5h9.2M1218.56 1047.5h9.2M1220.55 1047.5h9.2M1223.09 1047.5h9.2M1224.91 1047.5h9.2M1226.93 1047.5h9.2M1229.23 1047.5h9.2M1232 1047.5h9.2M1233.75 1047.5h9.2M1236.28 1047.5h9.2M1238.61 1047.5h9.2M1240.83 1047.5h9.2M1242.67 1047.5h9.2M1244.43 1047.5h9.2M1245.72 1047.5h9.2M1247.12 1047.5h9.2M1248.44 1047.5h9.2M1250.82 1048.4h9.2M1252.43 1069.1h9.2M1253.89 1069.1h9.2M1255.23 1069.1h9.2M1257.77 1069.1h9.2M1260.37 1069.1h9.2M1262.64 1069.1h9.2M1264.29 1069.1h9.2M1265.88 1069.1h9.2M1267.55 1069.1h9.2M1269.48 1069.1h9.2M1270.93 1069.1h9.2M1272.85 1069.1h9.2M1274.47 1069.1h9.2M1277.21 1069.1h9.2M1279.96 1070h9.2M1282.04 1070h9.2M1283.63 1087.8h9.2M1286.38 1087.8h9.2M1288.07 1087.8h9.2M1289.84 1089.7h9.2M1291.04 1108.4h9.2M1292.85 1108.4h9.2M1294.81 1108.4h9.2M1325.3 1133.4h9.2M1346.3 1133.4h9.2M1355.8 1133.4h9.2M1387.3 1160.5h9.2M1400.2 1160.5h9.2M1416.7 1160.5h9.2" stroke="#7AC462" stroke-width="4.4" fill="none"/>
<path d="M1436.3 1161.5v4M1487.5 1161.5v4M1499.3 1161.5v4M1545.3 1161.5v4M1593.9 1161.5v4M1605.7 1161.5v4M1616.2 1161.5v4M1637.2 1161.5v4" stroke="#7AC462" stroke-width="1.3" fill="none"/>
</g>
<line x1="1445" y1="1019.6" x2="1473.6" y2="1019.6" stroke="#FF0000" stroke-width="3.4"/>
<path d="M1459.2 1009.8v14" stroke="#FF0000" stroke-width="1.9" fill="none"/>
<path d="M1452.4 1019.6h13.6" stroke="#FF0000" stroke-width="4.8" fill="none"/>
<text x="1488" y="1027.1" font-size="20.7">H−TMB+high risk</text>
<line x1="1445" y1="1056.2" x2="1473.6" y2="1056.2" stroke="#0B62FB" stroke-width="3.4"/>
<path d="M1459.2 1046.4v14" stroke="#0B62FB" stroke-width="1.9" fill="none"/>
<path d="M1452.4 1056.2h13.6" stroke="#0B62FB" stroke-width="4.8" fill="none"/>
<text x="1488" y="1063.7" font-size="20.7">H−TMB+low risk</text>
<line x1="1445" y1="1092.8" x2="1473.6" y2="1092.8" stroke="#6A5393" stroke-width="3.4"/>
<path d="M1459.2 1083v14" stroke="#6A5393" stroke-width="1.9" fill="none"/>
<path d="M1452.4 1092.8h13.6" stroke="#6A5393" stroke-width="4.8" fill="none"/>
<text x="1488" y="1100.3" font-size="20.7">L−TMB+high risk</text>
<line x1="1445" y1="1129.4" x2="1473.6" y2="1129.4" stroke="#7AC462" stroke-width="3.4"/>
<path d="M1459.2 1119.6v14" stroke="#7AC462" stroke-width="1.9" fill="none"/>
<path d="M1452.4 1129.4h13.6" stroke="#7AC462" stroke-width="4.8" fill="none"/>
<text x="1488" y="1136.9" font-size="20.7">L−TMB+low risk</text>
<rect x="323.4" y="1766.4" width="460.4" height="692.4" fill="#fff"/>
<path d="M396.3 1766.4V2458.8M489.9 1766.4V2458.8M583.5 1766.4V2458.8M677.1 1766.4V2458.8M770.7 1766.4V2458.8" stroke="#c9c9c9" stroke-width="1" fill="none"/>
<path d="M349.6 1766.4V2458.8M443.25 1766.4V2458.8M536.9 1766.4V2458.8M630.55 1766.4V2458.8M724.2 1766.4V2458.8M323.4 1782.7H783.8M323.4 1811.39H783.8M323.4 1840.08H783.8M323.4 1868.77H783.8M323.4 1897.46H783.8M323.4 1926.15H783.8M323.4 1954.84H783.8M323.4 1983.53H783.8M323.4 2012.22H783.8M323.4 2040.91H783.8M323.4 2069.6H783.8M323.4 2098.29H783.8M323.4 2126.98H783.8M323.4 2155.67H783.8M323.4 2184.36H783.8M323.4 2213.05H783.8M323.4 2241.74H783.8M323.4 2270.43H783.8M323.4 2299.12H783.8M323.4 2327.81H783.8M323.4 2356.5H783.8M323.4 2385.19H783.8M323.4 2413.88H783.8M323.4 2442.57H783.8" stroke="#bdbdbd" stroke-width="1.4" fill="none"/>
<ellipse cx="360.2" cy="1782.7" rx="7.5" ry="8.7" fill="#F8766D"/>
<ellipse cx="449.8" cy="1811.39" rx="7.5" ry="8.7" fill="#F8766D"/>
<ellipse cx="763.6" cy="1840.08" rx="7.5" ry="8.7" fill="#F8766D"/>
<ellipse cx="636.8" cy="1868.77" rx="7.5" ry="8.7" fill="#F8766D"/>
<ellipse cx="446.6" cy="1897.46" rx="7.5" ry="8.7" fill="#F8766D"/>
<ellipse cx="432.4" cy="1926.15" rx="7.5" ry="8.7" fill="#F8766D"/>
<ellipse cx="449.8" cy="1954.84" rx="7.5" ry="8.7" fill="#F8766D"/>
<ellipse cx="688.7" cy="1983.53" rx="7.5" ry="8.7" fill="#F8766D"/>
<ellipse cx="405" cy="2012.22" rx="7.5" ry="8.7" fill="#F8766D"/>
<ellipse cx="653.2" cy="2040.91" rx="7.5" ry="8.7" fill="#B79F00"/>
<ellipse cx="343.8" cy="2069.6" rx="7.5" ry="8.7" fill="#B79F00"/>
<ellipse cx="430.2" cy="2098.29" rx="7.5" ry="8.7" fill="#B79F00"/>
<ellipse cx="433.5" cy="2126.98" rx="7.5" ry="8.7" fill="#B79F00"/>
<ellipse cx="370" cy="2155.67" rx="7.5" ry="8.7" fill="#00BA38"/>
<ellipse cx="344.4" cy="2184.36" rx="7.5" ry="8.7" fill="#00BA38"/>
<ellipse cx="415.4" cy="2213.05" rx="7.5" ry="8.7" fill="#00BA38"/>
<ellipse cx="708.9" cy="2241.74" rx="7.5" ry="8.7" fill="#00BA38"/>
<ellipse cx="635.7" cy="2270.43" rx="7.5" ry="8.7" fill="#00BFC4"/>
<ellipse cx="419.2" cy="2299.12" rx="7.5" ry="8.7" fill="#00BFC4"/>
<ellipse cx="423.1" cy="2327.81" rx="7.5" ry="8.7" fill="#619CFF"/>
<ellipse cx="664.7" cy="2356.5" rx="7.5" ry="8.7" fill="#619CFF"/>
<ellipse cx="423.1" cy="2385.19" rx="7.5" ry="8.7" fill="#F564E3"/>
<ellipse cx="687.1" cy="2413.88" rx="7.5" ry="8.7" fill="#F564E3"/>
<ellipse cx="446.6" cy="2442.57" rx="7.5" ry="8.7" fill="#F564E3"/>
<rect x="323.4" y="1766.4" width="460.4" height="692.4" fill="none" stroke="#111" stroke-width="2.1"/>
<path d="M323.4 1782.7h-4.6M323.4 1811.39h-4.6M323.4 1840.08h-4.6M323.4 1868.77h-4.6M323.4 1897.46h-4.6M323.4 1926.15h-4.6M323.4 1954.84h-4.6M323.4 1983.53h-4.6M323.4 2012.22h-4.6M323.4 2040.91h-4.6M323.4 2069.6h-4.6M323.4 2098.29h-4.6M323.4 2126.98h-4.6M323.4 2155.67h-4.6M323.4 2184.36h-4.6M323.4 2213.05h-4.6M323.4 2241.74h-4.6M323.4 2270.43h-4.6M323.4 2299.12h-4.6M323.4 2327.81h-4.6M323.4 2356.5h-4.6M323.4 2385.19h-4.6M323.4 2413.88h-4.6M323.4 2442.57h-4.6M349.6 2458.8v4.6M443.25 2458.8v4.6M536.9 2458.8v4.6M630.55 2458.8v4.6M724.2 2458.8v4.6" stroke="#111" stroke-width="1.8" fill="none"/>
<text x="314.6" y="1787.2" font-size="16" text-anchor="end" fill="#F8766D" textLength="173.6" lengthAdjust="spacingAndGlyphs">T cell CD4+ memory_XCELL</text>
<text x="314.6" y="1815.89" font-size="16" text-anchor="end" fill="#F8766D" textLength="224.4" lengthAdjust="spacingAndGlyphs">T cell CD4+ (non−regulatory)_XCELL</text>
<text x="314.6" y="1844.58" font-size="16" text-anchor="end" fill="#F8766D" textLength="217.9" lengthAdjust="spacingAndGlyphs">T cell CD4+ central memory_XCELL</text>
<text x="314.6" y="1873.27" font-size="16" text-anchor="end" fill="#F8766D" textLength="222.8" lengthAdjust="spacingAndGlyphs">T cell CD4+ effector memory_XCELL</text>
<text x="314.6" y="1901.96" font-size="16" text-anchor="end" fill="#F8766D" textLength="227.1" lengthAdjust="spacingAndGlyphs">Common lymphoid progenitor_XCELL</text>
<text x="314.6" y="1930.65" font-size="16" text-anchor="end" fill="#F8766D" textLength="175.2" lengthAdjust="spacingAndGlyphs">Myeloid dendritic cell_XCELL</text>
<text x="314.6" y="1959.34" font-size="16" text-anchor="end" fill="#F8766D" textLength="108.6" lengthAdjust="spacingAndGlyphs">Monocyte_XCELL</text>
<text x="314.6" y="1988.03" font-size="16" text-anchor="end" fill="#F8766D" textLength="147.9" lengthAdjust="spacingAndGlyphs">T cell CD4+ Th1_XCELL</text>
<text x="314.6" y="2016.72" font-size="16" text-anchor="end" fill="#F8766D" textLength="147.9" lengthAdjust="spacingAndGlyphs">T cell CD4+ Th2_XCELL</text>
<text x="314.6" y="2045.41" font-size="16" text-anchor="end" fill="#B79F00" textLength="119.5" lengthAdjust="spacingAndGlyphs">T cell CD4+_TIMER</text>
<text x="314.6" y="2074.1" font-size="16" text-anchor="end" fill="#B79F00" textLength="119.5" lengthAdjust="spacingAndGlyphs">T cell CD8+_TIMER</text>
<text x="314.6" y="2102.79" font-size="16" text-anchor="end" fill="#B79F00" textLength="110.7" lengthAdjust="spacingAndGlyphs">Neutrophil_TIMER</text>
<text x="314.6" y="2131.48" font-size="16" text-anchor="end" fill="#B79F00" textLength="174.1" lengthAdjust="spacingAndGlyphs">Myeloid dendritic cell_TIMER</text>
<text x="314.6" y="2160.17" font-size="16" text-anchor="end" fill="#00BA38" textLength="183.4" lengthAdjust="spacingAndGlyphs">Macrophage M1_QUANTISEQ</text>
<text x="314.6" y="2188.86" font-size="16" text-anchor="end" fill="#00BA38" textLength="147.9" lengthAdjust="spacingAndGlyphs">Neutrophil_QUANTISEQ</text>
<text x="314.6" y="2217.55" font-size="16" text-anchor="end" fill="#00BA38" textLength="261" lengthAdjust="spacingAndGlyphs">T cell CD4+ (non−regulatory)_QUANTISEQ</text>
<text x="314.6" y="2246.24" font-size="16" text-anchor="end" fill="#00BA38" textLength="206.4" lengthAdjust="spacingAndGlyphs">uncharacterized cell_QUANTISEQ</text>
<text x="314.6" y="2274.93" font-size="16" text-anchor="end" fill="#00BFC4" textLength="135.9" lengthAdjust="spacingAndGlyphs">T cell_MCPCOUNTER</text>
<text x="314.6" y="2303.62" font-size="16" text-anchor="end" fill="#00BFC4" textLength="229.3" lengthAdjust="spacingAndGlyphs">Myeloid dendritic cell_MCPCOUNTER</text>
<text x="314.6" y="2332.31" font-size="16" text-anchor="end" fill="#619CFF" textLength="288.9" lengthAdjust="spacingAndGlyphs">T cell CD4+ memory resting_CIBERSORT−ABS</text>
<text x="314.6" y="2361" font-size="16" text-anchor="end" fill="#619CFF" textLength="263.2" lengthAdjust="spacingAndGlyphs">T cell regulatory (Tregs)_CIBERSORT−ABS</text>
<text x="314.6" y="2389.69" font-size="16" text-anchor="end" fill="#F564E3" textLength="254.5" lengthAdjust="spacingAndGlyphs">T cell CD4+ memory resting_CIBERSORT</text>
<text x="314.6" y="2418.38" font-size="16" text-anchor="end" fill="#F564E3" textLength="228.2" lengthAdjust="spacingAndGlyphs">T cell regulatory (Tregs)_CIBERSORT</text>
<text x="314.6" y="2447.07" font-size="16" text-anchor="end" fill="#F564E3" textLength="255.6" lengthAdjust="spacingAndGlyphs">Myeloid dendritic cell resting_CIBERSORT</text>
<text x="349.6" y="2480.2" font-size="15.4" text-anchor="middle" fill="#4d4d4d" textLength="27.0" lengthAdjust="spacingAndGlyphs">−0.2</text>
<text x="443.25" y="2480.2" font-size="15.4" text-anchor="middle" fill="#4d4d4d" textLength="27.0" lengthAdjust="spacingAndGlyphs">−0.1</text>
<text x="536.9" y="2480.2" font-size="15.4" text-anchor="middle" fill="#4d4d4d" textLength="19.0" lengthAdjust="spacingAndGlyphs">0.0</text>
<text x="630.55" y="2480.2" font-size="15.4" text-anchor="middle" fill="#4d4d4d" textLength="19.0" lengthAdjust="spacingAndGlyphs">0.1</text>
<text x="724.2" y="2480.2" font-size="15.4" text-anchor="middle" fill="#4d4d4d" textLength="19.0" lengthAdjust="spacingAndGlyphs">0.2</text>
<text x="553.7" y="2502.3" font-size="18" text-anchor="middle" textLength="159.6" lengthAdjust="spacingAndGlyphs">Correlation coefficient</text>
<text x="0" y="0" font-size="17.2" text-anchor="middle" transform="translate(18.2 2112.5) rotate(-90)" textLength="102" lengthAdjust="spacingAndGlyphs">Immune cell</text>
<text x="809.5" y="2023.3" font-size="18.2" textLength="64.5" lengthAdjust="spacingAndGlyphs">Software</text>
<rect x="808.8" y="2035" width="26.3" height="182.4" fill="#f2f2f2"/>
<ellipse cx="822.3" cy="2050" rx="7.7" ry="9.1" fill="#F8766D"/>
<text x="843.8" y="2055.8" font-size="15.7" textLength="42.6" lengthAdjust="spacingAndGlyphs">XCELL</text>
<ellipse cx="822.3" cy="2080.45" rx="7.7" ry="9.1" fill="#B79F00"/>
<text x="843.8" y="2086.25" font-size="15.7" textLength="41.6" lengthAdjust="spacingAndGlyphs">TIMER</text>
<ellipse cx="822.3" cy="2110.9" rx="7.7" ry="9.1" fill="#00BA38"/>
<text x="843.8" y="2116.7" font-size="15.7" textLength="78.8" lengthAdjust="spacingAndGlyphs">QUANTISEQ</text>
<ellipse cx="822.3" cy="2141.35" rx="7.7" ry="9.1" fill="#00BFC4"/>
<text x="843.8" y="2147.15" font-size="15.7" textLength="96.6" lengthAdjust="spacingAndGlyphs">MCPCOUNTER</text>
<ellipse cx="822.3" cy="2171.8" rx="7.7" ry="9.1" fill="#619CFF"/>
<text x="843.8" y="2177.6" font-size="15.7" textLength="113.2" lengthAdjust="spacingAndGlyphs">CIBERSORT−ABS</text>
<ellipse cx="822.3" cy="2202.25" rx="7.7" ry="9.1" fill="#F564E3"/>
<text x="843.8" y="2208.05" font-size="15.7" textLength="77.8" lengthAdjust="spacingAndGlyphs">CIBERSORT</text>
<rect x="1059.8" y="1808.4" width="654.4" height="639" fill="#fff"/>
<path d="M1115.6 1808.4V2447.4M1234.4 1808.4V2447.4M1353.2 1808.4V2447.4M1472 1808.4V2447.4M1590.8 1808.4V2447.4M1709.6 1808.4V2447.4M1059.8 2346.9H1714.2M1059.8 2202.3H1714.2M1059.8 2057.7H1714.2M1059.8 1913.1H1714.2" stroke="#f0f0f0" stroke-width="1.1" fill="none"/>
<path d="M1175 1808.4V2447.4M1293.8 1808.4V2447.4M1412.6 1808.4V2447.4M1531.4 1808.4V2447.4M1650.2 1808.4V2447.4M1059.8 2419.2H1714.2M1059.8 2274.6H1714.2M1059.8 2130H1714.2M1059.8 1985.4H1714.2M1059.8 1840.8H1714.2" stroke="#e9e9e9" stroke-width="2" fill="none"/>
<g fill="#000"><circle cx="1331.7" cy="1837.2" r="4.7"/><circle cx="1169.1" cy="1938.2" r="4.7"/><circle cx="1183.3" cy="1973.5" r="4.7"/><circle cx="1219.3" cy="1990.5" r="4.7"/><circle cx="1236.5" cy="1997.7" r="4.7"/><circle cx="1141.9" cy="2008.8" r="4.7"/><circle cx="1198.4" cy="2023.3" r="4.7"/><circle cx="1170.8" cy="2027.1" r="4.7"/><circle cx="1151.4" cy="2036" r="4.7"/><circle cx="1149.9" cy="2043.9" r="4.7"/><circle cx="1270.3" cy="2049.2" r="4.7"/><circle cx="1360.7" cy="2054.7" r="4.7"/><circle cx="1126.8" cy="2070.7" r="4.7"/><circle cx="1145" cy="2071.7" r="4.7"/><circle cx="1349.6" cy="2094.5" r="4.7"/><circle cx="1371.1" cy="2095.8" r="4.7"/><circle cx="1186.7" cy="2099.2" r="4.7"/><circle cx="1141" cy="2114.1" r="4.7"/><circle cx="1208.4" cy="2116.2" r="4.7"/><circle cx="1211" cy="2120.4" r="4.7"/><circle cx="1258.8" cy="2126.2" r="4.7"/><circle cx="1337.3" cy="2128.7" r="4.7"/><circle cx="1138.9" cy="2130.9" r="4.7"/><circle cx="1183.5" cy="2137" r="4.7"/><circle cx="1195.7" cy="2137" r="4.7"/><circle cx="1125.5" cy="2140" r="4.7"/><circle cx="1452.3" cy="1990.7" r="4.7"/><circle cx="1527.4" cy="2064.3" r="4.7"/><circle cx="1435.3" cy="2151.3" r="4.7"/><circle cx="1430.4" cy="2235.3" r="4.7"/><circle cx="1394.5" cy="2255.5" r="4.7"/><circle cx="1392.1" cy="2294.2" r="4.7"/><circle cx="1403.4" cy="2299.7" r="4.7"/><circle cx="1392.3" cy="2328.4" r="4.7"/><circle cx="1395.3" cy="2340.1" r="4.7"/><circle cx="1388.5" cy="2409.2" r="4.7"/><circle cx="1391.1" cy="2419.2" r="4.7"/><circle cx="1515.7" cy="2317.3" r="4.7"/><circle cx="1542.7" cy="2296.7" r="4.7"/><circle cx="1540.7" cy="2356.9" r="4.7"/><circle cx="1508.9" cy="2387.3" r="4.7"/><circle cx="1684.5" cy="2205.5" r="4.7"/><circle cx="1684.5" cy="2231" r="4.7"/><circle cx="1684.5" cy="2264.4" r="4.7"/><circle cx="1673.9" cy="2291.2" r="4.7"/><circle cx="1684.5" cy="2320.3" r="4.7"/><circle cx="1111.24" cy="2151.26" r="4.7"/><circle cx="1125.91" cy="2144.46" r="4.7"/><circle cx="1198.42" cy="2150.84" r="4.7"/><circle cx="1165.46" cy="2155.52" r="4.7"/><circle cx="1270.71" cy="2149.14" r="4.7"/><circle cx="1281.13" cy="2155.09" r="4.7"/><circle cx="1337.05" cy="2151.26" r="4.7"/><circle cx="1137.18" cy="2168.27" r="4.7"/><circle cx="1143.13" cy="2174.23" r="4.7"/><circle cx="1159.93" cy="2170.4" r="4.7"/><circle cx="1155.68" cy="2182.09" r="4.7"/><circle cx="1155.68" cy="2188.47" r="4.7"/><circle cx="1130.8" cy="2187.84" r="4.7"/><circle cx="1125.48" cy="2190.6" r="4.7"/><circle cx="1145.05" cy="2193.15" r="4.7"/><circle cx="1174.39" cy="2186.77" r="4.7"/><circle cx="1199.48" cy="2182.09" r="4.7"/><circle cx="1221.17" cy="2187.41" r="4.7"/><circle cx="1256.89" cy="2181.67" r="4.7"/><circle cx="1276.66" cy="2193.79" r="4.7"/><circle cx="1294.1" cy="2191.66" r="4.7"/><circle cx="1300.9" cy="2191.24" r="4.7"/><circle cx="1318.98" cy="2190.6" r="4.7"/><circle cx="1348.75" cy="2188.05" r="4.7"/><circle cx="1162.69" cy="2198.04" r="4.7"/><circle cx="1174.39" cy="2199.1" r="4.7"/><circle cx="1153.55" cy="2203.36" r="4.7"/><circle cx="1158.44" cy="2206.55" r="4.7"/><circle cx="1185.02" cy="2208.67" r="4.7"/><circle cx="1206.92" cy="2210.37" r="4.7"/><circle cx="1213.3" cy="2215.05" r="4.7"/><circle cx="1128.25" cy="2214.41" r="4.7"/><circle cx="1206.92" cy="2222.07" r="4.7"/><circle cx="1170.56" cy="2222.07" r="4.7"/><circle cx="1370.65" cy="2212.29" r="4.7"/><circle cx="1351.93" cy="2218.88" r="4.7"/><circle cx="1360.01" cy="2219.94" r="4.7"/><circle cx="1126.97" cy="2226.75" r="4.7"/><circle cx="1138.24" cy="2229.94" r="4.7"/><circle cx="1148.87" cy="2233.13" r="4.7"/><circle cx="1181.41" cy="2229.3" r="4.7"/><circle cx="1102.73" cy="2234.83" r="4.7"/><circle cx="1166.31" cy="2235.68" r="4.7"/><circle cx="1200.54" cy="2234.83" r="4.7"/><circle cx="1180.34" cy="2239.5" r="4.7"/><circle cx="1250.94" cy="2234.61" r="4.7"/><circle cx="1224.99" cy="2244.82" r="4.7"/><circle cx="1126.55" cy="2242.69" r="4.7"/><circle cx="1131.86" cy="2240.57" r="4.7"/><circle cx="1141.43" cy="2239.5" r="4.7"/><circle cx="1153.13" cy="2244.82" r="4.7"/><circle cx="1160.57" cy="2245.88" r="4.7"/><circle cx="1166.95" cy="2246.95" r="4.7"/><circle cx="1113.79" cy="2249.07" r="4.7"/><circle cx="1115.92" cy="2250.14" r="4.7"/><circle cx="1296.65" cy="2250.77" r="4.7"/><circle cx="1325.36" cy="2256.94" r="4.7"/><circle cx="1289.85" cy="2262.26" r="4.7"/><circle cx="1279.64" cy="2273.53" r="4.7"/><circle cx="1221.17" cy="2276.71" r="4.7"/><circle cx="1224.36" cy="2280.97" r="4.7"/><circle cx="1223.29" cy="2287.35" r="4.7"/><circle cx="1230.74" cy="2287.35" r="4.7"/><circle cx="1234.56" cy="2286.71" r="4.7"/><circle cx="1246.05" cy="2289.05" r="4.7"/><circle cx="1290.27" cy="2285.22" r="4.7"/><circle cx="1241.37" cy="2301.17" r="4.7"/><circle cx="1294.52" cy="2300.1" r="4.7"/><circle cx="1306.64" cy="2305.42" r="4.7"/><circle cx="1219.04" cy="2313.29" r="4.7"/><circle cx="1227.55" cy="2310.74" r="4.7"/><circle cx="1232.86" cy="2317.11" r="4.7"/><circle cx="1233.29" cy="2324.56" r="4.7"/><circle cx="1260.93" cy="2320.3" r="4.7"/><circle cx="1288.78" cy="2321.37" r="4.7"/><circle cx="1319.62" cy="2321.37" r="4.7"/><circle cx="1224.99" cy="2330.94" r="4.7"/><circle cx="1242.86" cy="2337.31" r="4.7"/><circle cx="1229.67" cy="2340.5" r="4.7"/><circle cx="1283.26" cy="2340.5" r="4.7"/><circle cx="1332.8" cy="2340.5" r="4.7"/><circle cx="1221.81" cy="2345.82" r="4.7"/><circle cx="1231.37" cy="2348.58" r="4.7"/><circle cx="1258.38" cy="2343.69" r="4.7"/><circle cx="1257.31" cy="2350.71" r="4.7"/><circle cx="1293.89" cy="2347.31" r="4.7"/><circle cx="1286.44" cy="2352.84" r="4.7"/><circle cx="1280.7" cy="2354.96" r="4.7"/><circle cx="1218.62" cy="2359" r="4.7"/><circle cx="1266.24" cy="2363.26" r="4.7"/><circle cx="1279.64" cy="2363.89" r="4.7"/><circle cx="1360.87" cy="2363.26" r="4.7"/><circle cx="1372.77" cy="2361.34" r="4.7"/><circle cx="1371.71" cy="2371.34" r="4.7"/><circle cx="1211.6" cy="2370.27" r="4.7"/><circle cx="1268.37" cy="2376.65" r="4.7"/><circle cx="1291.76" cy="2377.29" r="4.7"/><circle cx="1337.05" cy="2383.03" r="4.7"/><circle cx="1212.66" cy="2380.9" r="4.7"/><circle cx="1223.29" cy="2381.33" r="4.7"/><circle cx="1233.5" cy="2384.09" r="4.7"/><circle cx="1244.13" cy="2384.09" r="4.7"/><circle cx="1256.68" cy="2383.46" r="4.7"/><circle cx="1217.34" cy="2395.79" r="4.7"/><circle cx="1258.8" cy="2395.79" r="4.7"/><circle cx="1282.19" cy="2395.79" r="4.7"/><circle cx="1268.37" cy="2405.99" r="4.7"/><circle cx="1252" cy="2410.67" r="4.7"/><circle cx="1221.17" cy="2415.99" r="4.7"/><circle cx="1226.48" cy="2418.75" r="4.7"/><circle cx="1230.74" cy="2417.05" r="4.7"/><circle cx="1234.56" cy="2418.75" r="4.7"/><circle cx="1243.92" cy="2418.75" r="4.7"/><circle cx="1248.81" cy="2418.75" r="4.7"/><circle cx="1259.44" cy="2415.99" r="4.7"/><circle cx="1263.69" cy="2418.75" r="4.7"/><circle cx="1272.62" cy="2418.75" r="4.7"/><circle cx="1348.75" cy="2418.75" r="4.7"/><circle cx="1354.06" cy="2418.75" r="4.7"/><circle cx="1093.59" cy="2310.31" r="4.7"/><circle cx="1094.65" cy="2322.43" r="4.7"/><circle cx="1101.03" cy="2324.56" r="4.7"/><circle cx="1088.27" cy="2395.79" r="4.7"/><circle cx="1091.46" cy="2398.34" r="4.7"/><circle cx="1096.14" cy="2383.03" r="4.7"/><circle cx="1107.41" cy="2297.98" r="4.7"/><circle cx="1107.41" cy="2271.4" r="4.7"/><circle cx="1111.66" cy="2263.96" r="4.7"/><circle cx="1121.23" cy="2263.96" r="4.7"/><circle cx="1103.16" cy="2393.66" r="4.7"/><circle cx="1108.47" cy="2406.42" r="4.7"/><circle cx="1111.66" cy="2353.26" r="4.7"/><circle cx="1106.35" cy="2363.89" r="4.7"/><circle cx="1111.61" cy="2360.49" r="4.7"/><circle cx="1157.59" cy="2403.51" r="4.7"/><circle cx="1131.81" cy="2413.32" r="4.7"/><circle cx="1109.63" cy="2416.98" r="4.7"/><circle cx="1187.54" cy="2418.75" r="4.7"/><circle cx="1137.56" cy="2415.8" r="4.7"/><circle cx="1147.11" cy="2364.99" r="4.7"/><circle cx="1153.83" cy="2326.29" r="4.7"/><circle cx="1130.25" cy="2415" r="4.7"/><circle cx="1101.7" cy="2418.75" r="4.7"/><circle cx="1197.62" cy="2359.7" r="4.7"/><circle cx="1183.01" cy="2418.75" r="4.7"/><circle cx="1154.87" cy="2404.34" r="4.7"/><circle cx="1152.73" cy="2402.79" r="4.7"/><circle cx="1144.53" cy="2400.03" r="4.7"/><circle cx="1176.98" cy="2290.26" r="4.7"/><circle cx="1161.55" cy="2278.28" r="4.7"/><circle cx="1206.19" cy="2399.98" r="4.7"/><circle cx="1108.68" cy="2338.1" r="4.7"/><circle cx="1167.91" cy="2376.73" r="4.7"/><circle cx="1178.67" cy="2275.37" r="4.7"/><circle cx="1103.1" cy="2396.68" r="4.7"/><circle cx="1144.4" cy="2388.93" r="4.7"/><circle cx="1200.18" cy="2415.11" r="4.7"/><circle cx="1115.05" cy="2415.73" r="4.7"/><circle cx="1138.18" cy="2269.48" r="4.7"/><circle cx="1174.21" cy="2315.44" r="4.7"/><circle cx="1152.67" cy="2357.46" r="4.7"/><circle cx="1158.12" cy="2305.37" r="4.7"/><circle cx="1132.12" cy="2379.95" r="4.7"/><circle cx="1097.92" cy="2369.08" r="4.7"/><circle cx="1171.23" cy="2374.98" r="4.7"/><circle cx="1118.43" cy="2414.2" r="4.7"/><circle cx="1205.78" cy="2373.96" r="4.7"/><circle cx="1144.27" cy="2418.75" r="4.7"/><circle cx="1146.76" cy="2357.69" r="4.7"/><circle cx="1139.69" cy="2354.67" r="4.7"/><circle cx="1131.55" cy="2318.26" r="4.7"/><circle cx="1197.12" cy="2322.14" r="4.7"/><circle cx="1145.63" cy="2289.67" r="4.7"/><circle cx="1184.38" cy="2374.63" r="4.7"/><circle cx="1140.45" cy="2282.38" r="4.7"/><circle cx="1160.94" cy="2254.92" r="4.7"/><circle cx="1122.12" cy="2369.62" r="4.7"/><circle cx="1174.2" cy="2385.64" r="4.7"/><circle cx="1102.32" cy="2417" r="4.7"/><circle cx="1143.2" cy="2386.6" r="4.7"/><circle cx="1162.15" cy="2417.93" r="4.7"/><circle cx="1114.18" cy="2416.66" r="4.7"/><circle cx="1108.54" cy="2289.34" r="4.7"/><circle cx="1160.1" cy="2401.73" r="4.7"/><circle cx="1148.58" cy="2310.43" r="4.7"/><circle cx="1136.4" cy="2314.12" r="4.7"/><circle cx="1110.46" cy="2292.92" r="4.7"/><circle cx="1200.04" cy="2308.62" r="4.7"/><circle cx="1102.05" cy="2256.35" r="4.7"/><circle cx="1135.45" cy="2286.79" r="4.7"/><circle cx="1130.93" cy="2399.97" r="4.7"/><circle cx="1137.09" cy="2384.87" r="4.7"/><circle cx="1146.72" cy="2344.52" r="4.7"/><circle cx="1125.83" cy="2417.74" r="4.7"/><circle cx="1135.23" cy="2293.84" r="4.7"/><circle cx="1154.92" cy="2308.36" r="4.7"/><circle cx="1120.98" cy="2418.75" r="4.7"/><circle cx="1156.02" cy="2389.41" r="4.7"/><circle cx="1124.3" cy="2342.62" r="4.7"/><circle cx="1120" cy="2280.45" r="4.7"/><circle cx="1161.27" cy="2349.57" r="4.7"/><circle cx="1157.02" cy="2353.56" r="4.7"/><circle cx="1159.9" cy="2290.81" r="4.7"/><circle cx="1157.32" cy="2369.66" r="4.7"/><circle cx="1149.22" cy="2392.43" r="4.7"/><circle cx="1168.12" cy="2267.14" r="4.7"/><circle cx="1119.67" cy="2330.94" r="4.7"/><circle cx="1119.95" cy="2398.16" r="4.7"/><circle cx="1137.44" cy="2418.75" r="4.7"/><circle cx="1144.99" cy="2395.03" r="4.7"/><circle cx="1132.16" cy="2365.65" r="4.7"/><circle cx="1121.06" cy="2328.17" r="4.7"/><circle cx="1164.99" cy="2279.02" r="4.7"/><circle cx="1159.73" cy="2288.61" r="4.7"/><circle cx="1133.06" cy="2261.68" r="4.7"/><circle cx="1124.86" cy="2307.69" r="4.7"/><circle cx="1120.69" cy="2317.35" r="4.7"/><circle cx="1171.78" cy="2411.04" r="4.7"/><circle cx="1148.48" cy="2418.75" r="4.7"/><circle cx="1118.92" cy="2401.16" r="4.7"/><circle cx="1143.28" cy="2418.75" r="4.7"/><circle cx="1173.54" cy="2383.88" r="4.7"/><circle cx="1116.45" cy="2418.42" r="4.7"/><circle cx="1143.83" cy="2403.92" r="4.7"/><circle cx="1116.81" cy="2418.75" r="4.7"/><circle cx="1117.55" cy="2290.66" r="4.7"/><circle cx="1172.67" cy="2334.69" r="4.7"/><circle cx="1115.7" cy="2289.94" r="4.7"/><circle cx="1186.99" cy="2287.65" r="4.7"/><circle cx="1121.67" cy="2272.17" r="4.7"/><circle cx="1152.04" cy="2418.75" r="4.7"/><circle cx="1149.75" cy="2418.51" r="4.7"/><circle cx="1201.35" cy="2320.84" r="4.7"/><circle cx="1116.02" cy="2347.87" r="4.7"/><circle cx="1187.91" cy="2299.81" r="4.7"/><circle cx="1165.64" cy="2304.97" r="4.7"/><circle cx="1139.64" cy="2412.63" r="4.7"/><circle cx="1152.1" cy="2344.57" r="4.7"/><circle cx="1183.15" cy="2326.77" r="4.7"/><circle cx="1163.7" cy="2418.75" r="4.7"/><circle cx="1162.09" cy="2405.34" r="4.7"/><circle cx="1139.55" cy="2415.87" r="4.7"/><circle cx="1115.9" cy="2377.73" r="4.7"/><circle cx="1163.53" cy="2342.49" r="4.7"/><circle cx="1125.48" cy="2416.92" r="4.7"/><circle cx="1123.22" cy="2373.7" r="4.7"/><circle cx="1146.65" cy="2418.75" r="4.7"/><circle cx="1137.54" cy="2366.93" r="4.7"/><circle cx="1167.9" cy="2258.09" r="4.7"/><circle cx="1143.15" cy="2247.66" r="4.7"/><circle cx="1135.46" cy="2362.29" r="4.7"/><circle cx="1156.17" cy="2410.17" r="4.7"/><circle cx="1162.04" cy="2368.67" r="4.7"/><circle cx="1119.21" cy="2242.87" r="4.7"/><circle cx="1195.71" cy="2294.67" r="4.7"/><circle cx="1173.19" cy="2341.65" r="4.7"/><circle cx="1125.9" cy="2247.43" r="4.7"/><circle cx="1111.1" cy="2418.75" r="4.7"/><circle cx="1142.78" cy="2412.26" r="4.7"/><circle cx="1108.28" cy="2318.66" r="4.7"/><circle cx="1127.9" cy="2400.31" r="4.7"/><circle cx="1126.39" cy="2418.75" r="4.7"/><circle cx="1184.88" cy="2298.22" r="4.7"/><circle cx="1182.46" cy="2393.99" r="4.7"/><circle cx="1118.33" cy="2384.1" r="4.7"/><circle cx="1177.41" cy="2262.16" r="4.7"/><circle cx="1137.91" cy="2418.75" r="4.7"/><circle cx="1156.24" cy="2356.97" r="4.7"/><circle cx="1122.03" cy="2418.75" r="4.7"/><circle cx="1177.52" cy="2314.84" r="4.7"/><circle cx="1163.58" cy="2418.75" r="4.7"/><circle cx="1167.87" cy="2340.78" r="4.7"/><circle cx="1123.35" cy="2258.74" r="4.7"/><circle cx="1147.04" cy="2378.1" r="4.7"/><circle cx="1173.95" cy="2402.27" r="4.7"/><circle cx="1157.18" cy="2342.07" r="4.7"/><circle cx="1112.5" cy="2271.91" r="4.7"/><circle cx="1180.97" cy="2341.14" r="4.7"/><circle cx="1151.56" cy="2418.75" r="4.7"/><circle cx="1107.76" cy="2305.36" r="4.7"/><circle cx="1167.67" cy="2408.14" r="4.7"/><circle cx="1181.9" cy="2350.08" r="4.7"/><circle cx="1129.4" cy="2382.17" r="4.7"/><circle cx="1131.06" cy="2308.94" r="4.7"/><circle cx="1117.16" cy="2370.2" r="4.7"/><circle cx="1118.64" cy="2283.15" r="4.7"/><circle cx="1098.01" cy="2349.64" r="4.7"/><circle cx="1156.43" cy="2407.89" r="4.7"/><circle cx="1118.31" cy="2376.1" r="4.7"/><circle cx="1175.71" cy="2296.59" r="4.7"/><circle cx="1176.14" cy="2418.75" r="4.7"/><circle cx="1118.92" cy="2399.45" r="4.7"/><circle cx="1118.97" cy="2390.73" r="4.7"/><circle cx="1108.98" cy="2386.19" r="4.7"/><circle cx="1195.14" cy="2263.78" r="4.7"/><circle cx="1116.82" cy="2418.75" r="4.7"/><circle cx="1130.03" cy="2322.66" r="4.7"/><circle cx="1179.14" cy="2291.8" r="4.7"/><circle cx="1148.96" cy="2406.68" r="4.7"/><circle cx="1137.05" cy="2351.11" r="4.7"/><circle cx="1166.77" cy="2392.81" r="4.7"/><circle cx="1187.98" cy="2280.23" r="4.7"/><circle cx="1128.18" cy="2418.75" r="4.7"/><circle cx="1114.72" cy="2337.31" r="4.7"/><circle cx="1184.5" cy="2369.11" r="4.7"/><circle cx="1157.83" cy="2349.29" r="4.7"/><circle cx="1175.8" cy="2386.24" r="4.7"/><circle cx="1168.52" cy="2310.22" r="4.7"/><circle cx="1158.02" cy="2411.96" r="4.7"/><circle cx="1164.58" cy="2418.45" r="4.7"/><circle cx="1141.49" cy="2418.75" r="4.7"/><circle cx="1126.27" cy="2291.18" r="4.7"/><circle cx="1129.02" cy="2346.57" r="4.7"/><circle cx="1141.44" cy="2320.71" r="4.7"/><circle cx="1142.53" cy="2282.42" r="4.7"/><circle cx="1123.48" cy="2406.7" r="4.7"/><circle cx="1137.45" cy="2367.37" r="4.7"/><circle cx="1152.91" cy="2298.65" r="4.7"/><circle cx="1127.32" cy="2418.34" r="4.7"/><circle cx="1163.67" cy="2246.87" r="4.7"/><circle cx="1134.8" cy="2381.47" r="4.7"/><circle cx="1139.85" cy="2352.39" r="4.7"/><circle cx="1111.6" cy="2408.37" r="4.7"/><circle cx="1181.21" cy="2282.75" r="4.7"/><circle cx="1143.88" cy="2329.04" r="4.7"/><circle cx="1165.37" cy="2314.16" r="4.7"/><circle cx="1157.49" cy="2378.44" r="4.7"/><circle cx="1196.94" cy="2345.86" r="4.7"/><circle cx="1157.45" cy="2396.35" r="4.7"/><circle cx="1125.62" cy="2403.4" r="4.7"/><circle cx="1150.12" cy="2305.22" r="4.7"/><circle cx="1120.54" cy="2360.06" r="4.7"/><circle cx="1118.47" cy="2340.74" r="4.7"/><circle cx="1124.46" cy="2383.06" r="4.7"/><circle cx="1171.67" cy="2408.05" r="4.7"/><circle cx="1120.59" cy="2329.72" r="4.7"/><circle cx="1127.72" cy="2302.08" r="4.7"/><circle cx="1201.51" cy="2370.48" r="4.7"/><circle cx="1144.89" cy="2349.23" r="4.7"/><circle cx="1104.83" cy="2307.91" r="4.7"/><circle cx="1172.43" cy="2335.11" r="4.7"/><circle cx="1112.4" cy="2363.85" r="4.7"/><circle cx="1183" cy="2416.33" r="4.7"/><circle cx="1141.8" cy="2418.75" r="4.7"/><circle cx="1143.27" cy="2250.78" r="4.7"/><circle cx="1166.81" cy="2398.88" r="4.7"/><circle cx="1124.41" cy="2418.75" r="4.7"/><circle cx="1150.63" cy="2418.75" r="4.7"/><circle cx="1131.36" cy="2418.75" r="4.7"/><circle cx="1196.34" cy="2386.78" r="4.7"/><circle cx="1130.93" cy="2261.71" r="4.7"/><circle cx="1167.48" cy="2402.69" r="4.7"/><circle cx="1110.41" cy="2307.87" r="4.7"/><circle cx="1193.69" cy="2409.09" r="4.7"/><circle cx="1112.78" cy="2414.3" r="4.7"/><circle cx="1118.53" cy="2397.08" r="4.7"/><circle cx="1189.06" cy="2376.6" r="4.7"/><circle cx="1199.4" cy="2320.64" r="4.7"/><circle cx="1205.51" cy="2365.02" r="4.7"/><circle cx="1126.11" cy="2418.75" r="4.7"/><circle cx="1180.85" cy="2395.67" r="4.7"/><circle cx="1129.15" cy="2418.75" r="4.7"/><circle cx="1141.26" cy="2302.33" r="4.7"/><circle cx="1159.2" cy="2325.31" r="4.7"/><circle cx="1132.22" cy="2294.97" r="4.7"/><circle cx="1144.79" cy="2254.54" r="4.7"/><circle cx="1149.94" cy="2397.09" r="4.7"/><circle cx="1129.8" cy="2294.15" r="4.7"/><circle cx="1161.81" cy="2418.75" r="4.7"/><circle cx="1179.89" cy="2310.31" r="4.7"/><circle cx="1133.79" cy="2364.79" r="4.7"/><circle cx="1150.09" cy="2340.86" r="4.7"/><circle cx="1136.12" cy="2396.74" r="4.7"/><circle cx="1166.27" cy="2349.33" r="4.7"/><circle cx="1154.58" cy="2413.51" r="4.7"/><circle cx="1173.8" cy="2283.83" r="4.7"/><circle cx="1143.43" cy="2377.92" r="4.7"/><circle cx="1155.02" cy="2299.92" r="4.7"/><circle cx="1148.28" cy="2418.75" r="4.7"/><circle cx="1141.51" cy="2388.24" r="4.7"/><circle cx="1102.62" cy="2299.46" r="4.7"/><circle cx="1149.51" cy="2396.24" r="4.7"/><circle cx="1168.51" cy="2377.99" r="4.7"/><circle cx="1142.61" cy="2418.75" r="4.7"/><circle cx="1174.24" cy="2275.88" r="4.7"/><circle cx="1170.92" cy="2280.97" r="4.7"/><circle cx="1125.8" cy="2399.7" r="4.7"/><circle cx="1120.99" cy="2399.82" r="4.7"/><circle cx="1147.39" cy="2243.98" r="4.7"/><circle cx="1159.38" cy="2414.8" r="4.7"/><circle cx="1132" cy="2418.75" r="4.7"/><circle cx="1156.02" cy="2261.49" r="4.7"/><circle cx="1138.06" cy="2407.09" r="4.7"/><circle cx="1115.64" cy="2418.75" r="4.7"/><circle cx="1140.59" cy="2413.96" r="4.7"/><circle cx="1124.31" cy="2416.13" r="4.7"/><circle cx="1144.89" cy="2345.75" r="4.7"/><circle cx="1142.63" cy="2393.67" r="4.7"/><circle cx="1129.31" cy="2310.74" r="4.7"/><circle cx="1132.74" cy="2275.51" r="4.7"/><circle cx="1172.23" cy="2341.44" r="4.7"/><circle cx="1170.62" cy="2262.6" r="4.7"/><circle cx="1143.06" cy="2320.73" r="4.7"/><circle cx="1160.96" cy="2413.39" r="4.7"/><circle cx="1131.3" cy="2415.76" r="4.7"/><circle cx="1116.1" cy="2371.6" r="4.7"/><circle cx="1171.04" cy="2418.75" r="4.7"/><circle cx="1162.09" cy="2313.23" r="4.7"/><circle cx="1171.95" cy="2418.01" r="4.7"/><circle cx="1139.94" cy="2416.15" r="4.7"/><circle cx="1154.54" cy="2359.89" r="4.7"/><circle cx="1195.61" cy="2341.49" r="4.7"/><circle cx="1149.79" cy="2331.49" r="4.7"/><circle cx="1122.3" cy="2297.6" r="4.7"/><circle cx="1175.33" cy="2370.14" r="4.7"/><circle cx="1137.91" cy="2375.05" r="4.7"/><circle cx="1113.64" cy="2352.83" r="4.7"/><circle cx="1119.77" cy="2398" r="4.7"/><circle cx="1130.06" cy="2324.22" r="4.7"/><circle cx="1159.88" cy="2342.47" r="4.7"/><circle cx="1195.02" cy="2385.95" r="4.7"/><circle cx="1141.71" cy="2251.43" r="4.7"/><circle cx="1168.3" cy="2341.87" r="4.7"/><circle cx="1180.12" cy="2347.69" r="4.7"/><circle cx="1154.62" cy="2418.75" r="4.7"/><circle cx="1109.99" cy="2418.75" r="4.7"/><circle cx="1161.54" cy="2418.75" r="4.7"/><circle cx="1145.91" cy="2373.31" r="4.7"/><circle cx="1176.52" cy="2383.88" r="4.7"/><circle cx="1149.96" cy="2341.14" r="4.7"/><circle cx="1107.99" cy="2410.08" r="4.7"/><circle cx="1108.96" cy="2397.66" r="4.7"/><circle cx="1184.7" cy="2249.78" r="4.7"/><circle cx="1150.03" cy="2328.14" r="4.7"/><circle cx="1176.25" cy="2418.75" r="4.7"/><circle cx="1178.2" cy="2243.9" r="4.7"/><circle cx="1143.54" cy="2357.31" r="4.7"/><circle cx="1185.71" cy="2282" r="4.7"/><circle cx="1115.81" cy="2247.12" r="4.7"/><circle cx="1171.8" cy="2345.37" r="4.7"/><circle cx="1123.58" cy="2357.46" r="4.7"/><circle cx="1104.46" cy="2415.45" r="4.7"/><circle cx="1151.33" cy="2243" r="4.7"/><circle cx="1157.55" cy="2357.08" r="4.7"/><circle cx="1158.61" cy="2322.8" r="4.7"/><circle cx="1107" cy="2378.81" r="4.7"/><circle cx="1121.69" cy="2418.75" r="4.7"/><circle cx="1178.82" cy="2288.71" r="4.7"/><circle cx="1144.09" cy="2284.6" r="4.7"/><circle cx="1117.89" cy="2412.41" r="4.7"/><circle cx="1172.6" cy="2377.12" r="4.7"/><circle cx="1156.93" cy="2379.59" r="4.7"/><circle cx="1121.37" cy="2418.75" r="4.7"/><circle cx="1179.5" cy="2345.32" r="4.7"/><circle cx="1110.38" cy="2408.24" r="4.7"/><circle cx="1143.16" cy="2371.44" r="4.7"/><circle cx="1148.41" cy="2254.34" r="4.7"/><circle cx="1165.21" cy="2411.72" r="4.7"/><circle cx="1129.52" cy="2251.74" r="4.7"/><circle cx="1128.55" cy="2318.46" r="4.7"/><circle cx="1118.8" cy="2379.09" r="4.7"/><circle cx="1171.08" cy="2325.54" r="4.7"/><circle cx="1179.42" cy="2270.28" r="4.7"/><circle cx="1123.23" cy="2411.17" r="4.7"/><circle cx="1122.14" cy="2362.73" r="4.7"/><circle cx="1164.04" cy="2340.09" r="4.7"/><circle cx="1166.93" cy="2363.88" r="4.7"/><circle cx="1149.73" cy="2244.09" r="4.7"/><circle cx="1097.84" cy="2418.75" r="4.7"/><circle cx="1100.47" cy="2418.75" r="4.7"/><circle cx="1104.37" cy="2418.75" r="4.7"/><circle cx="1109.02" cy="2418.75" r="4.7"/><circle cx="1111.91" cy="2418.75" r="4.7"/><circle cx="1116.2" cy="2418.75" r="4.7"/><circle cx="1118.27" cy="2418.75" r="4.7"/><circle cx="1122.92" cy="2418.75" r="4.7"/><circle cx="1126.09" cy="2418.75" r="4.7"/><circle cx="1128.48" cy="2418.75" r="4.7"/><circle cx="1132.69" cy="2418.75" r="4.7"/><circle cx="1136.32" cy="2418.75" r="4.7"/><circle cx="1140.81" cy="2418.75" r="4.7"/><circle cx="1144.98" cy="2418.75" r="4.7"/><circle cx="1149.06" cy="2418.75" r="4.7"/><circle cx="1152.28" cy="2418.75" r="4.7"/><circle cx="1156.94" cy="2418.75" r="4.7"/><circle cx="1158.83" cy="2418.75" r="4.7"/><circle cx="1163.13" cy="2418.75" r="4.7"/><circle cx="1166.95" cy="2418.75" r="4.7"/><circle cx="1169.39" cy="2418.75" r="4.7"/><circle cx="1173.5" cy="2418.75" r="4.7"/><circle cx="1176.55" cy="2418.75" r="4.7"/><circle cx="1179.85" cy="2418.75" r="4.7"/><circle cx="1184.12" cy="2418.75" r="4.7"/><circle cx="1186.41" cy="2418.75" r="4.7"/><circle cx="1188.94" cy="2418.75" r="4.7"/><circle cx="1192.56" cy="2418.75" r="4.7"/><circle cx="1194.48" cy="2418.75" r="4.7"/><circle cx="1197.83" cy="2418.75" r="4.7"/><circle cx="1201.88" cy="2418.75" r="4.7"/><circle cx="1205.04" cy="2418.75" r="4.7"/></g>
<polygon points="1089.3,2320.3 1104.18,2318.69 1119.06,2317.02 1133.94,2315.25 1148.82,2313.33 1163.7,2311.2 1178.58,2308.78 1193.46,2306.01 1208.34,2302.89 1223.22,2299.49 1238.1,2295.89 1252.98,2292.15 1267.86,2288.32 1282.74,2284.42 1297.62,2280.48 1312.5,2276.51 1327.38,2272.52 1342.26,2268.51 1357.14,2264.48 1372.02,2260.45 1386.9,2256.41 1401.78,2252.36 1416.66,2248.3 1431.54,2244.24 1446.42,2240.18 1461.3,2236.11 1476.18,2232.04 1491.06,2227.97 1505.94,2223.9 1520.82,2219.82 1535.7,2215.75 1550.58,2211.67 1565.46,2207.59 1580.34,2203.51 1595.22,2199.42 1610.1,2195.34 1624.98,2191.26 1639.86,2187.18 1654.74,2183.09 1669.62,2179.01 1684.5,2174.92 1684.5,2265.88 1669.62,2267.29 1654.74,2268.7 1639.86,2270.11 1624.98,2271.52 1610.1,2272.93 1595.22,2274.35 1580.34,2275.76 1565.46,2277.17 1550.58,2278.59 1535.7,2280 1520.82,2281.42 1505.94,2282.84 1491.06,2284.26 1476.18,2285.69 1461.3,2287.11 1446.42,2288.54 1431.54,2289.97 1416.66,2291.41 1401.78,2292.85 1386.9,2294.29 1372.02,2295.75 1357.14,2297.21 1342.26,2298.68 1327.38,2300.16 1312.5,2301.66 1297.62,2303.19 1282.74,2304.74 1267.86,2306.34 1252.98,2308.01 1238.1,2309.76 1223.22,2311.65 1208.34,2313.75 1193.46,2316.13 1178.58,2318.85 1163.7,2321.92 1148.82,2325.29 1133.94,2328.87 1119.06,2332.59 1104.18,2336.41 1089.3,2340.3" fill="#999" fill-opacity="0.4"/>
<line x1="1089.3" y1="2330.3" x2="1684.5" y2="2220.4" stroke="#3366FF" stroke-width="3.4"/>
<rect x="1059.8" y="1808.4" width="654.4" height="639" fill="none" stroke="#555" stroke-width="1.9"/>
<text x="1048.9" y="2426.1" font-size="19" text-anchor="end" fill="#4d4d4d">0.00</text>
<text x="1048.9" y="2281.5" font-size="19" text-anchor="end" fill="#4d4d4d">0.05</text>
<text x="1048.9" y="2136.9" font-size="19" text-anchor="end" fill="#4d4d4d">0.10</text>
<text x="1048.9" y="1992.3" font-size="19" text-anchor="end" fill="#4d4d4d">0.15</text>
<text x="1048.9" y="1847.7" font-size="19" text-anchor="end" fill="#4d4d4d">0.20</text>
<text x="1175" y="2472.4" font-size="19" text-anchor="middle" fill="#4d4d4d">1</text>
<text x="1293.8" y="2472.4" font-size="19" text-anchor="middle" fill="#4d4d4d">2</text>
<text x="1412.6" y="2472.4" font-size="19" text-anchor="middle" fill="#4d4d4d">3</text>
<text x="1531.4" y="2472.4" font-size="19" text-anchor="middle" fill="#4d4d4d">4</text>
<text x="1650.2" y="2472.4" font-size="19" text-anchor="middle" fill="#4d4d4d">5</text>
<path d="M1059.8 2419.2h-5.6M1059.8 2274.6h-5.6M1059.8 2130h-5.6M1059.8 1985.4h-5.6M1059.8 1840.8h-5.6M1175 2447.4v5.6M1293.8 2447.4v5.6M1412.6 2447.4v5.6M1531.4 2447.4v5.6M1650.2 2447.4v5.6" stroke="#333" stroke-width="2" fill="none"/>
<text x="1387" y="2497.9" font-size="22.9" text-anchor="middle">Risk score</text>
<text x="0" y="0" font-size="22.9" text-anchor="middle" transform="translate(1002.4 2128.5) rotate(-90)">T cell regulatory (Tregs)_CIBERSORT</text>
<text x="1090.2" y="1862" font-size="22.5"><tspan font-style="italic">R</tspan> = 0.16, <tspan font-style="italic">p</tspan> = 0.00067</text>
</svg>
</body></html>
